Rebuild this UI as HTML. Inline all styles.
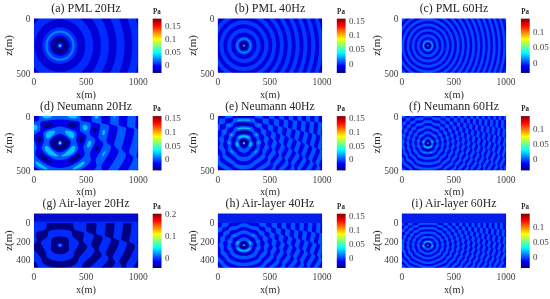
<!DOCTYPE html>
<html lang="en"><head><meta charset="utf-8"><title>Wavefields: PML, Neumann, Air-layer</title>
<style>html,body{margin:0;padding:0;background:#fff}svg{display:block}text{font-family:"Liberation Serif","DejaVu Serif",serif;fill:#262626}.t{fill:#424242}</style></head><body>
<svg width="550" height="299" viewBox="0 0 550 299">
<defs>
<linearGradient id="jet" x1="0" y1="1" x2="0" y2="0"><stop offset="0" stop-color="#000080"/><stop offset="0.125" stop-color="#0000ff"/><stop offset="0.375" stop-color="#00ffff"/><stop offset="0.625" stop-color="#ffff00"/><stop offset="0.875" stop-color="#ff0000"/><stop offset="1" stop-color="#800000"/></linearGradient>
<clipPath id="c00"><rect x="29.95" y="14.55" width="112.20" height="62.20"/></clipPath>
<clipPath id="c01"><rect x="213.85" y="14.55" width="112.20" height="62.20"/></clipPath>
<clipPath id="c02"><rect x="397.85" y="14.55" width="112.20" height="62.20"/></clipPath>
<clipPath id="c10"><rect x="29.95" y="112.00" width="112.20" height="62.20"/></clipPath>
<clipPath id="c11"><rect x="213.85" y="112.00" width="112.20" height="62.20"/></clipPath>
<clipPath id="c12"><rect x="397.85" y="112.00" width="112.20" height="62.20"/></clipPath>
<clipPath id="c20"><rect x="29.95" y="209.60" width="112.20" height="62.20"/></clipPath>
<clipPath id="c21"><rect x="213.85" y="209.60" width="112.20" height="62.20"/></clipPath>
<clipPath id="c22"><rect x="397.85" y="209.60" width="112.20" height="62.20"/></clipPath>
</defs>
<rect width="550" height="299" fill="#fff"/>
<g clip-path="url(#c00)">
<rect x="29.95" y="14.55" width="112.20" height="62.20" fill="#0000d4"/>
<ellipse cx="60.00" cy="45.65" rx="80.11" ry="83.34" fill="#002aff"/>
<ellipse cx="60.00" cy="45.65" rx="72.30" ry="75.21" fill="#0000d4"/>
<ellipse cx="60.00" cy="45.65" rx="64.49" ry="67.08" fill="#002aff"/>
<ellipse cx="60.00" cy="45.65" rx="56.67" ry="58.96" fill="#0000d4"/>
<ellipse cx="60.00" cy="45.65" rx="48.86" ry="50.83" fill="#002aff"/>
<ellipse cx="60.00" cy="45.65" rx="41.05" ry="42.70" fill="#0000d4"/>
<ellipse cx="60.00" cy="45.65" rx="33.24" ry="34.58" fill="#002aff"/>
<ellipse cx="60.00" cy="45.65" rx="25.43" ry="26.45" fill="#0000d4"/>
<ellipse cx="60.00" cy="45.65" rx="17.63" ry="18.34" fill="#002aff"/>
<ellipse cx="60.00" cy="45.65" rx="14.62" ry="15.21" fill="#0080ff"/>
<ellipse cx="60.00" cy="45.65" rx="12.42" ry="12.92" fill="#002aff"/>
<ellipse cx="60.00" cy="45.65" rx="9.84" ry="10.24" fill="#0000d4"/>
<ellipse cx="60.00" cy="45.65" rx="7.96" ry="8.28" fill="#000080"/>
<ellipse cx="60.00" cy="45.65" rx="3.33" ry="3.47" fill="#0000d4"/>
<ellipse cx="60.00" cy="45.65" rx="2.22" ry="2.31" fill="#002aff"/>
<ellipse cx="60.00" cy="45.65" rx="1.49" ry="1.55" fill="#0080ff"/>
<ellipse cx="60.00" cy="45.65" rx="0.98" ry="1.02" fill="#00d4ff"/>
<ellipse cx="60.00" cy="45.65" rx="0.63" ry="0.65" fill="#2affd5"/>
<ellipse cx="60.00" cy="45.65" rx="0.40" ry="0.41" fill="#7fff80"/>
<ellipse cx="60.00" cy="45.65" rx="0.25" ry="0.26" fill="#d5ff2a"/>
<ellipse cx="60.00" cy="45.65" rx="0.15" ry="0.16" fill="#ffd500"/>
<ellipse cx="60.00" cy="45.65" rx="0.09" ry="0.10" fill="#ff8000"/>
<ellipse cx="60.00" cy="45.65" rx="0.06" ry="0.06" fill="#ff2b00"/>
<ellipse cx="60.00" cy="45.65" rx="0.04" ry="0.04" fill="#d50000"/>
<ellipse cx="60.00" cy="45.65" rx="0.02" ry="0.02" fill="#800000"/>
<ellipse cx="60.00" cy="45.65" rx="0.01" ry="0.01" fill="#800000"/>
<ellipse cx="60.00" cy="45.65" rx="0.01" ry="0.01" fill="#800000"/>
<ellipse cx="60.00" cy="45.65" rx="0.01" ry="0.01" fill="#800000"/>
</g>
<g clip-path="url(#c01)">
<rect x="213.85" y="14.55" width="112.20" height="62.20" fill="#003aff"/>
<ellipse cx="243.90" cy="45.65" rx="83.04" ry="86.38" fill="#0000dc"/>
<ellipse cx="243.90" cy="45.65" rx="79.13" ry="82.32" fill="#003aff"/>
<ellipse cx="243.90" cy="45.65" rx="75.22" ry="78.25" fill="#0000dc"/>
<ellipse cx="243.90" cy="45.65" rx="71.31" ry="74.19" fill="#003aff"/>
<ellipse cx="243.90" cy="45.65" rx="67.41" ry="70.12" fill="#0000dc"/>
<ellipse cx="243.90" cy="45.65" rx="63.50" ry="66.06" fill="#003aff"/>
<ellipse cx="243.90" cy="45.65" rx="59.59" ry="61.99" fill="#0000dc"/>
<ellipse cx="243.90" cy="45.65" rx="55.69" ry="57.93" fill="#003aff"/>
<ellipse cx="243.90" cy="45.65" rx="51.78" ry="53.86" fill="#0000dc"/>
<ellipse cx="243.90" cy="45.65" rx="47.87" ry="49.80" fill="#003aff"/>
<ellipse cx="243.90" cy="45.65" rx="43.96" ry="45.74" fill="#0000dc"/>
<ellipse cx="243.90" cy="45.65" rx="40.06" ry="41.67" fill="#003aff"/>
<ellipse cx="243.90" cy="45.65" rx="36.15" ry="37.61" fill="#0000dc"/>
<ellipse cx="243.90" cy="45.65" rx="32.24" ry="33.54" fill="#003aff"/>
<ellipse cx="243.90" cy="45.65" rx="28.34" ry="29.48" fill="#0000dc"/>
<ellipse cx="243.90" cy="45.65" rx="24.43" ry="25.41" fill="#003aff"/>
<ellipse cx="243.90" cy="45.65" rx="20.52" ry="21.35" fill="#0000dc"/>
<ellipse cx="243.90" cy="45.65" rx="16.62" ry="17.29" fill="#003aff"/>
<ellipse cx="243.90" cy="45.65" rx="12.71" ry="13.23" fill="#0000dc"/>
<ellipse cx="243.90" cy="45.65" rx="8.81" ry="9.17" fill="#003aff"/>
<ellipse cx="243.90" cy="45.65" rx="7.31" ry="7.60" fill="#0097ff"/>
<ellipse cx="243.90" cy="45.65" rx="6.21" ry="6.46" fill="#003aff"/>
<ellipse cx="243.90" cy="45.65" rx="4.92" ry="5.12" fill="#0000dc"/>
<ellipse cx="243.90" cy="45.65" rx="3.98" ry="4.14" fill="#000080"/>
<ellipse cx="243.90" cy="45.65" rx="1.67" ry="1.73" fill="#0000dc"/>
<ellipse cx="243.90" cy="45.65" rx="1.11" ry="1.16" fill="#003aff"/>
<ellipse cx="243.90" cy="45.65" rx="0.75" ry="0.78" fill="#0097ff"/>
<ellipse cx="243.90" cy="45.65" rx="0.49" ry="0.51" fill="#00f3ff"/>
<ellipse cx="243.90" cy="45.65" rx="0.31" ry="0.33" fill="#51ffae"/>
<ellipse cx="243.90" cy="45.65" rx="0.20" ry="0.21" fill="#aeff51"/>
<ellipse cx="243.90" cy="45.65" rx="0.12" ry="0.13" fill="#fff300"/>
<ellipse cx="243.90" cy="45.65" rx="0.08" ry="0.08" fill="#ff9700"/>
<ellipse cx="243.90" cy="45.65" rx="0.05" ry="0.05" fill="#ff3a00"/>
<ellipse cx="243.90" cy="45.65" rx="0.03" ry="0.03" fill="#dc0000"/>
<ellipse cx="243.90" cy="45.65" rx="0.02" ry="0.02" fill="#800000"/>
<ellipse cx="243.90" cy="45.65" rx="0.01" ry="0.01" fill="#800000"/>
<ellipse cx="243.90" cy="45.65" rx="0.01" ry="0.01" fill="#800000"/>
</g>
<g clip-path="url(#c02)">
<rect x="397.85" y="14.55" width="112.20" height="62.20" fill="#0000e5"/>
<ellipse cx="427.90" cy="45.65" rx="83.14" ry="86.49" fill="#004cff"/>
<ellipse cx="427.90" cy="45.65" rx="80.56" ry="83.81" fill="#0000e5"/>
<ellipse cx="427.90" cy="45.65" rx="77.98" ry="81.13" fill="#004cff"/>
<ellipse cx="427.90" cy="45.65" rx="75.41" ry="78.44" fill="#0000e5"/>
<ellipse cx="427.90" cy="45.65" rx="72.83" ry="75.76" fill="#004cff"/>
<ellipse cx="427.90" cy="45.65" rx="70.25" ry="73.08" fill="#0000e5"/>
<ellipse cx="427.90" cy="45.65" rx="67.67" ry="70.40" fill="#004cff"/>
<ellipse cx="427.90" cy="45.65" rx="65.09" ry="67.72" fill="#0000e5"/>
<ellipse cx="427.90" cy="45.65" rx="62.52" ry="65.04" fill="#004cff"/>
<ellipse cx="427.90" cy="45.65" rx="59.94" ry="62.35" fill="#0000e5"/>
<ellipse cx="427.90" cy="45.65" rx="57.36" ry="59.67" fill="#004cff"/>
<ellipse cx="427.90" cy="45.65" rx="54.78" ry="56.99" fill="#0000e5"/>
<ellipse cx="427.90" cy="45.65" rx="52.20" ry="54.31" fill="#004cff"/>
<ellipse cx="427.90" cy="45.65" rx="49.63" ry="51.63" fill="#0000e5"/>
<ellipse cx="427.90" cy="45.65" rx="47.05" ry="48.95" fill="#004cff"/>
<ellipse cx="427.90" cy="45.65" rx="44.47" ry="46.26" fill="#0000e5"/>
<ellipse cx="427.90" cy="45.65" rx="41.89" ry="43.58" fill="#004cff"/>
<ellipse cx="427.90" cy="45.65" rx="39.32" ry="40.90" fill="#0000e5"/>
<ellipse cx="427.90" cy="45.65" rx="36.74" ry="38.22" fill="#004cff"/>
<ellipse cx="427.90" cy="45.65" rx="34.16" ry="35.54" fill="#0000e5"/>
<ellipse cx="427.90" cy="45.65" rx="31.58" ry="32.86" fill="#004cff"/>
<ellipse cx="427.90" cy="45.65" rx="29.00" ry="30.17" fill="#0000e5"/>
<ellipse cx="427.90" cy="45.65" rx="26.43" ry="27.49" fill="#004cff"/>
<ellipse cx="427.90" cy="45.65" rx="23.85" ry="24.81" fill="#0000e5"/>
<ellipse cx="427.90" cy="45.65" rx="21.27" ry="22.13" fill="#004cff"/>
<ellipse cx="427.90" cy="45.65" rx="18.69" ry="19.45" fill="#0000e5"/>
<ellipse cx="427.90" cy="45.65" rx="16.12" ry="16.77" fill="#004cff"/>
<ellipse cx="427.90" cy="45.65" rx="13.54" ry="14.09" fill="#0000e5"/>
<ellipse cx="427.90" cy="45.65" rx="10.96" ry="11.41" fill="#004cff"/>
<ellipse cx="427.90" cy="45.65" rx="8.39" ry="8.73" fill="#0000e5"/>
<ellipse cx="427.90" cy="45.65" rx="5.81" ry="6.05" fill="#004cff"/>
<ellipse cx="427.90" cy="45.65" rx="4.82" ry="5.02" fill="#00b2ff"/>
<ellipse cx="427.90" cy="45.65" rx="4.10" ry="4.26" fill="#004cff"/>
<ellipse cx="427.90" cy="45.65" rx="3.25" ry="3.38" fill="#0000e5"/>
<ellipse cx="427.90" cy="45.65" rx="2.62" ry="2.73" fill="#000080"/>
<ellipse cx="427.90" cy="45.65" rx="1.10" ry="1.14" fill="#0000e5"/>
<ellipse cx="427.90" cy="45.65" rx="0.73" ry="0.76" fill="#004cff"/>
<ellipse cx="427.90" cy="45.65" rx="0.49" ry="0.51" fill="#00b2ff"/>
<ellipse cx="427.90" cy="45.65" rx="0.32" ry="0.34" fill="#19ffe6"/>
<ellipse cx="427.90" cy="45.65" rx="0.21" ry="0.22" fill="#80ff80"/>
<ellipse cx="427.90" cy="45.65" rx="0.13" ry="0.14" fill="#e5ff1a"/>
<ellipse cx="427.90" cy="45.65" rx="0.08" ry="0.08" fill="#ffb200"/>
<ellipse cx="427.90" cy="45.65" rx="0.05" ry="0.05" fill="#ff4d00"/>
<ellipse cx="427.90" cy="45.65" rx="0.03" ry="0.03" fill="#e50000"/>
<ellipse cx="427.90" cy="45.65" rx="0.02" ry="0.02" fill="#800000"/>
<ellipse cx="427.90" cy="45.65" rx="0.01" ry="0.01" fill="#800000"/>
<ellipse cx="427.90" cy="45.65" rx="0.01" ry="0.01" fill="#800000"/>
</g>
<g clip-path="url(#c10)">
<rect x="29.95" y="112.00" width="112.20" height="62.20" fill="#000080"/>
<path fill="#0000eb" d="M35.38 114l49.24 0 -.43 .5 -.33 .75 -.09 .5 0 .5 .17 .75 .43 .75 .58 .5 .75 .33 .75 .11 .75-.08 .74-.36 .46-.5 .26-.5 .18-.75 0-1 -.18-.75 -.45-.75 16.77 0 -.28 .53 -.19 .72 -.06 .75 .06 .75 .19 .72 .25 .49 .25 .29 .5 .24 .25 0 .25-.08 .25-.17 .36-.49 .27-.75 .1-.75 -.06-1 -.17-.69 -.29-.56 33.54 0 0 56.75 0 1.5 -53.76 0 1.02-1 .38-.5 .28-.5 .08-.25 -.01-.25 -.24-.25 -.25-.03 -.5 .08 -.5 .17 -1 .46 -1.47 .82 -2.03 1.25 -44.4 0 -2.03-1.25 -1.83-1 -1.24-.47 -.5-.05 -.25 .08 0-51.41 .25 .19 .5 .24 .5 .1 .5 .01 .5-.08 .5-.17 .5-.29 .43-.4 .33-.5 .18-.5 .09-.5 0-.5 -.09-.5 -.18-.5 -.26-.41zM38.45 135.72l-.5 .21 -.47 .32 -.28 .26 -.37 .49 -.24 .5 -.14 .5 -.05 1 .12 .75 .23 .75 .34 .75 .36 .59 .75 .8 .5 .28 .5 .09 .5-.11 .5-.32 .5-.56 .25-.43 .25-.6 .17-.74 .07-.75 -.05-.75 -.13-.75 -.24-.75 -.32-.64 -.26-.36 -.49-.41 -.5-.19 -.5-.03zM48.2 122.48l-1 .11 -1 .2 -.75 .23 -.75 .36 -.51 .37 -.45 .5 -.29 .53 -.18 .72 .01 .75 .17 .64 .25 .44 .5 .45 .75 .26 .75 .03 1-.14 1-.25 1.86-.68 1.04-.5 .85-.5 .67-.5 .49-.5 .31-.5 .07-.25 -.06-.5 -.16-.25 -.32-.29 -.75-.36 -.75-.21 -.75-.11 -1-.07zM58.95 136.5l-1.5 .3 -1.75 .65 -1.5 .83 -1.25 .95 -.96 1.02 -.62 1 -.33 1 -.07 .5 .03 .75 .09 .5 .24 .75 .37 .75 .49 .75 1.1 1.25 1.41 1.12 1.5 .84 1.5 .54 1.5 .26 .75 .04 1-.05 1.5-.3 1.5-.56 1.5-.87 1.26-1.02 1.1-1.25 .75-1.25 .4-1.25 .07-.75 -.03-.5 -.17-.75 -.2-.5 -.68-1.07 -.5-.57 -.67-.61 -1.33-.94 -1.5-.77 -1.75-.58 -1.5-.25 -.75-.02zM70.2 122.49l-1.6 .26 -.69 .25 -.42 .25 -.29 .29 -.19 .46 0 .25 .2 .5 .4 .5 .58 .5 .76 .5 .94 .5 1.84 .75 .97 .29 1 .21 .75 .07 .78-.07 .61-.25 .51-.5 .33-.75 .07-.75 -.12-.75 -.37-.75 -.31-.37 -.5-.4 -.75-.4 -.75-.25 -1.75-.32zM80.45 135.67l-.5 .23 -.25 .21 -.33 .39 -.39 .75 -.24 .75 -.13 .75 -.04 .75 .06 .75 .1 .5 .28 .75 .28 .5 .41 .49 .33 .26 .42 .2 .5 .05 .5-.14 .5-.34 .27-.27 .48-.63 .34-.62 .3-.75 .19-.75 .08-.75 -.02-.5 -.14-.64 -.25-.57 -.25-.36 -.43-.43 -.57-.37 -.5-.19 -.5-.08zM94.7 127.2l-.5 .21 -.25 .2 -.5 .67 -.25 .59 -.16 .63 -.08 .75 .01 .5 .23 1 .25 .47 .25 .3 .29 .23 .46 .19 .5 0 .25-.07 .5-.33 .25-.28 .43-.76 .32-1.08 .06-1.17 -.14-.75 -.17-.41 -.25-.37 -.25-.24 -.5-.26 -.25-.05zM97.2 145.97l-.75 .59 -.75 1 -.61 1.19 -.42 1.25 -.12 1 .15 .67 .25 .31 .25 .1 .25 .01 .34-.09 .41-.22 .5-.42 .71-.86 .6-1 .48-1.25 .15-1 -.04-.5 -.15-.43 -.25-.32 -.25-.12 -.25-.04zM110.95 157.73l-.25 .17 -.5 .65 -.29 .7 .04 .37 .25-.04 .25-.2 .5-.72 .22-.66 -.13-.25zM112.2 132.95l-.25 .21 -.25 .33 -.25 .5 -.23 .76 -.1 .75 .05 .75 .21 .5 .32 .19 .25-.05 .44-.39 .31-.51 .26-.74 .13-.75 -.01-.75 -.13-.5 -.25-.3 -.25-.07zM40.2 153.69l-.4 .31 -.22 .5 -.02 .75 .2 .75 .37 .75 .57 .82 .85 .93 .84 .75 .99 .75 1.19 .75 1.38 .72 1.25 .53 1.5 .48 1 .22 1 .11 .75-.02 .25-.04 .41-.25 .05-.25 -.1-.25 -.64-.75 -1.18-1 -5.79-4.49 -1.75-1.27 -.75-.46 -.75-.32 -.5-.1zM78.7 153.74l-1 .49 -1.5 1.04 -6.13 4.73 -1.74 1.5 -.39 .5 -.09 .25 .1 .31 .5 .22 1.25 0 1.25-.22 1.13-.31 1.34-.5 1.03-.47 1-.54 1.17-.74 .99-.75 .85-.75 .74-.8 .67-.95 .46-1 .14-.75 -.04-.5 -.09-.25 -.14-.26 -.25-.23 -.5-.15zM59.18 139.75l.52-.15 .5-.01 .5 .11 .5 .25 .5 .42 .3 .38 .29 .5 .26 .75 .09 .5 .01 .75 -.15 .75 -.19 .5 -.3 .5 -.31 .36 -.5 .39 -.5 .23 -.5 .11 -.5-.01 -.5-.13 -.5-.26 -.5-.43 -.25-.32 -.37-.69 -.15-.5 -.08-.5 .01-.75 .15-.75 .19-.48 .3-.52 .42-.5 .28-.23zM31.95 170.5l0-.11 .39 .61 .43 .5 .79 .75 -1.61 0z"/>
<path fill="#0057ff" d="M39.33 114l41.34 0 -.02 3 .09 2 .21 .98 .34 .52 .66 .4 1 .3 6 1.14 .75 .24 .34 .17 .31 .25 .17 .25 .16 .5 .04 1.25 -.23 2.25 -.74 5 -.04 1 .09 .75 .31 .75 .61 .75 .9 .75 2.39 1.75 .75 .75 .31 .5 .17 .5 .05 .5 -.03 .5 -.35 1.5 -.78 2 -1.06 2.25 -2.48 4.75 -.43 1 -.31 1 -.11 1 .09 1 .79 2.75 .2 1 0 1 -.27 1 -.71 1.25 -1.24 1.5 -1.84 1.75 -2.06 1.66 -2 1.41 -2.25 1.4 -2.25 1.23 -2.18 1.05 -32.04 0 -3.28-1.63 -3.25-1.95 -1.5-1.03 -1.51-1.14 -1.2-1 -1.29-1.19 0-42.18 5.25-.97 1-.33 .5-.33 .34-.5 .22-1 .09-2zM58.2 119.49l-9.25 .85 -4.25 .47 -2.61 .44 -.64 .2 -.5 .26 -.31 .29 -.15 .25 -.2 .75 -.06 1.25 .12 4.5 -.14 1 -.26 .75 -.5 .71 -.58 .54 -1.08 .75 -2.43 1.5 -.71 .5 -.56 .5 -.41 .5 -.24 .5 -.12 .5 0 .75 .16 1 .35 1.25 .64 1.75 1.62 4 .31 1 .18 1 .02 .75 -.15 1 -.95 2.75 -.27 1 -.09 .75 .06 .75 .21 .75 .36 .75 .68 1 .84 1 .98 1 1.4 1.25 1.28 1.01 1.5 1.07 1.5 .95 1.75 1 1.5 .77 1.75 .79 1.5 .59 1.75 .59 1.5 .43 1.75 .38 1.75 .27 1.5 .13 1.5 .04 1.5-.06 2.75-.36 1.5-.32 1.5-.4 3-1.05 3-1.35 3-1.69 2.61-1.79 1.27-1 1.13-1 1.02-1 .88-1 .72-1 .4-.75 .26-.75 .11-.75 -.04-.75 -.16-.75 -.88-2.5 -.27-1 -.11-1 .1-1 .51-1.75 1.53-3.75 .64-1.75 .4-1.5 .12-1.25 -.06-.5 -.17-.5 -.32-.5 -.49-.5 -1.01-.75 -2.43-1.5 -1.01-.7 -.62-.55 -.53-.75 -.26-.75 -.14-1 .12-4.5 -.06-1.25 -.1-.5 -.16-.36 -.25-.31 -.25-.19 -.75-.31 -1.25-.28 -4.5-.57 -10.25-.96 -2-.09zM91.71 114l9.61 0 -.05 7.5 .13 1 .25 .5 .55 .41 .75 .27 4 .9 1.25 .38 .49 .29 .23 .25 .19 .5 .05 .75 -.04 .75 -.35 2.5 -.71 3.5 -1.43 5.75 -.2 1.25 -.01 .75 .17 .75 .46 .75 .75 .75 2.12 1.75 .69 .75 .28 .5 .15 .5 .03 .5 -.09 .75 -.37 1.25 -.5 1.25 -1.62 3.25 -2.04 3.46 -3.76 5.79 -.57 1 -.44 1 -.25 1 -.03 1 .16 1 .59 2.5 .06 .75 -.06 .75 -1.95 0 -8.59 0 1.72-1.5 1.46-1.5 .97-1.25 .54-1 .23-.75 .07-1 -.15-1 -.54-2 -.2-1 -.03-1 .2-1 .38-1 .51-1 3.28-5.5 1.73-3.25 .78-1.75 .46-1.25 .25-1 .06-.75 -.14-.75 -.44-.75 -.75-.75 -1.92-1.5 -.84-.75 -.57-.75 -.27-.75 -.05-.75 .13-1.25 1.15-5.5 .49-3 .13-1.75 -.03-.5 -.12-.5 -.14-.25 -.25-.25 -.76-.36 -1.25-.33 -4.25-.9 -.75-.27 -.54-.39 -.27-.5 -.15-1zM110.31 114l8.66 0 0 4 -.21 5.75 .06 1 .14 .5 .16 .25 .29 .25 .79 .35 3.75 .9 1.25 .4 .5 .32 .21 .28 .18 .75 -.03 1 -.18 1.5 -.8 4.25 -1.13 4.5 -1.91 6.5 -.27 1.25 -.05 .75 .04 .5 .16 .5 .49 .75 .76 .75 1.74 1.5 .48 .5 .36 .5 .22 .5 .09 .5 -.02 .5 -.14 .75 -.61 1.75 -1.32 2.75 -1.66 3 -1.86 3 -2 2.96 -2.19 3.04 -1.06 0 -8.16 0 .3-1 .79-1.5 4.82-7.05 1.55-2.45 1.31-2.25 1.06-2 .94-2 .56-1.5 .25-1.25 -.05-.75 -.32-.75 -.63-.75 -2.06-1.75 -.74-.75 -.47-.75 -.15-.5 -.05-.5 .06-.75 .2-1 1.7-6.25 .93-4 .59-3.5 .1-1.25 -.04-.75 -.17-.5 -.2-.25 -.62-.37 -1-.31 -3.25-.73 -1-.29 -.63-.3 -.28-.25 -.15-.25 -.14-.5 -.07-1 .14-5zM127.42 114l8.32 0 -.03 5.25 -.35 7 .02 .75 .09 .5 .27 .5 .32 .25 .39 .19 1.01 .31 2.74 .65 0 13.72 -1.25 4.26 -2.06 6.37 -.31 1.25 -.08 .75 .02 .5 .13 .5 .44 .75 .71 .75 1.71 1.5 .69 .77 0 3.52 -.61 1.46 -.97 2 -1.22 2.25 -1.46 2.5 -3.74 0 -5.93 0 2.58-4 2.15-3.75 1.58-3.25 .48-1.25 .28-1 .05-1 -.12-.5 -.26-.5 -.64-.75 -1.98-1.75 -.7-.75 -.41-.75 -.11-.5 -.02-.5 .14-1 .26-1 2.15-6.96 1.27-4.79 .98-4.75 .29-2 .08-1.25 -.02-.5 -.14-.5 -.16-.25 -.31-.25 -.54-.25 -.7-.22 -3-.7 -1.12-.33 -.63-.32 -.37-.43 -.15-.5 -.05-1 .28-6.25zM59.03 126.5l1.67-.02 1.75 .26 2.25 .6 4.25 1.31 3 1.03 1.98 .82 1.37 .75 .88 .75 .34 .5 .19 .5 .1 .5 .03 .75 -.14 1.5 -.63 3.75 -.05 1 .05 .75 .15 .75 .35 1 1.54 3.25 .23 .75 .09 .75 -.06 .75 -.31 1 -.54 1 -.72 1 -.88 1 -1.28 1.25 -1.19 1.01 -1.5 1.11 -1.25 .82 -1.5 .86 -1.5 .74 -1.5 .63 -1.5 .5 -1.25 .32 -1.25 .22 -1.5 .14 -1.25 .01 -1.5-.13 -1.5-.26 -1.5-.41 -1.5-.53 -1.5-.65 -1.5-.77 -1.5-.89 -1.5-1.03 -1.5-1.17 -1.13-1.02 -1.2-1.25 -.98-1.25 -.59-1 -.37-1 -.11-.75 .05-.75 .27-1 1.64-3.5 .25-.75 .15-.75 .05-.75 -.05-1 -.63-3.75 -.14-1.5 .03-.75 .1-.5 .19-.5 .34-.5 .63-.57 1.11-.68 1.39-.64 1.59-.61 3.16-1.06 4.25-1.29 1.75-.44zM59.95 133.74l-.75 .06 -.75 .15 -.75 .24 -1 .45 -2 1.22 -2 1.51 -1.8 1.63 -1.05 1.25 -.44 .75 -.22 .5 -.14 .5 -.06 .75 .08 .75 .21 .75 .32 .75 .56 1 .7 1 .61 .75 .73 .78 1 .93 1.75 1.3 1 .57 .75 .34 .75 .27 1 .26 1 .13 .75 .01 .75-.05 1-.18 1.5-.5 1-.5 .75-.45 1.75-1.33 1.58-1.58 .8-1 .51-.75 .56-1 .32-.75 .21-.75 .08-.75 -.02-.5 -.18-.75 -.21-.5 -.46-.75 -.58-.75 -.71-.75 -1.65-1.46 -2.25-1.66 -1.75-1.04 -1-.43 -.75-.24 -.75-.14zM59.18 141.25l.52-.2 .75 .04 .37 .16 .34 .25 .38 .5 .24 .75 -.04 .75 -.33 .75 -.54 .5 -.67 .24 -.75-.08 -.5-.28 -.25-.24 -.26-.39 -.22-.75 .05-.75 .35-.75z"/>
<path fill="#00c3ff" d="M43.34 114.25l.37-.25 5.87 0 1.12 .39 .71 .36 .63 .5 .18 .25 .14 .5 -.14 .5 -.18 .25 -.59 .48 -.5 .27 -.75 .3 -1 .3 -2 .33 -1.75 .02 -.75-.11 -.75-.23 -.5-.27 -.37-.34 -.33-.5 -.16-.5 -.04-.75 .1-.5 .24-.5zM69.64 114.25l.78-.25 5.87 0 .16 .1 .47 .4 .33 .5 .2 .75 -.04 .75 -.16 .5 -.33 .5 -.47 .4 -.75 .34 -.75 .17 -.75 .06 -1-.01 -1-.1 -1-.17 -1-.26 -1-.36 -.61-.32 -.39-.28 -.42-.47 -.11-.25 0-.5 .28-.48 .28-.27 .72-.45zM95.1 114.25l.16-.25 2.61 0 .08 .12 .35 .88 .08 .5 .02 .75 -.2 1.09 -.25 .54 -.25 .34 -.5 .37 -.25 .09 -.5 .04 -.5-.15 -.25-.14 -.5-.52 -.23-.41 -.16-.5 -.13-1 .13-1zM114.33 114.25l.12-.09 .25-.03 .25 .12 .25 .33 .25 .81 .04 .61 -.07 .75 -.22 .67 -.25 .33 -.25 .12 -.25-.03 -.25-.21 -.25-.47 -.1-.41 -.07-.75 .07-.75 .14-.5 .21-.38zM34.69 124.75l.51-.03 .5 .07 .5 .18 .4 .28 .35 .4 .2 .35 .17 .5 .08 .5 -.01 .75 -.1 .5 -.18 .5 -.29 .5 -.37 .44 -.36 .31 -.39 .25 -.63 .25 -.62 .08 -.5-.07 -.5-.26 -.25-.22 -.37-.53 -.23-.5 -.15-.54 -.09-.71 .09-1 .17-.5 .3-.5 .28-.31 .5-.36 .5-.21zM84.52 124.75l.93 .02 .5 .15 .5 .25 .41 .33 .34 .42 .34 .83 .08 .5 0 .75 -.14 .75 -.28 .71 -.25 .39 -.41 .4 -.34 .2 -.5 .12 -.5-.01 -.5-.13 -.5-.24 -.5-.36 -.33-.33 -.35-.5 -.23-.5 -.14-.5 -.07-.75 .05-.5 .12-.5 .2-.44 .25-.36 .5-.42zM103.52 130l.43-.17 .25 .01 .25 .09 .25 .2 .34 .62 .13 .75 -.05 1 -.17 .74 -.19 .51 -.43 .75 -.54 .5 -.34 .13 -.25-.01 -.25-.08 -.25-.21 -.32-.58 -.14-.75 .05-1 .23-1 .43-.92 .25-.32zM51.16 130.75l1.04-.13 .75-.02 .75 .06 .5 .12 .48 .22 .27 .25 .12 .25 0 .5 -.2 .5 -.49 .75 -1.36 1.5 -2.07 1.86 -1 .78 -.92 .61 -.83 .4 -.75 .1 -.5-.17 -.5-.46 -.46-.87 -.26-1 -.03-1 .14-.75 .32-.75 .36-.5 .5-.5 .68-.5 .75-.4 .84-.35 .91-.29zM65.89 130.75l.81-.13 1-.01 1 .12 1.23 .27 1.02 .34 .9 .41 .81 .5 .59 .5 .45 .54 .38 .71 .19 .75 .04 .75 -.11 .86 -.25 .79 -.32 .6 -.46 .5 -.47 .22 -.5 .02 -.5-.13 -.75-.37 -1-.68 -1-.78 -2.22-2.03 -1.29-1.5 -.31-.5 -.2-.5 0-.5 .12-.25 .27-.25zM89.41 140.75l.29-.08 .5 .01 .5 .23 .25 .23 .25 .36 .19 .5 .07 .5 0 .5 -.25 1.25 -.56 1.25 -.7 1.03 -.5 .52 -.5 .35 -.5 .19 -.25 .02 -.42-.11 -.33-.25 -.25-.37 -.14-.38 -.1-.5 0-.75 .12-.75 .2-.75 .66-1.5 .76-1.01 .27-.24zM59.35 142l.35-.18 .5-.02 .5 .23 .37 .47 .12 .5 -.07 .5 -.31 .5 -.36 .25 -.25 .08 -.5-.03 -.5-.29 -.21-.26 -.17-.5 .02-.5 .24-.5zM31.95 142.25l0-.18 .5 .96 .27 .72 .25 1 .08 .75 -.02 .5 -.09 .5 -.24 .56 -.25 .29 -.5 .24zM45.95 145.75l.25-.08 .5 .02 .5 .2 .5 .36 1 .95 3.25 3.47 2 1.86 1.25 1.01 1.25 .87 2.36 1.34 .09 .25 -.73 .25 -.72 .09 -1.25 .05 -1.5-.11 -1.43-.28 -1.32-.4 -1.44-.6 -1.31-.71 -1.18-.79 -1.07-.9 -.82-.85 -.74-1 -.5-1 -.26-1 .01-1 .21-.75 .46-.75 .39-.36zM73.12 145.75l.58-.09 .34 .09 .41 .25 .43 .5 .27 .5 .24 1 -.06 1 -.32 1 -.56 1 -.8 1 -.95 .92 -1.07 .83 -1.18 .75 -1.5 .75 -1.35 .5 -1.4 .37 -1.25 .2 -1.5 .07 -1.63-.14 -.72-.25 .09-.25 2.51-1.44 1-.7 1.25-.99 2.25-2.1 3.75-3.97 .75-.6zM104.31 151.5l.39-.16 .25 .03 .25 .25 .09 .63 -.13 .75 -.41 1 -.55 .92 -.75 .87 -.5 .37 -.5 .15 -.25-.1 -.13-.21 -.06-.5 .15-.75 .52-1.25 .52-.85 .5-.64zM35.73 161.5l.47-.03 .5 .11 .5 .18 1 .51 1.98 1.23 4.03 2.75 1.69 1.25 1.1 1 .29 .5 -.05 .25 -.29 .16 -.5 .07 -1-.1 -1-.23 -1.25-.4 -2.26-1 -2.08-1.25 -1-.75 -.84-.75 -.7-.75 -.55-.75 -.37-.75 -.11-.5 .11-.5zM83.6 161.5l.6-.02 .25 .12 .15 .15 .1 .25 .01 .25 -.11 .5 -.22 .5 -.49 .75 -.66 .75 -.79 .75 -1.67 1.25 -2.2 1.25 -1.12 .5 -1.25 .46 -1.02 .29 -.98 .18 -1 .02 -.44-.2 -.05-.25 .11-.25 .41-.5 .56-.5 2.36-1.75 4.05-2.75 2-1.2 .75-.35z"/>
<path fill="#2fffd0" d="M59.46 142.5l.24-.17 .25-.06 .25 .02 .34 .21 .16 .25 .08 .25 -.02 .25 -.09 .25 -.22 .25 -.25 .13 -.25 .03 -.25-.07 -.25-.19 -.21-.4 -.01-.25 .06-.25z"/>
<path fill="#9aff65" d="M59.63 142.75l.32-.18 .25 .05 .16 .13 .13 .25 -.04 .29 -.25 .28 -.25 .05 -.25-.12 -.18-.25 -.01-.25z"/>
<path fill="#fff800" d="M59.71 143l.24-.23 .25 .08 .11 .15 -.03 .25 -.08 .09 -.25 .09 -.22-.18z"/>
<path fill="#ff8d00" d="M59.82 143l.13-.12 .2 .12 -.09 .25 -.11 .06 -.07-.06z"/>
<path fill="#ff2200" d="M59.93 143l.02-.02 .03 .02 -.03 .06z"/>
</g>
<g clip-path="url(#c11)">
<rect x="213.85" y="112.00" width="112.20" height="62.20" fill="#000080"/>
<path fill="#0000eb" d="M215.85 114l108.25 0 0 58.25 -108.25 0zM222.85 126.45l-.15 .05 -.1 .13 0 .17 .25 .07 .14-.12 -.03-.25zM225.35 144.96l-.25 .15 -.07 .39 .15 .5 .17 .26 .25 .2 .25 .04 .19-.25 .03-.25 -.22-.66 -.25-.28zM225.85 136.74l-.24 .51 .05 .5 .19 .3 .25 .11 .25-.04 .25-.2 .1-.17 .14-.5 -.04-.25 -.2-.35 -.25-.12 -.25 .05zM228.6 120.23l-.5 .21 -.21 .31 .07 .25 .14 .11 .25 .1 .5-.02 .5-.28 .11-.16 -.02-.25 -.34-.23zM230.1 129.45l-.5 .25 -.25 .25 -.15 .3 -.03 .25 .08 .25 .35 .24 .5-.04 .45-.2 .32-.25 .23-.33 .07-.42 -.17-.25 -.15-.08 -.25-.04zM233.85 138.15l-.5 .3 -.47 .55 -.2 .5 -.05 .5 .19 .75 .28 .36 .25 .13 .25 0 .25-.11 .4-.38 .35-.54 .24-.71 .05-.5 -.1-.5 -.19-.3 -.25-.12zM238.1 115.47l-.93 .28 -.17 .25 .17 .25 .18 .08 .54 .17 .46 .06 1.5 .05 4.25-.08 4 .08 1.5-.07 .5-.09 .5-.18 .21-.27 -.18-.25 -.28-.12 -.45-.13 -.55-.07 -1.5-.04 -4.25 .08 -4-.08zM253.35 138.11l-.25 .2 -.16 .44 -.01 .5 .17 .75 .26 .5 .49 .56 .25 .15 .25 .05 .25-.08 .25-.23 .25-.52 .06-.68 -.12-.5 -.3-.5 -.39-.38 -.5-.26 -.25-.04zM256.85 129.46l-.22 .29 0 .25 .31 .5 .32 .25 .34 .16 .5 .09 .25-.07 .2-.18 .08-.25 -.03-.27 -.34-.48 -.4-.25 -.26-.08 -.5-.03zM258.85 120.23l-.25 .08 -.25 .19 -.02 .25 .27 .29 .5 .18 .25 .01 .25-.07 .25-.16 .06-.25 -.06-.13 -.07-.12 -.43-.24zM261.1 136.75l-.13 .5 .13 .53 .25 .28 .25 .1 .25-.05 .13-.11 .16-.25 .05-.25 -.09-.54 -.25-.3 -.25-.12 -.25 .02zM262.35 144.97l-.33 .28 -.24 .5 -.01 .5 .08 .18 .25 .07 .25-.15 .25-.3 .17-.55 -.02-.25 -.14-.25zM264.85 126.47l-.05 .28 .3 .12 .11-.12 -.08-.25zM228.85 154.74l.04 .26 .41 .5 .32 .25 .48 .22 .25-.22 -.4-.5 -.6-.45 -.25-.1zM233.6 146.24l-.25 .04 -.24 .22 -.1 .25 -.03 .5 .23 .75 .39 .59 .5 .52 .5 .39 .75 .33 .25 .01 .2-.09 .11-.25 -.05-.5 -.2-.5 -.44-.75 -.62-.8 -.5-.47zM240.6 123.5l-2 .21 -1.02 .29 -.4 .25 -.16 .25 .09 .25 .49 .2 .5 .06 1 0 4.5-.3 3.25 .15 2.5 .16 .75-.05 .5-.17 .09-.05 .09-.25 -.16-.25 -.4-.25 -.78-.25 -1.34-.19 -1.25-.08zM254.35 146.24l-.25 .02 -.25 .12 -.5 .41 -.5 .58 -.58 .88 -.32 .75 -.06 .5 .12 .25 .34 .09 .5-.15 .75-.49 .5-.49 .49-.71 .19-.5 .05-.5 -.15-.5zM258.6 154.72l-.46 .28 -.53 .5 -.14 .25 .13 .25 .57-.25 .57-.5 .16-.25 .03-.25 -.08-.06zM240.85 131.49l-1 .2 -.75 .22 -.75 .33 -.38 .26 -.37 .41 -.15 .34 0 .25 .15 .22 .25 .11 .5 .03 .5-.05 2.5-.51 2-.24 1.75 .05 1.75 .26 2.25 .46 .75 .02 .31-.1 .19-.25 .01-.25 -.27-.5 -.63-.5 -1.11-.45 -1.5-.32 -2-.17 -2 0zM242.85 139l-.75 .21 -.75 .36 -.59 .43 -.41 .45 -.31 .55 -.13 .5 -.03 .5 .1 .75 .37 1.08 .75 1.62 .49 .8 .47 .5 .54 .35 .75 .26 .75 .04 .77-.15 .52-.25 .61-.5 .39-.5 .46-.85 .73-1.65 .24-.75 .1-.75 -.08-.75 -.2-.5 -.35-.5 -.56-.5 -.63-.37 -.75-.28 -.75-.16 -1-.03zM243.2 141.75l.65-.17 .5 .07 .25 .1 .5 .36 .44 .64 .18 .75 -.07 .5 -.09 .25 -.4 .5 -.56 .32 -.5 .11 -.75-.06 -.71-.37 -.4-.5 -.09-.25 -.06-.5 .17-.75 .34-.54 .25-.24z"/>
<path fill="#0057ff" d="M215.85 114l2.95 0 0 4 -.13 .5 -.48 .25 -2.34 .25zM224.79 114l7.41 0 .32 .25 .11 .25 .08 .5 .02 1.75 -.13 .84 -.25 .33 -.5 .18 -5.5 .42 -.75 .13 -.25 .14 -.14 .21 -.06 .25 -.06 3 -.09 .5 -.11 .25 -.23 .25 -.47 .25 -3.09 .82 -.52 .18 -.4 .25 -.18 .25 -.11 .5 .01 .75 .19 2.25 0 .5 -.1 .5 -.35 .5 -.34 .25 -1.94 1 -.7 .5 -.27 .5 -.04 .5 .14 1 .58 2.5 .07 1 -.16 .5 -.17 .25 -.96 .94 0-13.75 2.38-.69 .51-.25 .23-.25 .16-.5 .03-.5 -.09-3.25 .08-.5 .2-.24 .25-.1 .75-.12 3.5-.3 .5-.1 .28-.14 .16-.25 .09-.75 .01-2.25zM255.28 114.25l.32-.25 7.41 0 -.1 1 .01 2.25 .09 .75 .16 .25 .43 .18 .45 .07 3.8 .34 .5 .12 .25 .2 .11 .34 .02 .5 -.09 3.25 .08 .5 .11 .25 .24 .25 .5 .25 2.57 .75 .56 .25 .27 .25 .16 .5 .01 .5 -.42 3.25 -.02 .5 .06 .5 .28 .5 .3 .25 2.17 1.25 .45 .5 .11 .5 -.07 .75 -1.01 3.75 -.08 .5 .01 .5 .06 .25 .28 .5 1.27 1.25 .42 .5 .12 .25 .1 .5 -.12 .75 -.27 .75 -1.78 3.75 -.33 1 -.02 .5 .1 .5 .96 2 .07 .5 -.08 .5 -.32 .75 -.62 1 -1.14 1.5 -2.06 2.5 -.83 1.25 -.2 .5 -.09 .5 .05 1.75 -.04 .5 -.25 .75 -.33 .5 -.68 .75 -.85 .75 -2.49 1.81 -2.5 1.55 -5.2 2.89 -2.3 0 -4.35 0 1.1-.49 .83-.51 .67-.53 1.65-1.47 1.38-1 4.72-2.78 2.5-1.64 1.41-1.08 .84-.75 .69-.75 .34-.5 .21-.5 .1-.5 -.09-2 .06-.5 .16-.5 .25-.5 .49-.75 2.63-3.5 .6-1 .29-.75 .06-.5 -.09-.5 -1.02-2 -.13-.5 .01-.5 .28-1 1.39-3.25 .23-.75 .07-.5 -.07-.5 -.28-.5 -1.8-1.75 -.26-.5 -.06-.25 .06-1 .71-3.25 .02-.5 -.13-.5 -.18-.25 -.54-.41 -2.25-1.2 -.41-.39 -.13-.25 -.1-.5 -.01-.5 .22-2.75 -.12-.75 -.18-.25 -.4-.25 -.74-.25 -2.87-.75 -.47-.25 -.23-.25 -.11-.25 -.09-.5 -.06-3 -.07-.25 -.23-.28 -.5-.15 -.58-.07 -4.92-.35 -.75-.15 -.25-.16 -.18-.34 -.05-.25 -.07-1 .05-1.38zM269 114l5.33 0 0 4 .11 .75 .16 .18 .25 .11 3.5 .42 .5 .17 .11 .12 .07 .25 .03 .75 -.3 4 -.01 .5 .09 .5 .15 .25 .34 .25 2.52 .87 .28 .13 .31 .25 .18 .5 -.03 .75 -.78 4.25 -.05 1 .2 .5 .24 .25 1.61 1 .64 .5 .16 .25 .11 .5 -.04 .5 -.25 1 -1.43 4.25 -.11 .5 -.03 .5 .13 .5 .15 .25 1.16 1.25 .38 .5 .18 .5 -.01 .5 -.21 .75 -.44 1 -2.32 4.25 -.35 .75 -.16 .5 -.05 .5 .09 .5 .86 2 .04 .5 -.09 .5 -.51 1 -.9 1.25 -1.46 1.75 -2.71 3 -.75 1 -.36 .75 -.11 .5 .01 1.75 -.06 .5 -.17 .5 -.48 .75 -1 1 -2.37 0 -4.83 0 1.98-1.25 1.76-1.25 1.22-1 .93-1 .31-.5 .18-.5 .08-.5 -.01-2 .13-.5 .23-.5 .91-1.25 3.2-3.75 .74-1 .61-1 .26-.75 .02-.5 -.12-.5 -.83-1.75 -.09-.5 .04-.5 .14-.5 .33-.75 1.46-2.75 .71-1.5 .26-.75 .1-.75 -.13-.5 -.16-.25 -1.42-1.5 -.18-.25 -.2-.5 -.02-.5 .08-.5 1.16-3.75 .23-1 .04-.5 -.11-.5 -.16-.25 -.65-.5 -1.68-1 -.27-.26 -.23-.49 .01-1 .6-3.75 .02-.5 -.1-.5 -.18-.25 -.43-.25 -2.44-.78 -.48-.22 -.29-.25 -.17-.5 -.03-.5 .2-4 -.08-.5 -.15-.18 -.25-.11 -.5-.09 -3.25-.33 -.5-.12 -.22-.17 -.1-.25 -.06-.75zM279.31 114l4.74 0 0 4.75 .05 .5 .12 .25 .63 .23 2.75 .31 .6 .21 .15 .39 .01 .86 -.47 5 .01 1 .1 .25 .35 .31 .38 .19 1.87 .64 .5 .26 .25 .3 .09 .3 -.03 .75 -.16 1 -1.05 4.75 -.05 .5 .04 .5 .31 .5 .3 .25 1.2 .75 .64 .5 .17 .25 .12 .5 -.11 .75 -.28 1 -1.79 4.75 -.35 1.25 .02 .5 .21 .5 1.3 1.5 .28 .5 .07 .5 -.09 .5 -.38 1 -.64 1.25 -2.96 5 -.34 .75 -.12 .5 .05 .75 .66 1.5 .15 .5 .03 .5 -.11 .5 -.23 .5 -.48 .75 -1.38 1.75 -1.84 2.05 -2.85 2.95 -.22 .25 -3.69 0 .03-1.25 .25-.75 .47-.75 .62-.75 2.89-3.09 1.45-1.66 1.15-1.5 .47-.75 .22-.5 .11-.5 -.04-.5 -.83-2 -.07-.75 .12-.5 .33-.75 2.71-4.75 .59-1.25 .25-.75 .05-.5 -.12-.5 -.34-.5 -1.15-1.25 -.27-.5 -.07-.5 .07-.5 .22-.75 1.61-4.5 .21-.75 .09-.75 -.1-.5 -.18-.25 -.48-.4 -1.7-1.1 -.22-.25 -.17-.5 .07-1 .96-4.75 .05-.75 -.11-.5 -.22-.25 -.48-.25 -1.93-.65 -.5-.23 -.25-.21 -.18-.41 -.01-1 .36-4 -.01-1.25 -.09-.25 -.32-.18 -3.5-.46 -.28-.11 -.19-.25 -.07-.75zM288.63 114l4.47 0 -.02 5.25 .09 .75 .18 .19 .5 .15 2.75 .34 .25 .07 .28 .25 .07 .5 -.06 1.25 -.61 5.5 -.02 1 .06 .25 .17 .25 .36 .23 2.09 .77 .43 .25 .21 .25 .09 .5 -.11 1 -.24 1.25 -1.28 5.25 -.07 .5 .02 .5 .25 .5 .27 .25 1.51 1 .29 .25 .19 .25 .12 .5 -.1 .75 -.46 1.5 -2.32 5.75 -.28 1 0 .5 .18 .5 1.26 1.5 .28 .5 .07 .5 -.1 .5 -.39 1 -.8 1.5 -1.19 2 -2.23 3.5 -.65 1.25 -.16 .75 .07 .5 .62 1.5 .15 .5 .02 .5 -.24 .75 -.62 1 -1.19 1.5 -.94 0 -4.62 0 1.63-1.75 1.29-1.5 .77-1 .61-1 .18-.5 .05-.5 -.18-.75 -.64-1.5 -.07-.5 .15-.75 .64-1.25 3.05-5 .77-1.5 .3-.75 .13-.75 -.12-.5 -.33-.5 -1.1-1.25 -.24-.5 -.05-.5 .09-.5 .24-.75 2.05-5.25 .37-1.25 .11-.75 -.12-.5 -.19-.25 -.52-.42 -1.29-.83 -.28-.25 -.29-.5 -.03-.5 .07-.5 1.17-5 .22-1.25 .05-.75 -.15-.5 -.28-.25 -2.58-1 -.3-.25 -.14-.25 -.05-.5 .02-.5 .55-5.25 .04-1 -.05-.5 -.18-.24 -.25-.1 -3-.39 -.25-.05 -.35-.22 -.09-.25 -.03-.5zM297.48 114l4.31 0 -.03 6 .09 .63 .09 .12 .41 .17 3 .42 .27 .16 .1 .25 .02 .75 -.1 1.5 -.76 6.25 .01 1 .13 .25 .3 .25 2.47 1 .26 .25 .13 .5 -.1 1 -.3 1.5 -1.55 6 -.16 1 .08 .5 .2 .3 .53 .45 1.13 .75 .5 .5 .11 .25 .03 .5 -.15 .75 -.5 1.5 -.99 2.5 -1.84 4.25 -.25 .75 -.08 .5 .07 .5 .1 .25 1.4 1.75 .17 .5 -.02 .5 -.35 1 -1.07 2 -1.53 2.5 -2.65 4 -.43 .75 -.32 .75 -.08 .5 .13 .75 -2.49 0 .13-.5 -.01-.5 -.14-.5 -.62-1.5 -.04-.75 .14-.5 .51-1 3.66-5.75 .97-1.75 .55-1.25 .14-.75 -.12-.5 -.33-.5 -1.07-1.25 -.22-.5 -.03-.5 .1-.5 .26-.75 1.69-4 .88-2.25 .47-1.5 .09-.75 -.13-.5 -.2-.25 -1.78-1.25 -.25-.25 -.24-.5 -.01-.5 .14-.75 1.49-6 .23-1.25 .03-.75 -.04-.25 -.15-.25 -.27-.21 -2.25-.87 -.31-.17 -.19-.2 -.13-.3 .01-1 .68-5.75 .07-2 -.13-.32 -.25-.14 -3-.42 -.39-.12 -.19-.25 -.07-.75zM306.05 114l4.22 0 .01 2.75 -.07 3.75 .09 .75 .3 .23 .25 .06 2.75 .37 .26 .09 .21 .25 .03 .15 .01 .85 -.16 2 -.87 6.75 -.02 1 .08 .25 .23 .25 .23 .14 2.25 .9 .26 .21 .14 .25 .04 .25 -.08 1 -.42 2 -1.81 6.75 -.18 1 .06 .5 .12 .25 .22 .25 1.43 1 .53 .5 .17 .5 -.03 .5 -.27 1 -.63 1.75 -1.04 2.5 -2.12 4.75 -.26 .75 -.09 .5 .05 .5 .26 .5 1.21 1.5 .17 .5 -.02 .5 -.24 .75 -.61 1.25 -1.01 1.75 -1.26 2 -1.51 2.25 -.58 0 -4.33 0 2.68-4 1.58-2.5 1.26-2.25 .5-1.25 .06-.5 -.12-.5 -.32-.5 -1.05-1.25 -.21-.5 -.01-.5 .11-.5 .27-.75 1.87-4.25 1.03-2.5 .53-1.5 .27-1 .04-.5 -.17-.5 -.51-.5 -1.48-1.04 -.34-.46 -.06-.5 .23-1.25 1.59-6 .37-1.75 .12-1 -.09-.5 -.19-.25 -.42-.25 -1.98-.75 -.38-.25 -.17-.25 -.08-.5 .03-.5 .77-6 .19-2.25 -.02-1 -.15-.25 -.17-.09 -.75-.15 -2.14-.26 -.36-.1 -.25-.21 -.09-.69zM314.45 114l4.15 0 .01 3.25 -.09 3.75 .08 .83 .12 .17 .38 .14 2.75 .38 .25 .08 .18 .15 .08 .25 -.02 1.25 -.25 2.75 -.96 7 -.03 .5 .07 .5 .17 .25 .37 .25 1.95 .75 .44 .29 0 2.22 -.05 .24 -.85 3.5 -1.57 5.5 -.16 .75 -.04 .5 .15 .5 .19 .25 1.4 1 .56 .5 .19 .5 -.02 .5 -.43 1.5 -.97 2.5 -1.15 2.65 -1.9 4.1 -.49 1.25 -.1 .75 .14 .5 1.35 1.75 .12 .25 .07 .5 -.09 .5 -.18 .5 -.62 1.25 -1.01 1.75 -.29 0 -4.52 0 2.15-3.5 .53-1 .44-1 .12-.75 -.12-.5 -.32-.5 -.86-1 -.3-.5 -.09-.5 .07-.5 .46-1.25 1.94-4.26 1.06-2.49 .85-2.25 .34-1.25 .03-.5 -.17-.5 -.55-.5 -1.42-1 -.32-.5 -.04-.5 .25-1.25 1.14-4 .71-2.75 .49-2.25 .1-1 -.12-.5 -.25-.25 -.49-.25 -1.92-.75 -.3-.25 -.12-.25 -.04-.5 .04-.5 .63-4.5 .32-2.75 .17-2 .01-1 -.15-.37 -.23-.13 -2.77-.39 -.42-.11 -.23-.25 -.07-.75 .08-3.75zM322.73 114l1.37 0 0 8.58 -1-.16 -.32-.17 -.11-.25zM234.52 118.25l5.08-.19 6.5-.03 6.25 .16 1.25 .09 .75 .17 .25 .19 .16 .36 .28 2.25 .16 .5 .16 .25 .28 .25 .71 .3 4 .82 .75 .21 .5 .26 .25 .29 .13 .37 .06 .75 0 2 .1 .5 .21 .4 .36 .35 .42 .25 2.66 1.25 .32 .25 .31 .5 .07 .5 -.03 .5 -.4 2.75 .08 .75 .1 .25 .38 .5 1.48 1.25 .48 .5 .16 .25 .14 .5 -.02 .5 -.1 .5 -1.07 3 -.2 .75 -.03 .5 .18 .75 1.13 2 .1 .75 -.18 .75 -.51 1 -2.22 3.25 -.54 1 -.16 .5 -.07 .5 .15 2 -.05 .5 -.17 .5 -.28 .5 -.62 .75 -1.7 1.5 -2.17 1.54 -4.66 2.96 -.95 .75 -1.89 1.72 -1 .7 -1.5 .68 -2 .53 -2.25 .32 -2.25 .1 -2.25-.11 -2.25-.33 -2-.55 -1.5-.7 -1-.72 -1.79-1.64 -.96-.75 -4.5-2.86 -1.99-1.39 -1.24-1 -1.02-1 -.55-.75 -.29-.75 -.04-.75 .14-1.75 -.07-.5 -.16-.5 -.55-1 -2.06-3 -.55-1 -.2-.5 -.1-.75 .11-.5 1.13-2 .15-.5 .02-.5 -.22-1 -1.07-3 -.1-.5 -.02-.5 .14-.5 .15-.25 .48-.5 1.49-1.25 .22-.25 .26-.5 .08-.5 -.02-.5 -.4-2.75 .01-.5 .16-.5 .36-.38 .5-.32 2.5-1.15 .5-.38 .2-.27 .21-.75 .03-2.5 .1-.5 .21-.33 .25-.18 .6-.24 4.15-.86 .52-.14 .55-.25 .28-.25 .25-.5 .14-.75 .15-1.5 .14-.5 .22-.25 .25-.11zM238.85 122.24l-3.25 .34 -.85 .17 -.66 .25 -.31 .25 -.18 .26 -.18 .49 -.37 1.75 -.2 .44 -.25 .31 -.3 .25 -.7 .36 -3.5 1.25 -.67 .39 -.24 .25 -.15 .25 -.12 .5 .04 2.5 -.07 .5 -.19 .5 -.18 .25 -.53 .5 -1.41 1 -.6 .5 -.21 .25 -.25 .5 -.05 .5 .05 .5 .71 2.75 .07 .5 -.01 .5 -.25 .75 -1 1.5 -.28 .5 -.14 .5 .05 .75 .52 1.25 1.64 2.75 .44 1 .11 .5 .02 .5 -.2 1.5 -.02 .75 .21 .75 .46 .75 .93 1 1.07 .93 1.5 1.14 3.87 2.68 .9 .75 1.48 1.44 .67 .56 1.08 .67 1.25 .51 1.5 .39 1.75 .26 1.75 .1 2-.06 1.75-.23 1.5-.35 1.5-.57 1.25-.77 2.08-1.95 .9-.75 3.77-2.61 1.82-1.39 1.35-1.25 .76-1 .23-.5 .12-.75 -.23-2 .02-.5 .11-.5 .44-1 1.77-3 .32-.75 .12-.5 0-.5 -.14-.5 -.28-.5 -1-1.5 -.25-.75 -.01-.5 .07-.5 .71-2.75 .05-.5 -.05-.5 -.25-.5 -.21-.25 -.6-.5 -1.41-1 -.53-.5 -.18-.26 -.19-.49 -.07-.5 .04-2.5 -.12-.5 -.15-.25 -.51-.43 -.5-.25 -3.25-1.15 -.75-.36 -.41-.31 -.2-.25 -.24-.5 -.45-2 -.28-.5 -.31-.25 -.66-.25 -1.2-.23 -2-.21 -2.25-.16 -4.25-.09zM240.43 126.25l1.92-.13 1.75-.03 1.75 .05 1.75 .13 1.87 .23 1.63 .3 1.25 .36 .65 .34 .35 .35 .23 .4 .56 2 .46 .75 .5 .44 .48 .31 2.69 1.5 .33 .27 .4 .48 .17 .5 .04 .5 -.23 2.25 0 .5 .09 .5 .37 .75 1.39 1.75 .35 .75 .03 .75 -.2 .75 -1.26 2.75 -.31 1 -.03 .75 .32 1.75 .04 .75 -.2 .75 -.43 .75 -.63 .75 -1.05 1 -4.09 3.25 -.82 .75 -1.45 1.5 -.75 .64 -.75 .47 -.75 .36 -1 .34 -1 .23 -1 .16 -1.25 .1 -1.25 .01 -1.25-.09 -1.25-.2 -1-.24 -1-.36 -.75-.36 -.75-.5 -.5-.42 -1.6-1.64 -.82-.75 -3.08-2.4 -1.56-1.35 -1.13-1.25 -.44-.75 -.15-.5 -.03-.75 .35-2 -.03-.75 -.31-1 -1.26-2.75 -.2-.75 -.01-.5 .12-.5 .27-.5 1.39-1.75 .37-.75 .09-.5 0-.5 -.23-2.25 .04-.5 .17-.5 .3-.38 .43-.37 2.69-1.5 .63-.43 .35-.32 .46-.75 .56-2 .31-.5 .32-.28 .75-.37 1.25-.34 1.75-.3zM241.6 130.24l-1.75 .25 -1.75 .39 -1.25 .42 -.5 .24 -.5 .34 -.35 .37 -.27 .5 -.53 2 -.38 .75 -.65 .75 -1.72 1.5 -.63 .75 -.22 .5 -.07 .75 .12 .75 .55 2 .1 1 -.1 .75 -.52 1.75 -.07 .5 .01 .5 .13 .5 .23 .5 .93 1.25 .94 .98 2.68 2.52 1.82 2.06 1 .84 .75 .42 .75 .31 .75 .22 1 .2 1 .11 1 .02 1-.06 1-.14 1-.24 1-.37 .75-.41 .63-.46 .62-.6 1.91-2.15 2.92-2.75 .68-.75 .56-.75 .28-.5 .18-.5 .07-.75 -.15-.75 -.45-1.5 -.1-1 .16-1 .54-2 .07-.5 -.01-.5 -.28-.75 -.39-.5 -1.96-1.75 -.65-.75 -.37-.75 -.45-1.75 -.21-.5 -.37-.5 -.48-.37 -.77-.38 -.98-.33 -1.25-.31 -1.5-.26 -1.5-.16 -1.25-.06 -1.25 .01zM242.26 134.25l1.09-.09 1-.01 1 .08 1.25 .2 1.24 .32 1.01 .37 .78 .38 .72 .5 .44 .5 .26 .5 .19 .75 .21 1.5 .19 .75 .32 .75 .95 1.75 .26 .75 .06 .5 -.06 .5 -.15 .5 -.38 .75 -.67 1 -1.56 2 -1.61 2.25 -.7 .71 -.75 .52 -1 .43 -1 .25 -1.5 .12 -1.5-.14 -1.33-.39 -.67-.33 -.5-.34 -.5-.44 -.5-.57 -1.46-2.07 -1.74-2.25 -.63-1 -.39-1 -.05-.5 .11-.75 .32-.75 .83-1.5 .32-.75 .19-.75 .32-2 .19-.5 .24-.38 .35-.37 .4-.31 1.25-.63 1.5-.49zM242.85 138.24l-1 .26 -1 .44 -.83 .56 -.51 .5 -.33 .5 -.23 .75 -.01 .75 .11 .75 .42 1.5 .6 1.75 .36 .75 .57 .75 .35 .31 .5 .32 1 .36 1 .12 1.07-.11 .93-.32 .67-.43 .58-.6 .4-.65 .51-1.25 .68-2.25 .17-1 .01-.5 -.07-.5 -.33-.75 -.41-.5 -.61-.5 -.85-.49 -.75-.3 -1-.24 -1-.07zM243.25 142.25l.35-.18 .5-.02 .45 .2 .26 .25 .24 .5 0 .5 -.2 .46 -.31 .29 -.44 .18 -.5-.02 -.34-.16 -.28-.25 -.23-.5 0-.5 .24-.5zM215.85 144.25l0-.18 .41 .93 .27 .75 .11 .5 -.04 .75 -.32 .75 -.43 .74zM215.85 151.25l0-.09 1.22 1.84 1.92 2.5 .63 1 .2 .5 .11 .5 .02 .5 -.1 1.5 .11 .75 .37 .75 .61 .75 1.1 1 1.81 1.36 2.25 1.46 4.95 2.93 1 .75 2.05 1.8 1 .65 1.2 .55 -.2 0 -6.45 0 -4.8-2.67 -2.5-1.5 -2.26-1.58 -.93-.75 -.8-.75 -.61-.75 -.35-.75 -.09-.75 .05-1.75 -.18-.75 -.39-.75 -.94-1.23zM324.04 163l.06-.11 0 9.36 -.8 0 .47-1 .22-.75 -.03-.5 -.23-.5 -1.21-1.5 -.11-.25 -.08-.5 .07-.5 .26-.75zM215.85 168.5l0-.21 1.05 .96 1.31 1 3.07 2 -5.43 0z"/>
<path fill="#00c3ff" d="M227.85 115.75l.5-.2 .5 .05 .3 .15 .11 .25 -.11 .25 -.55 .21 -.5-.07 -.25-.14 -.1-.25zM258.66 115.75l.44-.19 .25-.02 .5 .15 .09 .06 .11 .25 -.11 .25 -.09 .06 -.5 .15 -.5-.1 -.19-.11 -.13-.25zM239.29 119.5l7.81-.04 2 .1 1.02 .19 .53 .25 .16 .25 -.17 .25 -.54 .18 -.5 .08 -1.25 .02 -4.25-.19 -4.5 .18 -1.5-.02 -.94-.25 -.16-.25 .15-.25 .7-.29zM228.79 125l.56-.15 .25 .01 .39 .14 .13 .25 -.06 .25 -.21 .25 -.25 .15 -.25 .11 -.5 .05 -.27-.06 -.23-.25 -.01-.25 .14-.25zM257.81 125l.29-.13 .25-.02 .66 .15 .32 .25 .12 .25 -.01 .25 -.09 .13 -.25 .16 -.25 .03 -.43-.07 -.32-.16 -.35-.34 -.07-.25zM240.72 127.5l2.13-.09 2.75 .01 1.5 .08 1.68 .25 .85 .25 .52 .25 .32 .25 .17 .25 .02 .25 -.26 .25 -.55 .1 -.5 0 -2.25-.25 -2-.2 -1.5-.04 -1.5 .09 -3.25 .38 -.75 .03 -.5-.05 -.25-.09 -.21-.22 .02-.25 .17-.25 .32-.25 .52-.25 .85-.25zM263.58 131.5l.27 .11 .25 .39 -.02 .25 -.22 .25 -.26 0 -.25-.18 -.15-.32 .03-.25 .12-.18zM223.81 131.75l.29-.23 .25-.01 .24 .24 .02 .25 -.11 .25 -.15 .16 -.25 .11 -.25-.09 -.11-.18 -.03-.25zM231.39 134l.46-.17 .5 .01 .25 .16 .1 .25 -.03 .5 -.26 .5 -.31 .34 -.5 .33 -.5 .12 -.25-.08 -.21-.21 -.09-.25 .01-.5 .08-.25 .39-.5zM255.22 134l.38-.19 .5 .06 .5 .25 .4 .38 .15 .25 .13 .5 -.13 .5 -.28 .25 -.27 .04 -.5-.17 -.5-.37 -.21-.25 -.26-.5 -.05-.25 .01-.25zM242.2 135.25l1.65-.11 1.76 .11 .99 .19 .75 .22 .75 .32 .46 .27 .57 .5 .22 .29 .21 .46 .09 .5 -.02 .25 -.1 .25 -.18 .18 -.25 .05 -.5-.11 -1.75-.72 -1.25-.4 -1.25-.2 -.75-.01 -.75 .08 -1.25 .3 -2.5 .98 -.5 .08 -.25-.12 -.17-.36 -.03-.25 .09-.5 .24-.5 .44-.5 .68-.47 .61-.28 .89-.28zM221.57 139.75l.03-.11 .17 .11 -.17 .14zM266.03 139.75l.07-.14 .1 .14 -.1 .24zM229.07 141.5l.28-.01 .25 .14 .25 .32 .18 .55 0 .75 -.18 .43 -.25 .2 -.25 .02 -.25-.11 -.28-.29 -.24-.5 -.08-.5 .09-.5 .26-.37zM258.45 141.5l.15-.03 .25 .08 .22 .2 .13 .25 .1 .5 -.08 .5 -.12 .3 -.25 .36 -.25 .19 -.25 .06 -.25-.08 -.25-.32 -.11-.51 .03-.5 .16-.5 .17-.27zM237.03 142l.32 0 .25 .2 .25 .4 .5 1.33 .26 1.07 .11 1 -.12 .71 -.25 .17 -.5-.11 -.75-.55 -.5-.56 -.4-.66 -.24-.75 -.03-.5 .18-.75 .24-.43 .25-.3zM250.5 142l.35 .02 .25 .16 .3 .32 .38 .75 .09 .75 -.08 .5 -.32 .75 -.55 .75 -.57 .52 -.5 .29 -.25 .07 -.25-.03 -.23-.35 -.04-.5 .17-1.25 .35-1.29 .5-1.12 .25-.28zM243.47 142.5l.38-.15 .25 .03 .25 .13 .22 .24 .1 .25 .02 .25 -.07 .25 -.17 .25 -.35 .21 -.25 .03 -.25-.06 -.25-.18 -.17-.25 -.05-.5 .1-.25zM230.7 150.5l.15-.1 .25 .01 .25 .09 .75 .55 .84 .95 .26 .5 .03 .25 -.13 .2 -.25 .03 -.25-.06 -.5-.24 -.59-.43 -.47-.5 -.31-.5 -.13-.5zM256.47 150.5l.38-.11 .25 .09 .09 .27 -.11 .5 -.32 .5 -.41 .44 -.5 .39 -.5 .28 -.5 .13 -.25-.14 0-.35 .11-.25 .33-.5 .45-.5 .61-.53z"/>
<path fill="#2fffd0" d="M243.54 142.75l.31-.16 .25 .04 .15 .12 .15 .25 .01 .25 -.06 .13 -.25 .26 -.25 .04 -.25-.11 -.21-.32 0-.25z"/>
<path fill="#9aff65" d="M243.59 143l.26-.23 .25 .07 .13 .16 -.01 .25 -.12 .14 -.25 .08 -.25-.22z"/>
<path fill="#fff800" d="M243.7 143l.15-.13 .22 .13 -.05 .25 -.17 .09 -.1-.09z"/>
<path fill="#ff8d00" d="M243.81 143l.04-.03 .06 .03 -.06 .13z"/>
</g>
<g clip-path="url(#c12)">
<rect x="397.85" y="112.00" width="112.20" height="62.20" fill="#000080"/>
<path fill="#0000eb" d="M399.85 114l108.25 0 0 58.25 -108.25 0zM416.85 137.69l-.1 .06 .1 .14 .04-.14zM420.1 133l-.22 .25 .22 .12 .42-.12 .26-.25 -.18-.13zM422.6 137.93l-.25 .09 -.5 .33 -.25 .26 -.23 .39 -.05 .25 .03 .31 .25 .24 .25-.04 .68-.51 .56-.75 .08-.25 -.02-.25 -.3-.11zM423.35 148.73l-.14 .02 -.11 .21 .14 .29 .54 .5 .43 .25 .58 .25 .84 .25 1.47 .2 1.5 .01 1.56-.21 .85-.25 .59-.25 .75-.51 .22-.24 .12-.25 -.07-.25 -.27-.01 -2.75 .93 -1.25 .21 -1-.01 -1.5-.29zM427.1 140.49l-.4 .26 -.35 .36 -.75 1.2 -.34 .94 -.05 .5 .09 .5 .27 .5 .21 .25 .32 .27 .5 .29 .5 .18 .5 .09 1-.07 .5-.16 .5-.26 .63-.59 .16-.25 .17-.5 .02-.5 -.1-.5 -.13-.37 -.5-.95 -.49-.68 -.26-.25 -.5-.3 -.5-.12 -.5 .01zM432.85 137.89l-.2 .11 -.03 .25 .23 .5 .19 .25 .31 .33 .5 .38 .25 .08 .2-.04 .16-.25 .02-.25 -.13-.42 -.23-.33 -.28-.25 -.44-.25zM434.85 143.07l-.25 .26 -.18 .42 -.12 .75 .05 .34 .1 .16 .15 .12 .25-.06 .25-.22 .25-.4 .13-.69 -.17-.5 -.21-.2zM435.1 132.9l-.08 .1 .26 .25 .32 .11 .25-.03 .06-.08 -.22-.25 -.34-.12zM439.1 137.73l-.15 .02 .13 .25 .02 .01 .01-.01 .01-.25zM420.6 143.12l-.25 .43 0 .59 .25 .57 .25 .28 .25 .13 .25-.08 .11-.29 .03-.5 -.1-.5 -.29-.56 -.25-.16zM427.17 142l.43-.21 .5-.02 .5 .21 .27 .27 .17 .5 -.05 .5 -.29 .5 -.33 .25 -.27 .11 -.5-.03 -.5-.33 -.18-.25 -.16-.5 -.01-.25 .18-.5z"/>
<path fill="#0057ff" d="M399.85 114l2.4 0 .6 .11 2.5 .17 .25 .07 .14 .15 .06 1.5 -.06 1.5 -.14 .15 -.25 .07 -2.5 .17 -.6 .11 -.13 .25 -.02 .25 .04 2 -.04 .72 -.16 .28 -.59 .22 -1.5 .27 0-4.01 1.5-.1 .52-.13 .12-.5 .01-1.25 -.01-1.25 -.12-.5 -.52-.13zM405.96 114l4.21 0 .15 .25 .28 .08 3.5 .18 .75 .11 .18 .13 .07 .25 .05 1 -.05 1.03 -.07 .22 -.18 .13 -.25 .06 -3.5 .18 -.78 .13 -.15 .25 -.06 2 -.1 .5 -.16 .18 -.25 .12 -2.61 .45 -.39 .12 -.22 .13 -.12 .25 -.04 .25 .03 2 -.15 .5 -.5 .32 -2 .62 -.41 .31 -.09 .25 -.01 .5 .15 2 -.14 .49 -.5 .39 -1.5 .73 -.2 .14 -.17 .25 -.06 .25 .06 .75 .32 1.75 -.01 .5 -.07 .25 -.19 .25 -.93 .67 0-5.12 .06-.3 -.06-.85 0-2.37 .53-.28 1.57-.5 .41-.25 .15-.25 .04-.25 -.09-2.25 .07-.5 .32-.26 2.48-.49 .45-.25 .13-.5 0-2.25 .05-.25 .14-.14 .68-.11 2.82-.17 .25-.08 .15-.25 .03-2.25 -.03-.25 -.15-.25 -.5-.11 -3-.18 -.25-.07zM415.27 114l8.39 0 .19 .32 .5 .19 1.25 .08 2.25 .03 3.5-.1 .5-.13 .16-.14 .13-.25 8.39 0 -.07 .25 -.11 .11 -.5 .11 -5.75 .2 -1.25 .13 -.31 .2 -.17 .5 0 1 .17 .5 .31 .2 .75 .11 5.75 .18 .75 .07 .25 .08 .11 .11 .07 .25 .13 1.75 .19 .42 .25 .16 .5 .13 2.75 .37 .75 .22 .19 .2 .07 .25 .07 1.75 .17 .54 .24 .21 .26 .12 2.27 .63 .45 .25 .16 .25 .05 .25 -.06 2 .14 .5 .25 .25 .24 .15 1.5 .65 .35 .2 .25 .25 .09 .25 .02 .5 -.24 1.75 .01 .5 .07 .25 .18 .25 1.46 1 .27 .25 .15 .25 .05 .25 -.03 .5 -.5 2 -.01 .75 .3 .5 1.03 1 .24 .5 -.07 .75 -.86 2.25 -.14 .75 .13 .5 .81 1.25 .09 .25 0 .5 -.27 .75 -1.28 2.25 -.31 .75 -.03 .25 .05 .5 .42 1.25 -.01 .5 -.06 .25 -.61 1 -1.9 2.25 -.54 .75 -.28 .75 0 1.25 -.08 .5 -.24 .5 -.41 .5 -1.45 1.25 -3.79 2.75 -.69 .75 -.71 1.25 -.66 .75 -1.19 .75 -1.77 .75 -2.59 .8 -3 .64 -3 .36 -3 .08 -3-.18 -3-.46 -2.97-.74 -2.53-.9 -1.22-.6 -.73-.5 -.66-.75 -.71-1.25 -.69-.75 -3.79-2.75 -.92-.75 -.75-.75 -.43-.75 -.08-.5 -.01-1.25 -.14-.5 -.47-.75 -2.1-2.5 -.6-1 -.08-.25 0-.5 .42-1.25 .06-.5 -.04-.25 -.31-.75 -1.27-2.25 -.28-.75 0-.5 .09-.25 .81-1.25 .13-.5 -.14-.75 -.85-2.25 -.1-.5 .01-.25 .25-.5 1.03-1 .29-.5 -.01-.75 -.49-2 -.03-.5 .05-.25 .14-.25 .28-.25 1.46-1 .18-.25 .08-.25 0-.5 -.24-1.75 .02-.5 .1-.25 .24-.25 .25-.15 1.75-.79 .34-.31 .14-.5 -.06-2 .05-.25 .15-.25 .63-.3 2-.55 .37-.15 .27-.25 .13-.5 .07-1.75 .16-.37 .18-.13 .32-.1 3-.42 .76-.23 .21-.25 .07-.25 .13-1.75 .08-.27 .25-.15 .7-.08 6.3-.23 .5-.13 .16-.14 .12-.25 .07-.75 -.07-.75 -.12-.25 -.16-.14 -.25-.08 -1.25-.12 -5.75-.2 -.25-.04 -.25-.15zM424.35 117.49l-.25 .06 -.31 .2 -.13 .25 -.37 1.25 -.19 .28 -.5 .3 -1.25 .22 -4.75 .42 -.5 .1 -.39 .18 -.17 .25 -.06 .25 -.14 1.25 -.06 .25 -.18 .34 -.25 .2 -.5 .19 -2.36 .52 -.71 .25 -.28 .25 -.1 .25 -.08 1.75 -.04 .25 -.18 .35 -.15 .15 -.46 .25 -1.64 .63 -.59 .37 -.15 .25 -.05 .25 .11 2 -.11 .5 -.18 .25 -.3 .25 -1.26 .75 -.33 .25 -.19 .25 -.08 .25 0 .5 .34 1.75 -.01 .75 -.3 .5 -1.11 1 -.19 .25 -.1 .25 -.04 .25 .06 .5 .67 2 .11 .75 -.14 .5 -.86 1.25 -.1 .25 -.04 .5 .25 .75 1.04 2 .28 .75 .03 .25 -.07 .5 -.45 1.25 -.03 .25 .08 .5 .56 1 1.79 2.25 .44 .75 .14 .75 -.02 1.25 .15 .5 .14 .25 .39 .5 .8 .75 3.91 3 .65 .75 .86 1.5 .49 .5 1.19 .75 1.77 .75 1.95 .62 2.25 .53 2.25 .35 2 .17 2 .04 2.25-.12 2.5-.33 2.75-.61 2.5-.82 1.79-.83 .72-.5 .48-.5 .87-1.5 .65-.75 3.61-2.75 .85-.75 .46-.5 .42-.75 .06-.5 -.02-1.25 .25-.75 .51-.75 1.77-2.25 .29-.5 .17-.5 -.01-.5 -.46-1.25 -.07-.5 .19-.75 1.05-2 .36-1 -.03-.5 -.11-.25 -.86-1.25 -.14-.5 .11-.75 .6-1.75 .13-.75 -.03-.25 -.3-.5 -1.11-1 -.3-.5 -.01-.75 .34-1.75 0-.5 -.08-.25 -.2-.25 -.32-.25 -1.26-.75 -.3-.25 -.18-.25 -.11-.5 .11-2 -.14-.41 -.4-.34 -2.1-.85 -.24-.15 -.23-.25 -.16-.5 -.07-1.75 -.1-.25 -.2-.2 -.8-.3 -2.27-.5 -.68-.27 -.22-.23 -.11-.25 -.2-1.5 -.06-.25 -.17-.25 -.24-.13 -.75-.16 -4.75-.42 -1.25-.25 -.43-.29 -.16-.25 -.37-1.25 -.13-.25 -.16-.14 -.25-.09 -1-.1 -2.25-.03 -2.75 .02zM445.48 114.25l.15-.25 4.21 0 -.24 .18 -.25 .04 -2.75 .16 -.65 .12 -.15 .25 -.04 .5 0 1.5 .09 .64 .1 .11 .4 .1 3 .18 .25 .04 .24 .18 .06 .5 -.01 2 .13 .5 .44 .25 2.39 .45 .25 .11 .17 .19 .07 .5 -.1 2 .11 .62 .08 .13 .43 .25 1.56 .5 .5 .25 .17 .25 .06 .5 -.24 2 .02 .75 .13 .25 .3 .25 1.48 .75 .3 .25 .12 .25 -.02 .75 -.43 2 -.04 .75 .1 .25 .19 .25 1.33 1 .19 .25 .08 .25 -.09 .75 -.71 2.25 -.13 .75 .15 .5 1.11 1.25 .16 .5 -.07 .5 -.18 .5 -1.03 2.25 -.25 .75 .01 .5 .09 .25 .73 1.25 .07 .5 -.13 .5 -.24 .5 -1.75 2.75 -.35 .75 -.05 .25 .04 .5 .37 1.25 .01 .25 -.13 .5 -.28 .5 -.58 .75 -2.31 2.5 -.59 .75 -.32 .75 -.04 1.25 -.1 .5 -.25 .5 -.43 .5 -.85 .75 -1 .75 -3.77 2.5 -.97 .75 -.63 .75 -.76 1.25 -.48 .5 -.33 .25 -5.75 0 -2.29 0 2.29-.57 2-.64 1.5-.61 1.24-.68 .33-.25 .48-.5 .92-1.5 .72-.75 4.29-3 .94-.75 .76-.75 .45-.75 .08-.5 .03-1.25 .3-.75 .57-.75 2-2.25 .56-.75 .27-.5 .12-.5 -.02-.25 -.39-1.25 -.05-.5 .05-.25 .33-.75 1.51-2.5 .22-.5 .12-.5 -.1-.5 -.76-1.25 -.12-.5 .16-.75 .85-2 .31-1 -.06-.5 -.15-.25 -1.15-1.25 -.15-.5 .12-.75 .58-2 .04-.75 -.11-.25 -.23-.25 -1.39-1 -.18-.25 -.09-.25 .04-.75 .32-1.75 .02-.5 -.06-.25 -.17-.25 -.37-.25 -1.56-.75 -.27-.25 -.1-.23 -.04-.52 .16-2 -.11-.5 -.26-.23 -.25-.12 -1.75-.53 -.32-.12 -.33-.25 -.15-.5 .03-2 -.04-.25 -.19-.3 -.55-.2 -2.45-.4 -.29-.1 -.21-.16 -.14-.34 -.02-.25 -.06-2 -.15-.25 -.63-.12 -3.5-.17 -.25-.04 -.33-.17 -.1-.5 -.01-1.25 .03-.5 .16-.33 .5-.13 3.5-.17zM450.68 114.25l2.42-.15 .45-.1 2.74 0 -1.94 .13 -.42 .12 -.1 .25 -.02 .5 .04 2.59 .08 .16 .42 .12 2.25 .16 .5 .11 .09 .11 .05 .25 -.08 2.75 .08 .5 .27 .25 2.25 .5 .33 .25 .07 .25 0 .5 -.21 2.25 .01 .5 .08 .25 .27 .25 1.79 .67 .15 .08 .23 .25 .05 .25 -.02 .5 -.37 2.25 -.04 .78 .06 .22 .2 .25 1.34 .75 .34 .25 .17 .25 .05 .25 -.05 .5 -.69 2.75 -.06 .5 .03 .25 .13 .25 .23 .25 .97 .75 .24 .25 .13 .25 .03 .25 -.23 1 -.92 2.5 -.14 .75 .18 .5 1.03 1.25 .09 .25 -.03 .5 -.39 1 -1.39 2.75 -.18 .75 .12 .5 .68 1.25 .03 .5 -.16 .5 -.42 .75 -2.07 3 -.37 .75 -.06 .25 .03 .5 .33 1.25 -.05 .5 -.09 .25 -.31 .5 -.61 .75 -2.92 3 -.64 .75 -.35 .75 -.07 1.25 -.1 .5 -.47 .75 -.8 .75 -.98 .75 -2.61 1.73 -4.78 .02 .9-.75 4.61-3 1.01-.75 .86-.75 .44-.5 .26-.5 .1-.5 .05-1.25 .34-.75 .62-.75 2.39-2.5 .98-1.25 .22-.5 .05-.5 -.35-1.25 -.04-.5 .06-.25 .35-.75 1.84-2.75 .5-1 .06-.5 -.05-.25 -.71-1.25 -.09-.25 -.01-.5 .26-.75 1.22-2.5 .18-.5 .1-.5 -.13-.5 -1.07-1.25 -.15-.5 .12-.75 .86-2.5 .13-.75 -.06-.25 -.15-.25 -1.28-1 -.21-.25 -.1-.25 .03-.75 .58-2.5 .02-.5 -.08-.25 -.38-.35 -1.5-.83 -.25-.32 -.05-.5 .34-2.5 -.04-.6 -.07-.15 -.34-.25 -1.84-.66 -.16-.09 -.19-.25 -.07-.5 .16-2.5 -.03-.25 -.12-.25 -.34-.16 -2-.4 -.5-.2 -.15-.24 -.03-.25 .03-2.5 -.1-.46 -.5-.14 -2.5-.16 -.25-.04 -.25-.13 -.09-.57 .01-2.25 .08-.32 .25-.13zM457.39 114.25l.21-.21 .2-.04 3 0 -.08 .25 -.01 .75 0 2.5 .09 .5 .55 .16 2 .14 .25 .05 .18 .15 .05 .5 -.14 3 .04 .5 .19 .25 .18 .08 1.85 .42 .43 .25 .08 .25 0 .5 -.31 2.75 .02 .75 .18 .25 .25 .15 1.55 .6 .3 .25 .08 .25 -.01 .5 -.57 3 -.03 .75 .12 .25 .28 .25 1.31 .75 .22 .25 .09 .25 -.14 1 -.86 3 -.04 .5 .05 .25 .42 .5 .93 .75 .17 .25 .07 .25 -.05 .5 -.15 .5 -1.2 3 -.21 .75 .06 .5 .14 .25 .85 1 .12 .25 .04 .5 -.36 1 -1.76 3.25 -.27 .75 .01 .5 .74 1.5 .02 .25 -.11 .5 -.72 1.25 -2.21 3 -.45 .75 -.1 .25 -.07 .5 .31 1.25 .02 .5 -.32 .75 -.36 .5 -.9 1 -3.09 3 -.66 .75 -.38 .75 -.1 1.25 -.78 0 -2.45 0 .89-.75 .6-.75 .18-.5 .11-1.5 .37-.75 .65-.75 3.02-3 1.01-1.25 .25-.5 .06-.5 -.33-1.25 -.02-.5 .06-.25 .22-.5 .32-.5 2.15-3 .53-1 .09-.5 -.03-.25 -.65-1.25 -.13-.5 .02-.25 .27-.75 1.57-3 .35-1 -.07-.5 -.14-.25 -.86-1 -.19-.5 .13-.75 1.06-2.75 .26-1 -.11-.5 -.2-.25 -1.2-1 -.14-.25 -.04-.25 .11-.75 .74-2.75 .04-.75 -.11-.25 -.28-.25 -1.34-.75 -.24-.25 -.09-.25 .04-.75 .46-2.5 .01-.75 -.14-.25 -.31-.19 -1.5-.56 -.25-.14 -.13-.11 -.11-.25 0-.75 .25-2.5 -.03-.5 -.15-.25 -.58-.2 -1.5-.31 -.25-.08 -.25-.19 -.08-.22 -.03-.5 .11-2.75 -.02-.25 -.13-.25 -.6-.1 -2.05-.15 -.2-.04 -.21-.21 -.04-1zM463.97 114l3.12 0 -.02 3.75 .07 .5 .21 .12 .25 .04 2 .16 .25 .06 .13 .12 .04 .75 -.19 3.25 .02 .5 .12 .25 .38 .18 1.75 .42 .25 .15 .1 .25 -.04 1 -.4 3 .01 .5 .11 .25 .22 .18 1.5 .61 .32 .21 .12 .25 -.07 1 -.65 3 -.08 .75 .06 .25 .19 .25 1.26 .75 .29 .25 .13 .25 0 .5 -.11 .5 -1.07 3.5 -.08 .75 .09 .25 .19 .25 1.14 1 .12 .25 .03 .25 -.26 1 -1.48 3.5 -.2 .75 .01 .25 .23 .5 .81 1 .1 .25 -.01 .5 -.17 .5 -.5 1 -1.86 3.25 -.27 .75 .03 .5 .51 1 .18 .5 .01 .25 -.13 .5 -.76 1.25 -2.49 3.25 -.65 1 -.1 .25 -.07 .5 .32 1.5 -.09 .5 -.27 .5 -1.06 1.25 -2.06 2 -.9 0 -3 0 3.87-3.75 .7-.75 .59-.75 .26-.5 .06-.25 -.02-.5 -.29-1.25 .01-.25 .16-.5 .46-.75 2.44-3.25 .74-1.25 .12-.5 -.01-.25 -.72-1.5 -.02-.5 .27-.75 1.94-3.5 .39-1 -.01-.5 -.12-.25 -.97-1.25 -.07-.5 .3-1 1.24-3 .23-1 -.19-.5 -1.17-1 -.17-.25 -.08-.25 .1-.75 .9-3 .17-1 -.04-.25 -.18-.25 -1.26-.75 -.32-.25 -.15-.25 -.04-.25 .04-.5 .65-3.25 .04-.5 -.05-.25 -.3-.31 -1.5-.6 -.18-.09 -.25-.25 -.07-.25 .01-.5 .38-3.25 -.03-.5 -.11-.17 -.5-.22 -1.62-.36 -.35-.25 -.07-.25 -.01-.5 .16-3.25 -.01-.25 -.1-.21 -.5-.12 -2.09-.17 -.16-.06 -.13-.19zM470.14 114l2.99 0 0 4 .06 .5 .16 .12 .25 .05 2 .17 .32 .16 .03 1 -.22 4 .08 .25 .29 .18 1.75 .44 .26 .13 .14 .25 -.07 1.25 -.47 3.25 -.02 .5 .06 .25 .25 .25 1.6 .68 .28 .32 .04 .25 -.09 .75 -.85 3.75 -.04 .75 .12 .25 .29 .25 1.22 .75 .19 .25 .05 .25 -.17 1 -1.15 3.5 -.22 1 .04 .25 .13 .25 1.12 1 .18 .25 .06 .5 -.4 1.25 -1.67 3.75 -.19 .75 .13 .5 .93 1.25 .08 .25 -.06 .5 -.57 1.25 -2.08 3.5 -.48 1 -.07 .5 .05 .25 .51 1 .16 .5 -.01 .25 -.15 .5 -.97 1.5 -3.3 4.25 -.24 .5 -.07 .5 .28 1.25 0 .5 -.33 0 -2.94 0 .88-1 .46-.75 .07-.25 0-.5 -.29-1.25 .02-.25 .16-.5 .47-.75 2.73-3.5 .52-.75 .42-.75 .16-.5 0-.25 -.18-.5 -.51-1 -.05-.25 .08-.5 .34-.75 2.04-3.5 .55-1.25 .04-.5 -.08-.25 -.96-1.25 -.11-.5 .3-1 1.53-3.5 .28-1 -.01-.25 -.09-.25 -.21-.25 -.9-.75 -.21-.25 -.12-.25 -.02-.25 .23-1 1.04-3.25 .14-1 -.08-.25 -.24-.25 -1.25-.75 -.24-.25 -.09-.25 .06-.75 .73-3.25 .1-1 -.07-.25 -.27-.25 -1.43-.58 -.28-.17 -.17-.25 -.01-.75 .47-3.5 -.03-.75 -.27-.25 -1.96-.5 -.25-.25 -.05-.5 .22-4 -.02-.25 -.15-.24 -2.48-.26 -.21-.25zM476.08 114l2.91 0 0 4.25 .04 .5 .07 .09 .25 .09 2 .17 .34 .15 .06 .25 -.02 1 -.29 4 .07 .5 .35 .25 1.74 .44 .13 .06 .17 .25 -.03 1 -.6 4 0 .75 .16 .25 .17 .11 1.49 .64 .26 .25 .06 .25 -.17 1.25 -.85 3.5 -.15 1 .07 .25 .2 .25 1.22 .75 .26 .25 .09 .25 .01 .25 -.3 1.25 -1.28 3.75 -.18 .75 .06 .5 .17 .25 1.1 1 .12 .25 0 .5 -.54 1.5 -1.74 3.75 -.25 .75 .02 .5 .13 .25 .78 1 .12 .25 .04 .25 -.09 .5 -.74 1.5 -2.3 3.75 -.48 1 -.05 .5 .05 .25 .51 1 .13 .5 -.02 .25 -.18 .5 -.45 .75 -.73 1 -2.63 3.25 -.76 0 -2.34 0 .17-.5 .3-.5 3.18-4 .72-1 .45-.75 .17-.5 .02-.25 -.15-.5 -.51-1 -.05-.25 .06-.5 .34-.75 2.26-3.75 .72-1.5 .08-.5 -.05-.25 -.93-1.25 -.14-.5 .08-.5 .19-.5 1.6-3.5 .53-1.5 -.03-.5 -.15-.25 -1.11-1 -.15-.25 -.05-.25 .12-.75 1.26-3.75 .28-1.25 -.03-.25 -.14-.25 -.31-.25 -.89-.52 -.31-.23 -.15-.25 -.04-.25 .05-.5 .82-3.5 .21-1.25 -.02-.25 -.1-.25 -.36-.25 -1.35-.55 -.25-.2 -.11-.25 .03-.75 .55-3.75 .03-.75 -.06-.25 -.37-.25 -1.82-.47 -.22-.28 -.02-.75 .26-3.75 -.02-.78 -.25-.23 -2.25-.22 -.09-.02 -.16-.25zM481.86 114l2.85 0 .04 5 .1 .13 .25 .07 1.75 .15 .25 .03 .25 .12 .06 .25 -.01 .75 -.33 4.5 .03 .75 .25 .25 1.86 .5 .24 .25 .04 .25 -.18 1.75 -.57 3.5 -.04 .75 .11 .25 .29 .22 1.28 .53 .22 .14 .12 .11 .1 .25 -.02 .5 -.14 .75 -1.11 4.5 -.04 .75 .13 .25 .3 .25 1.16 .75 .17 .25 .03 .25 -.06 .5 -.29 1 -1.42 4 -.24 1 .02 .25 .11 .25 1.08 1 .18 .25 .07 .25 -.05 .5 -.69 1.75 -1.79 3.75 -.34 1 .05 .5 .91 1.25 .1 .25 -.03 .5 -.19 .5 -.52 1 -2.64 4.25 -.55 1 -.13 .5 .01 .25 .06 .25 .59 1.25 .02 .25 -.11 .5 -.42 .75 -.71 1 -.97 0 -2.48 0 1.57-2 .82-1.25 .19-.5 -.01-.5 -.59-1.25 -.06-.25 .05-.5 .48-1 2.61-4.25 .52-1 .17-.5 0-.5 -.1-.25 -.78-1 -.18-.5 .01-.25 .35-1 1.76-3.75 .56-1.5 .04-.5 -.1-.25 -1.27-1.25 -.1-.5 .18-.75 1.47-4.25 .19-.75 .06-.5 -.07-.25 -.2-.25 -1.21-.75 -.25-.25 -.09-.25 .06-.75 .93-3.75 .25-1.5 -.03-.25 -.16-.25 -.45-.25 -1.21-.5 -.24-.25 -.07-.25 .06-.75 .59-3.75 .09-1.25 -.08-.25 -.28-.18 -1.75-.45 -.2-.12 -.12-.25 0-.75 .28-3.75 .02-1.25 -.28-.25 -2.2-.22 -.09-.03 -.13-.25zM487.54 114l2.8 0 .02 5.25 .24 .19 2 .19 .32 .12 .07 .25 -.02 1 -.37 4.75 .01 .75 .24 .28 1.75 .48 .33 .24 .05 .25 -.14 1.5 -.71 4.25 -.06 .75 .07 .25 .25 .25 1.18 .5 .44 .25 .14 .25 .03 .25 -.26 1.5 -1.16 4.5 -.09 .75 .07 .25 .22 .25 1.19 .75 .22 .25 .09 .25 -.05 .5 -.28 1 -1.62 4.5 -.29 1 .04 .5 .16 .25 1.08 1 .12 .25 0 .5 -.14 .5 -.52 1.25 -2.18 4.5 -.33 1 .11 .5 .9 1.25 .06 .25 -.06 .5 -.33 .75 -.7 1.25 -3.01 4.75 -.33 .75 -.02 .5 .19 .5 -1.74 0 .13-.5 -.03-.25 -.57-1.25 -.07-.25 .03-.5 .48-1 2.98-4.75 .52-1 .2-.5 .05-.5 -.08-.25 -.91-1.25 -.08-.5 .33-1 2.16-4.5 .53-1.5 -.03-.5 -.15-.25 -1.09-1 -.13-.25 -.04-.25 .24-1 1.52-4.25 .37-1.5 -.01-.25 -.11-.25 -.28-.25 -1.18-.75 -.17-.25 -.04-.25 .16-1 1.02-4 .24-1.5 -.05-.25 -.24-.25 -1.37-.59 -.26-.16 -.17-.25 0-.75 .69-4.25 .12-1.5 -.12-.25 -.26-.14 -1.75-.48 -.18-.13 -.07-.19 -.01-.56 .35-4.5 .01-1.25 -.1-.16 -.25-.09 -1.75-.15 -.25-.03 -.25-.13 -.07-.44zM493.12 114l2.77 0 .01 5.5 .2 .2 2 .2 .33 .1 .08 .25 -.02 1 -.42 5.25 -.01 .75 .12 .25 .17 .1 1.75 .48 .23 .17 .08 .25 -.21 2 -.77 4.5 -.01 .75 .18 .25 .25 .15 1.36 .6 .22 .25 .05 .25 -.25 1.5 -1.25 4.75 -.18 1 .03 .25 .14 .25 1.45 1 .13 .25 -.01 .5 -.51 1.75 -1.76 4.75 -.18 .75 .1 .5 .2 .25 .85 .75 .19 .25 .08 .25 -.05 .5 -.7 1.75 -2.34 4.75 -.39 1 .01 .5 .11 .25 .76 1 .12 .25 .03 .25 -.09 .5 -.48 1 -.73 1.25 -1.66 2.58 -.44 .67 -.06 0 -3.12 0 3.19-5 .71-1.25 .34-.75 .08-.5 -.05-.25 -.89-1.25 -.1-.25 .01-.5 .39-1 2.32-4.75 .56-1.5 .03-.5 -.1-.25 -1.06-1 -.18-.25 -.07-.5 .28-1 1.56-4.25 .5-1.75 -.03-.5 -.18-.25 -1.16-.75 -.27-.25 -.11-.25 -.01-.25 .2-1 1.17-4.5 .19-1 .02-.5 -.08-.25 -.14-.13 -1.5-.68 -.24-.19 -.11-.25 .04-.75 .82-5 .08-1.25 -.16-.25 -.18-.08 -1.62-.42 -.35-.25 -.06-.25 .01-.5 .36-4.25 .05-2 -.14-.18 -.25-.06 -1.75-.15 -.39-.11 -.1-.5zM498.64 114l2.75 0 0 5.75 .21 .22 .16 .03 1.59 .13 .5 .11 .12 .26 -.09 2.25 -.42 5.25 .08 .25 .31 .18 1.5 .39 .34 .18 .1 .25 -.12 1.5 -.94 5.5 -.05 .75 .11 .25 .31 .22 1.25 .54 .3 .24 .09 .25 -.03 .5 -.26 1.25 -1.41 5.25 -.14 .75 0 .25 .08 .25 .12 .13 1.29 .87 .19 .25 .05 .5 -.17 .75 -.5 1.5 -1.79 4.75 -.24 1 .04 .25 .15 .25 1.05 1 .14 .25 .01 .5 -.34 1 -.56 1.25 -2.38 4.75 -.43 1 -.07 .5 .06 .25 .12 .25 .76 1 .08 .25 .01 .25 -.12 .5 -.5 1 -.89 1.5 -.96 0 -2.23 0 1.57-2.5 .77-1.5 .11-.5 -.02-.25 -.27-.5 -.59-.75 -.17-.5 .02-.25 .38-1 2.6-5.25 .42-1 .23-.75 -.05-.5 -.15-.25 -1.07-1 -.11-.25 -.03-.25 .26-1 1.69-4.5 .61-2 .03-.5 -.09-.25 -.25-.25 -1.16-.75 -.19-.25 -.05-.25 .16-1 1.27-4.75 .32-1.75 -.02-.25 -.13-.25 -.42-.25 -1.17-.5 -.26-.25 -.07-.25 .07-.75 .89-5.25 .11-1 -.03-.5 -.22-.25 -1.81-.5 -.26-.25 -.02-.75 .44-5.25 .02-1.5 -.13-.16 -.25-.06 -1.75-.16 -.39-.12 -.08-.5zM504.12 114l2.71 0 0 6 .27 .25 1 .1 0 8.89 -.25-.07 -1.25-.32 -.25-.1 -.18-.25 -.01-.75 .48-5.5 .02-1.75 -.06-.1 -.25-.1 -1.75-.15 -.44-.15 -.07-.5zM425.36 120.25l1.74-.09 2 .01 1.5 .1 .75 .16 .5 .32 .75 1.25 .26 .25 .47 .25 1.27 .29 4 .59 .53 .12 .47 .2 .25 .25 .12 .3 .26 1.5 .13 .25 .24 .23 .52 .27 1.98 .64 .8 .36 .24 .25 .1 .25 .07 1.75 .14 .5 .19 .25 .32 .25 1.8 1 .26 .25 .13 .25 .05 .5 -.2 1.75 .06 .5 .33 .5 1.2 1 .37 .5 .06 .25 -.03 .5 -.48 1.75 -.08 .75 .17 .5 .93 1.25 .19 .5 -.04 .5 -.16 .5 -.82 1.75 -.24 .75 -.02 .25 .08 .5 .51 1.25 .03 .5 -.05 .25 -.52 1 -1.3 1.75 -.47 .75 -.22 .75 .05 1.25 -.05 .5 -.22 .5 -.38 .5 -1.06 1 -3.11 2.5 -.6 .75 -.84 1.5 -.48 .5 -.72 .5 -1.74 .82 -2.5 .8 -2.5 .54 -2.5 .3 -2 .07 -1.75-.06 -2-.21 -2-.36 -2-.52 -1.82-.63 -1.57-.75 -.86-.63 -.51-.62 -.66-1.25 -.38-.5 -.8-.75 -2.15-1.67 -.96-.83 -.7-.75 -.3-.5 -.13-.5 .05-1.25 -.12-.75 -.41-.75 -1.63-2.25 -.36-.75 -.06-.25 .04-.5 .5-1.25 .09-.5 -.02-.25 -.24-.75 -.82-1.75 -.2-.75 .07-.5 .12-.25 .93-1.25 .16-.5 -.07-.75 -.48-1.75 -.03-.5 .07-.25 .36-.5 1.2-1 .33-.5 .05-.75 -.19-1.5 .05-.5 .13-.25 .26-.25 .39-.25 1.41-.75 .32-.25 .19-.25 .14-.5 .02-1.5 .15-.5 .24-.25 .49-.25 2.21-.72 .58-.28 .26-.25 .13-.25 .21-1.25 .14-.5 .21-.25 .22-.13 1-.27 4-.58 1.12-.27 .47-.25 .26-.25 .65-1.13 .25-.26 .5-.23zM426.1 122.99l-1 .15 -.75 .28 -.38 .33 -.81 1 -.33 .25 -.51 .25 -.97 .27 -3.52 .73 -.98 .35 -.23 .15 -.2 .25 -.17 .5 -.24 1.25 -.37 .5 -.54 .33 -2.05 .92 -.35 .25 -.19 .25 -.13 .5 .01 1.5 -.11 .5 -.37 .5 -1.37 1 -.45 .5 -.1 .25 -.02 .5 .28 1.5 .03 .75 -.2 .5 -1.03 1.25 -.24 .5 -.02 .25 .07 .5 .67 1.75 .2 .75 -.04 .5 -.64 1.5 -.06 .5 .12 .5 .24 .5 1.31 2 .36 .75 .09 .75 -.09 1.25 .23 .75 .36 .5 .73 .75 2.89 2.5 .56 .75 .63 1.25 .38 .5 .3 .28 1 .65 1.23 .57 1.52 .54 1.75 .47 1.75 .33 1.75 .2 1.5 .07 1.75-.05 2.25-.24 2.5-.53 2.25-.74 1.68-.8 .71-.5 .47-.5 .79-1.5 .57-.75 2.62-2.25 1-1 .35-.5 .21-.5 .04-.5 -.1-1.25 .09-.5 .36-.75 1.31-2 .32-.75 .03-.5 -.05-.25 -.57-1.25 -.11-.5 .01-.25 .19-.75 .59-1.5 .15-.75 -.02-.25 -.23-.5 -1.04-1.25 -.2-.5 -.01-.5 .32-1.75 -.02-.5 -.1-.25 -.45-.5 -1.37-1 -.37-.5 -.11-.5 .01-1.5 -.13-.5 -.2-.25 -.34-.25 -2.21-1 -.44-.31 -.31-.44 -.31-1.5 -.1-.25 -.2-.25 -.42-.25 -.79-.25 -3.62-.75 -1-.3 -.71-.45 -1.04-1.22 -.25-.16 -.5-.2 -.75-.14 -1.25-.09 -1.5-.01zM426.48 125.75l1.12-.06 1.25 .02 1 .1 .86 .19 .64 .3 1.26 1.2 .74 .45 .84 .3 3.16 .88 1 .45 .4 .42 .17 .5 .24 1.25 .32 .5 .68 .5 1.44 .85 .46 .4 .15 .25 .1 .5 -.09 1.5 .06 .5 .26 .5 1.2 1.25 .3 .5 .05 .25 -.07 .75 -.38 1.25 -.13 .75 .17 .75 .65 1.25 .1 .5 -.02 .25 -.26 .75 -1 1.75 -.23 .5 -.13 .75 .16 1.5 -.1 .5 -.25 .5 -.86 1 -2.38 2.25 -.51 .75 -.46 1 -.29 .5 -.46 .5 -.54 .4 -1.5 .77 -1.75 .63 -2 .5 -2 .29 -1.75 .09 -1.5-.04 -1.5-.15 -1.5-.27 -1.5-.37 -1.5-.51 -1.3-.59 -.95-.6 -.65-.65 -.74-1.5 -.52-.75 -2.62-2.5 -.44-.5 -.33-.5 -.11-.25 -.09-.5 .16-1.5 -.06-.5 -.3-.75 -1-1.75 -.26-.75 0-.5 .07-.25 .66-1.25 .1-.25 .07-.5 -.07-.5 -.49-1.75 -.03-.5 .06-.25 .3-.5 1.2-1.25 .26-.5 .06-.5 -.09-1.5 .11-.5 .14-.25 .6-.5 1.3-.75 .67-.5 .33-.5 .24-1.25 .17-.5 .18-.25 .34-.25 1.03-.42 2.75-.75 .98-.33 .87-.5 .9-.92 .5-.37 .75-.29zM426.85 128.5l-1.25 .2 -.75 .28 -.5 .33 -1.03 .94 -.47 .31 -.94 .44 -2.74 1 -.82 .44 -.35 .31 -.25 .5 -.27 1.5 -.26 .5 -.49 .5 -1.26 1 -.23 .25 -.27 .5 -.03 .75 .21 1.5 -.07 .5 -.21 .5 -.79 1.25 -.1 .25 -.06 .5 .2 .75 .68 1.5 .22 .75 .02 .5 -.26 1.5 .16 .75 .29 .5 .4 .5 2.09 2.25 .45 .75 .53 1.25 .6 .75 .66 .5 1.14 .6 1.25 .49 1.25 .37 1.25 .28 1.25 .18 1.5 .09 1.25-.02 1.25-.12 1.25-.21 2.25-.62 1.81-.79 .79-.5 .55-.5 .35-.5 .53-1.25 .45-.75 2.1-2.25 .39-.5 .28-.5 .1-.25 .07-.5 -.26-1.5 .01-.5 .23-.75 .77-1.75 .1-.75 -.15-.5 -.79-1.25 -.22-.5 -.04-.75 .21-1.5 -.06-.5 -.09-.25 -.41-.5 -1.25-1 -.49-.5 -.16-.25 -.17-.5 -.2-1.25 -.2-.42 -.25-.28 -.45-.3 -.52-.25 -2.74-1 -.79-.36 -.62-.39 -1.13-1.01 -.75-.42 -.75-.2 -1-.13zM427.13 131.25l1.72 .02 .75 .11 .75 .22 .75 .41 1.15 .99 .74 .5 2.57 1.25 .8 .5 .28 .25 .31 .5 .12 .5 .13 1.25 .18 .5 .33 .5 1.05 1.25 .23 .5 .05 .25 -.03 .5 -.48 1.75 -.05 .5 .05 .5 .39 1.5 -.09 .75 -.24 .5 -.33 .5 -1.56 2 -.27 .5 -.56 1.5 -.32 .5 -.51 .5 -.44 .31 -.78 .44 -.97 .42 -2 .6 -2 .29 -2-.01 -2-.3 -2-.62 -.87-.38 -.88-.51 -.62-.49 -.41-.5 -.25-.5 -.57-1.5 -.5-.75 -1.02-1.25 -.53-.75 -.23-.5 -.1-.5 .05-.5 .35-1.25 .05-.5 -.11-.75 -.42-1.5 -.03-.5 .05-.25 .23-.5 1.05-1.25 .33-.5 .22-.75 .14-1.25 .19-.5 .38-.42 .45-.33 2.54-1.25 .87-.5 1.39-1.17 .5-.32 1-.36zM427.6 133.99l-1.25 .17 -1 .39 -.5 .35 -1.55 1.35 -1.9 1.25 -.87 .75 -.31 .5 -.07 .25 -.05 .5 .02 1.25 -.07 .5 -.16 .5 -.57 1.25 -.13 .75 .09 .5 .21 .5 .88 1.5 .37 .75 .51 1.75 .27 .5 .47 .5 1.12 .75 .74 .35 1 .36 1.5 .35 1.75 .11 1.5-.14 1.75-.45 1.34-.58 1.12-.75 .46-.5 .28-.5 .51-1.75 .36-.75 .89-1.5 .21-.5 .09-.5 -.13-.75 -.57-1.25 -.16-.5 -.07-.5 .01-1.5 -.12-.5 -.3-.5 -.87-.75 -1.9-1.25 -1.65-1.43 -.5-.32 -.5-.22 -.75-.2zM508.06 133l.04-.24 0 5.54 -.25-.11 -.34-.19 -.17-.25 -.04-.25 .12-1zM427.74 136.75l.61 .02 .75 .12 .75 .29 .5 .33 2.9 2.99 .48 .75 .12 .5 -.05 .75 -.51 2 -.16 1.5 -.14 .5 -.29 .5 -.79 .75 -1.06 .61 -1.25 .44 -1.25 .2 -.75 .01 -.75-.08 -1.25-.31 -1.33-.62 -.96-.75 -.38-.5 -.2-.5 -.26-2 -.41-1.5 -.12-.75 .13-.75 .48-.75 2.8-2.91 .5-.35 .5-.23 .75-.2zM426.85 139.71l-.5 .28 -.3 .26 -.39 .5 -.31 .56 -.67 1.69 -.12 .75 .07 .5 .21 .5 .39 .5 .62 .5 .5 .28 .5 .19 .75 .14 .5 .01 .72-.12 .68-.25 .6-.35 .47-.4 .39-.5 .21-.5 .07-.5 -.19-1 -.45-1.12 -.46-.88 -.39-.5 -.4-.33 -.5-.25 -.75-.15 -.75 .04zM427.83 142.25l.27 .02 .25 .12 .26 .36 .05 .25 -.04 .25 -.13 .25 -.33 .25 -.31 .06 -.25-.07 -.29-.24 -.13-.25 .01-.5 .15-.25 .26-.2zM508.05 144.75l.05-.18 0 3.58 -.24-.15 -.29-.25 -.12-.25 -.02-.25 .13-.75zM399.85 150.25l.75 1.25 .24 .75 -.04 .5 -.39 1.25 .01 .5 .08 .25 .28 .5 .56 .75 2 2.25 .57 .75 .3 .75 .03 1.25 .09 .5 .25 .5 .41 .5 .84 .75 .98 .75 3.95 2.75 .73 .75 .91 1.5 .81 .75 1.14 .63 1.75 .71 2 .63 2 .5 -7.9 .03 -.81-.75 -.93-1.5 -.75-.75 -4.45-3 -1.3-1 -.78-.75 -.46-.75 -.08-.5 -.02-1 -.2-.75 -.74-1 -1.83-1.95zM508.01 153l.09-.25 0 12.92 -1.59 3.08 -.34 .75 -.13 .5 .09 .5 .88 1.25 .05 .5 -2.88 0 .27-.5 .32-.75 .05-.5 -.23-.5 -.72-1 -.07-.5 .14-.5 .34-.75 2.64-5.25 .54-1.25 .25-.75 .02-.5 -.11-.25 -1.05-1 -.16-.25 -.06-.25 .06-.5 .16-.5zM399.85 162.75l0-.2 .63 .7 .33 .5 .19 .5 .05 1.25 .1 .5 .26 .5 .44 .5 .86 .75 1.01 .75 4.24 2.75 .71 .5 .56 .5 -4.75 0 -2.64-1.75 -1.54-1.25 -.45-.52z"/>
<path fill="#00c3ff" d="M421.17 135.5l.43-.1 .32 .1 -.03 .25 -.19 .25 -.6 .43 -.25 .11 -.25 .02 -.13-.06 -.07-.25 .11-.25 .24-.25zM433.88 135.5l.22-.1 .25 .02 .29 .08 .42 .25 .23 .25 .11 .25 -.04 .25 -.26 .06 -.25-.05 -.46-.26 -.3-.25 -.18-.25zM424.06 140.25l.29-.1 .25 .03 .1 .32 -.02 .25 -.19 .75 -.39 1 -.25 .47 -.25 .29 -.25 .01 -.26-.27 -.24-.63 -.01-.62 .18-.5 .33-.46zM431.14 140.25l.21-.11 .5 .17 .5 .38 .43 .56 .18 .5 .01 .5 -.12 .46 -.25 .43 -.25 .16 -.25-.13 -.25-.37 -.61-1.55 -.15-.75zM418.3 140.5l.3-.15 .25 .24 0 .48 -.25 .43 -.25 .05 -.24-.3 -.01-.35zM437.01 140.5l.09-.12 .25 0 .25 .25 .1 .37 -.1 .44 -.25 .12 -.25-.18 -.15-.38 -.02-.25zM427.49 142.75l.11-.12 .25-.1 .25 .04 .21 .18 .1 .25 -.06 .28 -.25 .27 -.25 .04 -.25-.11 -.18-.23 -.03-.25zM423.98 145.5l.12-.03 .25 .1 1.25 .78 .75 .35 .75 .23 .75 .07 1-.11 .75-.25 .5-.24 1.5-.91 .25-.01 .14 .27 .02 .25 -.14 .5 -.15 .25 -.37 .41 -.45 .34 -1.11 .5 -1.44 .26 -.75 .01 -.75-.08 -.84-.19 -.65-.25 -.51-.28 -.5-.4 -.27-.32 -.25-.5 -.03-.5 .05-.16zM418.42 146l.18-.15 .25 .12 .22 .28 .18 .5 -.06 .25 -.09 .07 -.25-.08 -.25-.25 -.21-.49zM436.94 146l.16-.13 .25 .04 .05 .34 -.06 .25 -.17 .25 -.27 .25 -.3 .03 -.05-.28 .05-.26zM423.02 152l.08-.06 .5 .02 2.5 .7 1 .19 .75 .06 .75-.04 1.25-.25 2.25-.64 .5-.06 .18 .08 -.25 .25 -.45 .25 -.68 .25 -1.18 .25 -1.12 .06 -2 .01 -1.53-.07 -1.17-.25 -.67-.25 -.46-.25z"/>
<path fill="#2fffd0" d="M427.83 142.75l.27 .06 .14 .19 -.04 .25 -.1 .11 -.25 .08 -.24-.19 -.04-.25z"/>
<path fill="#9aff65" d="M427.69 143l.16-.15 .24 .15 -.08 .25 -.16 .07 -.09-.07z"/>
<path fill="#fff800" d="M427.8 143l.05-.05 .08 .05 -.08 .15z"/>
</g>
<g clip-path="url(#c20)">
<rect x="29.95" y="209.60" width="112.20" height="62.20" fill="#000080"/>
<path fill="#002bff" d="M35.91 211.6l12.09 0 .24 1.25 .18 .5 .28 .46 .62 .54 .88 .39 1.75 .43 2.25 .31 2.75 .22 3 .08 3-.07 3-.24 2.47-.37 1.53-.41 .5-.21 .5-.32 .49-.56 .32-.75 .24-1.25 12.09 0 -.17 .5 -.22 .31 -.5 .4 -.59 .29 -1.47 .5 -5.19 1.42 -1 .42 -.75 .53 -.3 .38 -.2 .41 -.27 1.09 -.14 1.75 -.04 3 12.95 .03 .16-.03 -.01-1 -.28-6.5 .13-.83 .18-.42 .19-.25 .38-.33 .79-.42 3.6-1.25 4.81 0 -.22 .5 -.09 1 .57 5.75 .14 3.75 9.15 .03 .12 .22 -.13 3.5 -.3 3 -.64 4.5 -.04 1 .08 .5 .26 .5 .65 .53 .98 .47 2.56 1 1 .5 .56 .5 .22 .5 .03 .75 -.14 .75 -.36 1.25 -.45 1.25 -1.3 3 -2.48 5 -.4 1 -.18 .75 .01 .75 .27 .75 .5 .75 1.59 2 .34 .75 .06 .75 -.19 .75 -.53 1 -.89 1.25 -1.27 1.5 -1.42 1.5 -1.83 1.75 -1.93 1.7 -1.89 1.55 -11.33 0 .67-.75 .79-.75 5.76-4.77 1.64-1.48 1.54-1.5 1.62-1.75 1.19-1.5 .8-1.25 .38-1 .04-.75 -.25-.75 -.5-.75 -1.3-1.5 -.54-.75 -.33-.75 -.07-.75 .13-.75 .34-1 2-4.5 .95-2.5 .48-1.75 .09-.75 -.05-.5 -.22-.5 -.57-.5 -1.02-.5 -2.69-1 -1.13-.5 -.68-.5 -.31-.5 -.12-.5 -.03-.75 .61-6.25 .1-3 -.1-.22 -10 0 -.09 .22 -.05 2.25 -.25 4.75 .05 .75 .23 .75 .42 .5 .83 .5 1.11 .43 3.14 1.07 1.08 .5 .6 .5 .15 .25 .14 .5 -.01 .75 -.25 1.25 -.54 1.75 -1.46 4 -.25 1 -.05 .75 .15 .75 .41 .75 2 2.25 .53 .75 .26 .75 -.03 .75 -.15 .5 -.35 .75 -1 1.5 -1.45 1.75 -1.92 2 -4.64 4.25 -1.44 1.5 -.54 .75 -.41 .75 -.31 .75 -.65 2 -.35 .75 -.51 .75 -.73 .75 -40.24 0 -.73-.75 -.51-.75 -.44-1 -.76-2.25 -.37-.75 -.5-.75 -1.36-1.5 -3.26-2.95 0-26.61 .94-.44 .56-.46 .32-.54 .12-.5 .04-1.25 -.27-5.25 -.02-1.25 .06-.22 13 0 .05 .22 -.03 2.25 -.14 2.25 -.14 .75 -.18 .5 -.29 .5 -.22 .25 -.73 .5 -1.07 .43 -4.86 1.32 -1.54 .5 -.96 .5 -.47 .5 -.23 .75 0 .75 .18 1.25 .82 3.75 .06 .75 -.07 .75 -.3 .75 -.55 .75 -2.07 2 -.65 .75 -.4 .75 -.1 .75 .14 .75 .32 .75 .57 1 .7 1 1.66 2.02 3.46 3.73 1.13 1.5 .61 1.25 .91 3 .55 1 .66 .75 .68 .56 1.07 .69 1.18 .59 1.5 .62 1.5 .5 1.75 .47 1.75 .38 1.75 .28 1.75 .2 1.75 .12 2 .05 2-.07 1.75-.14 1.75-.22 1.75-.3 1.75-.4 1.75-.5 1.5-.53 1.3-.55 1.2-.63 .94-.62 .59-.5 .66-.75 .56-1.02 .9-2.98 .61-1.25 1.13-1.5 3.48-3.75 1.82-2.25 .68-1 .53-1 .27-.75 .07-.75 -.1-.5 -.4-.75 -.65-.75 -1.59-1.5 -.69-.75 -.47-.75 -.17-.5 -.07-.75 .06-.75 .77-3.5 .23-1.5 0-.75 -.23-.75 -.47-.5 -.97-.5 -1.53-.5 -4.96-1.35 -.97-.4 -.73-.5 -.3-.36 -.21-.39 -.28-1 -.15-1.5 -.06-3.25 -.05-.22 -26.45-.03 -.04-3 -.14-1.75 -.15-.75 -.19-.5 -.28-.46 -.25-.26 -.75-.5 -1-.39 -5.09-1.39 -1.47-.5 -.69-.36 -.45-.39 -.17-.25zM104.77 211.6l8.79 0 .49 3 .33 2.75 .2 2.75 .06 2.5 -8.82 0 -.06-2.5 -.19-2.5zM122.17 211.6l8.45 0 .42 2.75 .29 2.75 .18 2.75 .06 2.75 8.13 .03 .14-.03 -.15-4.5 -.29-3.25 -.44-3.25 1.24 0 0 11.03 -.25 0 -.11 .22 -.05 2.5 -.15 2.5 -.23 2.5 -.33 2.5 -.63 3.67 -1.13 5.33 -.13 1.25 .07 .5 .09 .25 .43 .5 .83 .5 1.59 .68 0 9.85 -1.37 2.72 -1.38 2.52 -4.34 7.23 -.55 1.25 -.13 .75 -4.24 0 -.44-.75 -1.48-2 -.24-.5 -.15-.75 .11-.75 .27-.75 .79-1.5 3.4-5.8 1.92-3.7 1.04-2.25 .91-2.25 .5-1.5 .27-1.25 -.03-.75 -.25-.5 -.25-.25 -.82-.5 -3.41-1.5 -.66-.5 -.18-.25 -.17-.5 -.01-.75 .1-.75 .96-4.75 .5-3 .32-2.5 .23-2.5 .15-4 0-.25 -.12-.22 -8.25 0 -.11 3.47 -.28 3.25 -.5 3.5 -.92 5 -.09 .75 .03 .75 .19 .5 .2 .25 .48 .37 .73 .38 2.97 1.25 .8 .5 .39 .5 .09 .25 .04 .5 -.16 1 -.37 1.25 -.65 1.75 -.87 2 -1.97 3.95 -3.13 5.55 -.48 1 -.25 .75 -.07 .5 .03 .5 .27 .75 .49 .75 1.17 1.5 .31 .5 .22 .5 .09 .5 -.03 .5 -.38 1 -.44 .75 -.73 1 -10.34 0 1.97-2 1.72-2 1.05-1.5 .46-1 .1-.75 -.17-.75 -.42-.75 -1.38-1.75 -.46-.75 -.23-.75 .04-.75 .22-.75 .44-1 2.68-5 1.56-3.25 1.19-3 .37-1.25 .13-.75 .02-.5 -.12-.5 -.38-.5 -.34-.25 -.68-.36 -2.79-1.14 -.71-.35 -.5-.34 -.25-.25 -.27-.56 -.06-.5 .08-1 .79-4.75 .37-3 .21-2.75 .07-2.5 .06-.22 8.49-.03 -.07-2.75 -.19-2.75 -.32-2.75zM31.95 212.85l0-.13 .31 .13 .94 .54 .42 .46 .26 .75 .05 1.25 -.22 4 -.07 2.5 0 .25 -.19 .03 -1.5 0zM56.35 229.6l2.1-.09 2.25-.02 2.25 .07 2 .14 2 .22 1.5 .25 1.25 .32 .86 .36 .65 .5 .44 .75 .21 .75 .47 2.75 .26 .75 .44 .75 .42 .5 .86 .75 2.83 2 .91 .75 .64 .75 .31 .75 .05 .5 -.11 .75 -.25 .75 -.34 .75 -.86 1.5 -2.15 3.25 -.77 1.5 -.38 1.25 -.54 2.75 -.3 .75 -.48 .75 -.67 .69 -.72 .56 -.83 .5 -1.2 .58 -1.25 .48 -1.5 .46 -1.5 .35 -1.5 .25 -2 .2 -2.25 .05 -2.25-.14 -2-.29 -2-.45 -2-.64 -1.75-.79 -1.27-.81 -.83-.75 -.4-.5 -.3-.5 -.37-1 -.53-2.75 -.43-1.25 -.82-1.5 -2.44-3.75 -.64-1.25 -.36-1 -.11-.75 .05-.5 .31-.75 .4-.5 1.15-1 3.15-2.25 .69-.67 .44-.58 .27-.5 .26-.75 .59-3.25 .34-.75 .35-.41 .49-.34 .51-.24 1.5-.42 2.25-.35zM59.45 236.35l-1.5 .1 -1.25 .17 -1.25 .26 -1.25 .38 -1 .43 -.7 .41 -.59 .5 -.39 .5 -.32 .75 -.16 1 .16 4.25 -.24 3 -.02 1 .16 1 .18 .5 .28 .5 .39 .5 .5 .47 1.15 .78 1.35 .62 1.75 .52 1.75 .29 1.92 .07 1.33-.09 1.25-.19 1.25-.31 1-.35 1-.45 .99-.61 .61-.5 .64-.75 .28-.5 .18-.5 .16-1 -.02-1 -.24-3 .16-4.25 -.16-1 -.19-.5 -.3-.5 -.36-.39 -.45-.36 -.88-.5 -1.42-.53 -1.75-.42 -2-.26zM58.84 243.35l.61-.17 .5-.04 1 .13 .5 .2 .5 .32 .52 .56 .14 .25 .14 .5 -.01 .5 -.17 .5 -.36 .5 -.26 .23 -.75 .42 -1 .21 -.75-.03 -.5-.13 -.5-.21 -.38-.24 -.28-.25 -.34-.46 -.13-.29 -.09-.5 .07-.5 .09-.25 .31-.47 .28-.28 .47-.33zM31.95 269.1l0-.15 .82 .9 -.82 0z"/>
<path fill="#00d5ff" d="M59.33 244.6l.37-.18 .25-.04 .5 .09 .25 .16 .2 .22 .09 .25 .01 .25 -.09 .25 -.21 .25 -.25 .15 -.5 .09 -.25-.04 -.39-.2 -.22-.25 -.09-.25 .01-.25 .09-.25z"/>
<path fill="#80ff7f" d="M59.71 245.1l.24-.18 .25 .08 .1 .1 -.01 .25 -.09 .09 -.25 .08 -.23-.17z"/>
<rect x="29.95" y="209.60" width="112.20" height="13.03" fill="#0010d2"/>
<rect x="29.95" y="214.50" width="112.20" height="0.7" fill="#0000b4" fill-opacity="0.55"/>
<rect x="29.95" y="216.05" width="112.20" height="0.7" fill="#0000b4" fill-opacity="0.55"/>
<rect x="29.95" y="217.60" width="112.20" height="0.7" fill="#0000b4" fill-opacity="0.55"/>
<rect x="29.95" y="219.15" width="112.20" height="0.7" fill="#0000b4" fill-opacity="0.55"/>
<rect x="29.95" y="220.70" width="112.20" height="0.7" fill="#0000b4" fill-opacity="0.55"/>
<rect x="29.95" y="221.78" width="112.20" height="1.35" fill="#002bff"/>
</g>
<g clip-path="url(#c21)">
<rect x="213.85" y="209.60" width="112.20" height="62.20" fill="#000080"/>
<path fill="#0000eb" d="M215.85 211.6l108.25 0 0 58.25 -108.25 0zM226.1 211.81l-.1 .04 -.15 .25 .18 .25 .32 .11 .25-.03 .12-.08 .02-.25 -.3-.25zM232.85 244.55l-.25 .28 -.11 .27 -.05 .25 .03 .5 .13 .36 .25 .39 .25 .24 .25 .13 .25 0 .25-.24 .12-.38 .02-.5 -.14-.71 -.25-.46 -.25-.21 -.25-.03zM233.85 231.58l-.25 .05 -.49 .22 .05 .25 .35 0 .6-.25 0-.25zM236.1 238.27l-.72 .33 -.35 .25 -.43 .5 -.1 .25 -.05 .25 .05 .25 .1 .15 .25 .11 .5-.11 1.06-.65 .54-.5 .34-.5 .04-.25 -.23-.2 -.5-.01zM243.85 241.84l-.5 .05 -.75 .21 -.5 .26 -.75 .58 -.75 .81 -.41 .6 -.34 .74 -.09 .51 .03 .5 .17 .5 .33 .5 .56 .53 .75 .45 .67 .27 .83 .19 .75 .06 .75-.04 .93-.21 .63-.25 .69-.4 .66-.6 .33-.5 .17-.5 .03-.5 -.17-.75 -.27-.53 -.5-.69 -.75-.78 -.67-.5 -.49-.25 -.59-.18zM250.6 238.2l-.13 .15 .04 .25 .14 .25 .45 .5 .63 .5 .62 .36 .5 .15 .25-.04 .21-.22 .04-.25 -.04-.25 -.21-.39 -.33-.36 -.42-.29 -.75-.32 -.5-.11 -.25-.01zM253.85 231.58l-.12 .02 -.03 .25 .59 .25 .31 .01 .05-.01 .03-.25 -.55-.25zM261.35 211.84l-.29 .26 .01 .25 .28 .11 .25-.03 .17-.08 .16-.25 -.08-.22 -.25-.08zM236.1 251.84l-.06 .26 .12 .25 .49 .5 .78 .5 1.17 .5 .83 .25 1.2 .25 2.47 .19 1.5 .01 1.5-.09 1.07-.11 1.2-.25 .83-.25 1.17-.5 .78-.5 .49-.5 .12-.25 -.07-.25 -.34-.03 -.86 .28 -2.14 .9 -1.5 .51 -1 .25 -1 .16 -1.25 .06 -1.5-.19 -1.25-.31 -1.5-.52 -2.73-1.11zM254.35 244.53l-.25 .29 -.21 .53 -.09 .5 .02 .5 .07 .25 .21 .31 .25 .08 .32-.14 .43-.46 .14-.29 .11-.35 .02-.4 -.17-.5 -.2-.25 -.15-.11 -.25-.05zM243.59 243.6l.76 .02 .5 .2 .34 .28 .29 .5 .05 .25 -.04 .5 -.25 .5 -.39 .37 -.5 .23 -.75 .04 -.5-.18 -.54-.46 -.25-.5 -.04-.5 .05-.25 .28-.49 .5-.37z"/>
<path fill="#0057ff" d="M217.89 211.6l5.46 0 -.1 1 .04 .5 .11 .25 .26 .25 .94 .36 3.25 .78 .5 .2 .25 .17 .16 .24 .07 .25 .04 .5 -.21 2.25 -.06 .17 -.11 .08 -.64 .04 -3.75-.29 -1.63-.25 -.23-.25 -.04-.25 .18-2.75 -.07-.5 -.14-.25 -.31-.25 -.51-.21 -2.25-.67 -.85-.37 -.24-.25 -.1-.25zM229.45 211.6l4.57 0 3.61 .75 1.22 .33 .39 .17 .33 .25 .33 .5 .13 .5 .04 .75 -.07 .5 -.15 .24 -.25 .11 -.75 .03 -3-.18 -3.5-.41 -1.25-.21 -.75-.2 -.5-.27 -.21-.36 -.07-.5 -.02-1.5zM241.09 211.6l5.61 0 -.35 .23 -.5 .18 -.75 .13 -1.75 .05 -.75-.06 -.75-.15 -.5-.2zM252.66 211.85l1.12-.25 4.57 0 -.1 .5 -.04 1.75 -.11 .4 -.25 .29 -.5 .22 -.75 .19 -3.25 .46 -2.75 .24 -2 .08 -.63-.13 -.12-.13 -.1-.37 -.01-.75 .16-.75 .32-.5 .34-.25 1.04-.37zM264.45 211.6l5.46 0 0 .25 -.12 .5 -.44 .36 -.75 .29 -2.25 .67 -.41 .18 -.31 .25 -.14 .25 -.07 .5 .18 2.5 -.04 .5 -.24 .25 -1.22 .21 -3.75 .31 -.75 .03 -.3-.05 -.16-.25 -.04-.19 -.13-1.31 -.03-1 .16-.61 .11-.14 .42-.25 .84-.25 2.63-.61 1.04-.39 .26-.25 .11-.25 .04-.5zM274 211.85l.47-.25 2.11 0 -.44 .25 -.23 .25 -.11 .5 .4 3.25 .02 .75 -.12 .3 -.25 .18 -.25 .08 -3 .46 -.81 .23 -.18 .25 -.06 .5 .14 2.5 .14 1 .15 .25 .37 .16 3.5 .18 .5 .07 .19 .09 .15 .25 .07 .5 0 3.25 .07 .5 .1 .25 .24 .25 .43 .19 2.75 .67 .25 .14 .22 .25 .1 .5 -.01 .5 -.35 3 .03 .75 .09 .25 .17 .23 .25 .21 2.17 1.06 .28 .25 .15 .25 .07 .5 -.06 .5 -.87 3.25 -.12 1 .13 .47 .18 .28 1.45 1.25 .22 .25 .13 .25 .09 .5 -.09 .5 -.25 .75 -1.54 3.25 -.33 1 -.01 .5 .14 .5 .74 1.25 .18 .5 .03 .25 -.06 .5 -.32 .75 -.46 .75 -2.67 3.5 -.64 1 -.21 .5 -.1 .5 .05 1.5 -.03 .5 -.14 .5 -.27 .5 -.84 1 -1.37 1.25 -5.56 4.25 -2.32 0 -2.1 0 1.22-1.75 .9-1 .87-.75 4.14-3.25 1.11-1 .9-1 .32-.5 .26-.75 .03-.5 -.1-1.5 .08-.5 .18-.5 .6-1 2.33-3.25 .42-.75 .23-.75 -.02-.5 -.07-.25 -.99-1.75 -.08-.75 .29-1 1.28-3 .22-1 -.08-.5 -.14-.25 -.5-.5 -1.23-1 -.18-.25 -.18-.5 .08-1 .63-2.75 .04-.5 -.08-.5 -.15-.25 -.29-.25 -2.13-1 -.36-.25 -.21-.25 -.17-.5 -.01-.5 .19-2.25 .01-.75 -.13-.5 -.13-.16 -.25-.17 -.45-.17 -2.55-.58 -.41-.17 -.29-.25 -.13-.25 -.1-.5 -.09-2.75 -.1-.5 -.13-.18 -.25-.13 -.5-.08 -2.75-.12 -1-.11 -.25-.07 -.25-.18 -.18-.38 -.07-.35 -.19-2.4 .03-.5 .16-.25 .5-.16 3.25-.4 1-.23 .23-.21 .07-.5 -.29-3 .04-.5 .11-.25 .26-.25 .51-.25zM280.44 211.6l4.59 0 .5 2.75 .08 .75 -.01 .53 -.08 .22 -.37 .25 -2.8 .53 -.5 .15 -.25 .21 -.1 .36 -.01 .5 .28 4.25 .08 .26 .25 .17 .25 .04 3.25 .11 .5 .09 .09 .08 .09 .25 .03 .5 -.14 4.25 .1 .75 .19 .25 .39 .2 2.5 .61 .4 .19 .19 .25 .08 .5 -.03 .5 -.64 4 -.04 .5 .08 .5 .14 .25 .29 .25 2 1 .28 .25 .15 .25 .05 .25 -.02 .5 -.23 1 -1.22 3.75 -.11 .5 0 .5 .22 .5 .21 .25 1.38 1.25 .14 .25 .08 .5 -.09 .5 -.38 1 -2.12 4 -.39 1 -.06 .5 .1 .5 .67 1.25 .19 .5 .02 .5 -.25 .75 -.44 .75 -.72 1 -3.12 3.75 -.71 1 -.25 .5 -.15 .5 -.04 .5 .02 1.25 -.09 .5 -.2 .5 -.32 .5 -1.19 1.25 -1.88 0 -4.06 0 1.65-1.25 1.2-1 1.04-1 .6-.75 .27-.5 .14-.5 .02-2 .13-.5 .23-.5 .67-1 2.81-3.5 .96-1.5 .25-.75 -.02-.5 -.19-.5 -.7-1.25 -.12-.5 .04-.5 .37-1 1.77-3.5 .3-.75 .16-.75 -.08-.5 -.14-.25 -1.63-1.5 -.15-.25 -.11-.5 .16-1 1.05-3.5 .11-.75 -.06-.5 -.14-.25 -.29-.25 -2.02-1 -.31-.25 -.24-.5 .03-1 .47-3.25 .02-.5 -.09-.5 -.2-.25 -.4-.19 -2.5-.6 -.45-.21 -.21-.25 -.13-.75 .08-3.75 -.05-.5 -.11-.25 -.13-.08 -.5-.09 -2.75-.08 -.75-.08 -.25-.11 -.16-.31 -.27-3.75 .01-.5 .05-.25 .12-.19 .25-.15 .5-.13 2.75-.47 .25-.07 .33-.24 .08-.25 -.02-.75zM289.58 211.6l4.46 0 .41 2.5 0 .5 -.1 .25 -.25 .19 -.25 .09 -2.75 .57 -.31 .15 -.16 .25 -.04 .75 .38 5.5 .13 .17 .25 .06 3.25 .08 .5 .08 .1 .11 .07 1.25 -.26 4.75 .07 .75 .15 .25 .37 .21 2.5 .62 .35 .17 .18 .25 .07 .5 -.06 .75 -.91 4.75 -.06 .5 .05 .5 .12 .25 .25 .25 2.01 1.04 .25 .22 .15 .24 .05 .25 -.03 .5 -.25 1 -1.61 4.5 -.24 1 .05 .5 .12 .25 .44 .5 .87 .75 .38 .5 .07 .25 -.01 .5 -.24 .75 -.46 1 -2.44 4.25 -.58 1.25 -.09 .5 .06 .5 .82 1.75 .03 .25 -.05 .5 -.19 .5 -.28 .5 -.89 1.25 -1.25 1.5 -3.3 3.75 -.64 1 -3.06 0 .05-1.75 .2-.75 .43-.75 .79-1 3.42-4 .88-1.25 .48-1 .05-.5 -.1-.5 -.67-1.25 -.15-.5 .05-.75 .56-1.25 2.21-4 .43-1 .14-.5 .02-.5 -.22-.5 -1.36-1.25 -.2-.25 -.13-.25 -.07-.5 .21-1 1.39-4 .24-1 .03-.5 -.06-.25 -.14-.25 -.3-.25 -1.97-1 -.27-.25 -.13-.25 -.06-.5 .04-.5 .62-3.25 .18-1.25 .03-.5 -.07-.5 -.19-.25 -.29-.15 -2.25-.54 -.5-.18 -.21-.13 -.17-.25 -.08-.75 .2-4.5 -.02-.75 -.07-.25 -.15-.12 -.25-.05 -3.5-.11 -.25-.07 -.13-.15 -.08-.5 -.26-4.25 .03-1 .17-.25 .27-.13 2.75-.55 .5-.19 .14-.13 .09-.25 -.02-.75zM298.43 211.6l4.33 0 .22 1.5 0 .5 -.1 .25 -.28 .19 -.25 .09 -2.5 .52 -.41 .2 -.14 .25 -.02 .75 .26 3.25 .16 3.25 .15 .2 .25 .05 3.25 .06 .25 .01 .25 .13 .06 .55 -.03 1.5 -.33 5 .04 .75 .13 .25 .42 .25 2.13 .5 .58 .23 .22 .27 .06 .25 -.03 .75 -.2 1.25 -1.02 4.75 -.07 .5 .02 .5 .1 .25 .42 .39 1.5 .74 .5 .34 .19 .28 .06 .25 -.08 .75 -.36 1.25 -1.93 5 -.27 1 .02 .5 .27 .5 1.09 1 .4 .5 .1 .5 -.08 .5 -.29 .75 -.77 1.5 -2.72 4.5 -.63 1.25 -.12 .5 .03 .5 .18 .5 .52 1 .12 .5 -.04 .5 -.18 .5 -.44 .75 -.73 1 -1.93 2.25 -.91 0 -4.24 0 2.29-2.5 1.46-1.75 .9-1.25 .28-.5 .19-.5 .04-.5 -.04-.25 -.79-1.75 -.04-.5 .1-.5 .46-1 2.79-4.75 .6-1.25 .24-.75 .01-.5 -.08-.25 -.38-.5 -1.11-1 -.29-.5 -.03-.5 .25-1 1.78-4.75 .28-1 .07-.75 -.05-.25 -.16-.25 -.28-.23 -1.75-.88 -.45-.39 -.11-.25 -.03-.5 .07-.5 .89-4.25 .19-1.25 .02-.75 -.08-.3 -.25-.26 -.51-.19 -2.15-.5 -.44-.25 -.14-.25 -.05-.75 .29-4.75 .02-1.25 -.05-.5 -.22-.16 -.25-.03 -3.25-.06 -.25-.03 -.23-.22 -.4-6 .03-.75 .16-.25 .44-.2 2.5-.51 .25-.09 .3-.2 .09-.25 .01-.5zM307.04 211.6l4.23 0 .04 1 -.1 .25 -.11 .09 -.5 .2 -2.25 .47 -.49 .24 -.14 .25 -.01 .75 .33 3.75 .17 3.75 .14 .22 .15 .03 3.35 .05 .25 .02 .22 .18 -.02 2.75 -.41 5.25 .02 .75 .11 .25 .38 .25 2.11 .5 .59 .22 .25 .28 .06 .25 -.04 .75 -.2 1.25 -1.3 5.75 -.08 .5 0 .5 .08 .25 .2 .25 .28 .2 1.61 .8 .33 .25 .18 .25 .06 .25 -.08 .75 -.45 1.5 -.76 2 -1.55 3.75 -.3 1 -.01 .5 .23 .5 1.07 1 .41 .5 .13 .5 -.08 .5 -.4 1 -.8 1.5 -3.28 5.25 -.67 1.25 -.13 .5 -.01 .5 .16 .5 .49 1 .15 .75 -.2 .75 -.6 0 -4.06 0 .76-1 .48-.75 .23-.5 .11-.5 0-.25 -.13-.5 -.51-1 -.16-.5 -.02-.5 .13-.5 .65-1.25 3.07-5 .66-1.25 .4-1 .08-.5 -.12-.5 -.4-.5 -1.08-1 -.25-.5 0-.5 .28-1 1.99-5 .48-1.5 .14-.75 -.06-.5 -.17-.25 -.32-.25 -1.68-.84 -.44-.41 -.08-.25 -.02-.5 .08-.5 1.21-5.5 .15-1 .03-.75 -.05-.25 -.13-.19 -.25-.16 -2.57-.65 -.39-.25 -.12-.25 -.03-.75 .38-5.25 .03-1.75 -.05-.55 -.25-.13 -.25-.02 -3.27-.05 -.23-.05 -.12-.2 -.17-3.5 -.29-3.5 .02-.75 .13-.25 .43-.21 2.5-.53 .46-.26 .1-.25 .02-.25zM315.44 211.6l4.08 0 -.11 .25 -.49 .25 -2.07 .43 -.5 .16 -.24 .16 -.12 .25 0 .75 .42 4.75 .15 3.75 .04 .16 .18 .09 3.57 .06 .25 .07 .04 .12 -.07 3.5 -.47 5.5 .01 .75 .1 .25 .33 .25 2.09 .5 .68 .25 .21 .25 .05 .25 -.07 1 -.26 1.5 -.55 2.5 -.93 3.75 -.1 1 .06 .25 .18 .25 .2 .16 1.66 .84 .34 .25 0 1.94 -.09 .31 -1.03 2.75 -1.93 4.5 -.26 .75 -.09 .5 .07 .5 .13 .25 1.29 1.25 .18 .25 .15 .5 -.07 .5 -.52 1.25 -.97 1.75 -1.36 2.2 -2.33 3.55 -.67 1.2 -.02 .05 -3.07 0 -.33-.75 -.04-.75 .15-.5 .38-.75 3.49-5.5 .99-1.75 .57-1.25 .15-.75 -.13-.5 -.42-.5 -1.06-1 -.21-.5 .02-.5 .41-1.25 1.48-3.5 .97-2.5 .45-1.5 .08-.75 -.07-.25 -.18-.25 -.34-.25 -1.77-.92 -.29-.33 -.08-.25 .1-1 .91-3.75 .48-2.25 .24-1.5 .04-.75 -.15-.4 -.25-.18 -2.62-.67 -.35-.25 -.1-.25 -.02-.75 .43-5.25 .06-3.25 -.15-.17 -.25-.03 -3.45-.05 -.25-.25 -.14-3.5 -.39-4.5 .01-.75 .11-.25 .5-.25 2.11-.44 .5-.16 .22-.15 .11-.25zM321.78 211.85l1.18-.25 1.14 0 0 11.04 -1.5-.01 -1.72-.03 -.18-.25 -.16-4 -.46-5 0-.75 .11-.25 .41-.24zM215.85 212.6l0-.06 .17 .06 .51 .25 .26 .25 .11 .25 .03 .75 -.28 2.75 .07 .5 .13 .15 .18 .1 .57 .13 3.75 .5 .35 .12 .16 .25 .02 .75 -.16 2 -.12 .61 -.25 .37 -.25 .11 -.75 .12 -3 .14 -.75 .13 -.28 .27 -.12 .75 -.07 2.5 -.1 .5 -.18 .31 0-4.84 .12-.22 .09-.5 .19-3 -.05-.5 -.19-.25 -.16-.07zM240.4 216.1l.45-.12 .75-.02 5 0 .75 .11 .25 .28 .42 1.25 .33 .58 .5 .42 .5 .19 .5 .11 1 .09 1.75 .02 6.25-.2 .1 .04 .15 .25 .39 2.5 .11 .27 .25 .32 .3 .16 .7 .15 3.75 .23 .74 .12 .26 .14 .1 .11 .15 .37 .24 2.38 .26 .67 .25 .23 .5 .23 2.83 .62 .67 .28 .25 .27 .14 .45 -.01 2.75 .12 .5 .13 .25 .25 .25 .4 .25 2.23 1 .3 .25 .17 .25 .07 .25 .03 .5 -.46 2.75 .01 .75 .22 .5 .21 .25 1.59 1.25 .22 .25 .22 .5 .01 .5 -.11 .5 -1.02 2.75 -.23 1 .12 .75 1.06 1.75 .11 .5 -.01 .25 -.22 .75 -.39 .75 -1.84 2.75 -.55 1 -.16 .5 -.05 .5 .15 1.5 -.02 .5 -.25 .75 -.51 .75 -1.49 1.5 -3.34 2.75 -1.12 1 -.85 1 -1.15 1.75 -.73 .75 -.66 .5 -1.09 .65 -2.39 1.1 -32.12 0 -1.49-.65 -1.6-.85 -1.05-.75 -.73-.75 -1.15-1.75 -.85-1 -1.12-1 -2.76-2.25 -1.24-1.12 0-10.47 1.12 1.84 .42 1 .08 .75 -.24 1.75 .07 .5 .34 .75 .56 .75 .71 .75 3.39 3 .76 .75 .61 .75 1.07 1.75 .63 .75 .73 .61 1.01 .64 2.24 1.07 3 1.06 3.25 .84 3.25 .57 3.25 .29 3 .02 3.25-.24 3.5-.56 3.21-.8 3.04-1.04 1.5-.65 1.09-.56 .91-.57 .83-.68 .63-.75 .9-1.5 .78-1 .76-.75 3.39-3 .71-.75 .57-.75 .25-.5 .13-.5 .01-.5 -.22-1.5 .02-.5 .12-.5 .49-1 1.5-2.5 .32-.75 .11-.5 0-.25 -.12-.5 -1.16-1.75 -.18-.75 .09-.75 .81-2.75 .04-.5 -.12-.5 -.39-.5 -1.7-1.25 -.41-.5 -.16-.5 -.03-.5 .18-1.75 .01-.75 -.14-.5 -.18-.25 -.32-.25 -.5-.25 -2.27-.94 -.41-.31 -.18-.25 -.22-.75 -.17-2 -.27-.53 -.29-.22 -.46-.18 -3.25-.65 -.59-.17 -.49-.25 -.26-.25 -.26-.5 -.43-1.75 -.22-.38 -.25-.19 -.5-.17 -.5-.07 -5.5-.32 -2-.3 -.75-.25 -.54-.32 -1.21-1.15 -.5-.35 -.5-.19 -.75-.15 -1.25-.09 -1.5 .01 -1.25 .09 -.75 .17 -.75 .39 -1.05 1.02 -.45 .35 -.75 .35 -.75 .2 -2 .24 -5 .28 -.75 .11 -.5 .21 -.25 .26 -.12 .25 -.36 1.5 -.18 .5 -.15 .25 -.26 .25 -.43 .23 -.5 .15 -3.25 .65 -.61 .22 -.32 .25 -.24 .5 -.17 2 -.22 .75 -.19 .25 -.5 .37 -2.17 .88 -.5 .25 -.33 .27 -.17 .23 -.14 .5 .01 .75 .18 1.75 -.03 .5 -.1 .36 -.23 .39 -.24 .25 -1.78 1.33 0-6.3 .47-.28 .25-.25 .21-.5 .05-.75 -.05-1.75 .08-.75 .24-.39 .5-.27 3-.68 .43-.16 .36-.25 .17-.25 .15-.5 .18-2 .09-.5 .12-.26 .25-.2 .5-.13 4-.25 .5-.08 .5-.17 .25-.23 .21-.43 .39-2.5 .15-.26 .5-.05 4.25 .18 2.5 .04 1.5-.07 1-.19 .5-.24 .41-.41 .27-.5 .42-1.25zM242.54 223.35l2.06-.05 1 .09 .75 .14 1 .37 1.86 1.2 1.14 .46 1.75 .38 4.73 .66 .96 .25 .47 .25 .4 .5 .55 1.75 .31 .5 .27 .25 .98 .5 2.58 .9 .5 .29 .31 .31 .13 .25 .11 .5 .1 2 .15 .5 .15 .25 .51 .5 1.88 1.25 .26 .25 .28 .5 .05 .75 -.45 2.25 -.02 .75 .27 .75 1.16 1.5 .23 .5 .05 .25 -.02 .5 -.23 .75 -1.27 2.5 -.28 .75 -.09 .5 .02 .5 .32 1.75 -.05 .5 -.18 .5 -.47 .75 -.63 .75 -2.86 2.75 -.69 .75 -.56 .75 -.97 1.75 -.38 .5 -.5 .5 -1.03 .75 -1.55 .83 -1.75 .74 -2.25 .75 -2 .53 -2.25 .45 -2.25 .29 -2 .13 -2.25 .01 -2.25-.15 -2.25-.3 -2.5-.51 -2.5-.71 -2.21-.81 -1.79-.84 -1.43-.91 -.57-.5 -.43-.5 -1.15-2 -.55-.75 -.7-.75 -2.62-2.5 -.67-.75 -.54-.75 -.24-.5 -.12-.75 .32-1.75 .02-.5 -.09-.5 -.28-.75 -1.27-2.5 -.17-.5 -.09-.5 .01-.25 .15-.5 .31-.5 .98-1.25 .27-.75 -.02-.75 -.45-2.25 .05-.75 .28-.5 .26-.25 1.88-1.25 .51-.5 .15-.25 .15-.5 .14-2.25 .2-.5 .23-.25 .73-.42 2.43-.83 .98-.5 .34-.33 .24-.42 .55-1.75 .21-.32 .5-.36 1.25-.34 4.5-.63 1.72-.35 1.27-.5 1.51-1 .75-.38 .75-.23zM243.85 226.85l-1.5 .1 -1.25 .26 -1 .42 -1.74 .97 -1.01 .41 -1.5 .43 -4.03 .91 -.76 .25 -.71 .39 -.25 .24 -.24 .37 -.56 1.75 -.45 .67 -.77 .58 -2.23 1.23 -.55 .52 -.14 .25 -.14 .5 .07 2 -.09 .75 -.39 .75 -1.36 1.5 -.27 .5 -.09 .5 .04 .5 .13 .5 .79 2 .2 .75 .02 .5 -.06 .5 -.37 1.25 -.08 .5 .03 .5 .15 .5 .26 .5 .55 .75 2.29 2.5 .62 .75 .48 .75 .86 1.75 .36 .5 .48 .5 1 .75 1.46 .8 2 .83 2 .65 2 .48 2 .35 2 .2 2 .06 2-.08 2-.24 2-.37 2-.52 1.95-.66 1.75-.75 1.36-.75 1-.75 .48-.5 .36-.5 .86-1.75 .48-.75 .61-.75 2.31-2.5 .54-.75 .26-.5 .15-.5 .03-.5 -.49-2 0-.75 .2-.75 .79-2 .13-.5 .05-.5 -.1-.5 -.28-.5 -1.35-1.5 -.39-.75 -.1-.75 .08-2 -.14-.5 -.14-.25 -.21-.25 -.44-.34 -2.14-1.16 -.69-.5 -.22-.25 -.3-.5 -.56-1.75 -.34-.48 -.25-.21 -.61-.31 -.76-.25 -4.13-.94 -1.5-.43 -.91-.38 -1.84-1.02 -1-.4 -1.25-.25zM241.7 230.6l1.15-.18 1.25-.05 1.25 .09 1 .2 1.25 .46 1.85 .98 .9 .4 4.25 1.44 1.25 .57 .47 .34 .4 .5 .2 .5 .37 1.5 .4 .75 .45 .5 1.74 1.5 .36 .5 .16 .5 .01 .75 -.38 1.75 -.07 .75 .12 .75 .67 1.75 .07 .5 -.05 .5 -.17 .5 -.41 .75 -2.23 3 -.39 .75 -.59 1.5 -.45 .75 -.73 .75 -.95 .67 -1.05 .58 -1.45 .64 -1.5 .53 -1.5 .42 -1.5 .31 -1.75 .25 -1.75 .1 -1.5-.02 -1.75-.15 -1.75-.29 -1.75-.43 -1.75-.57 -1.5-.62 -1.27-.67 -1.08-.75 -.52-.5 -.38-.5 -.28-.5 -.83-2 -.47-.75 -1.91-2.5 -.41-.75 -.21-.75 .06-.75 .59-1.5 .18-.75 -.02-.75 -.4-2 -.03-.5 .09-.5 .26-.5 .2-.25 1.74-1.5 .62-.75 .31-.75 .38-1.5 .28-.5 .55-.5 .8-.42 4.61-1.58 1.14-.5 2-1.05zM241.85 234.09l-.75 .22 -.75 .32 -2.68 1.47 -3.07 1.46 -.91 .54 -.58 .5 -.34 .5 -.17 .5 -.21 1.75 -.2 .75 -.24 .5 -.93 1.5 -.21 .5 -.09 .5 .04 .5 .36 1 1.33 2.5 .59 2 .31 .75 .55 .75 .95 .79 1.18 .71 1.32 .6 1.25 .45 1.5 .41 1.25 .24 1.5 .16 1.5 .03 1.5-.11 1.25-.19 1.25-.29 2.25-.76 1.17-.54 .87-.5 .71-.5 .55-.5 .4-.5 .28-.5 .77-2.5 1.45-2.75 .24-.75 .01-.75 -.27-.75 -.78-1.25 -.39-.75 -.2-.75 -.16-1.5 -.22-.75 -.34-.5 -.58-.5 -1.26-.72 -3.2-1.53 -2.05-1.15 -1-.42 -1-.27 -1.25-.14 -1.25 .02zM243.39 237.35l1.21 .01 1 .17 1 .34 1 .54 3.25 2.3 1.05 .89 .58 .75 .2 .5 .06 .5 -.06 .75 -.39 2 -.16 2.25 -.26 .75 -.53 .75 -.54 .5 -.69 .5 -.87 .5 -.89 .4 -1 .36 -1 .27 -1 .17 -1 .08 -1 0 -1.25-.13 -1-.21 -1-.29 -1-.39 -1-.51 -.78-.5 -.61-.5 -.64-.75 -.34-.75 -.13-.75 -.09-1.75 -.45-2.5 .07-.75 .34-.75 .43-.5 .95-.81 3-2.15 1-.6 1.25-.48zM243.35 240.82l-.75 .15 -.88 .38 -.62 .44 -.75 .77 -.75 1.04 -.54 1 -.23 .75 -.02 .75 .15 .5 .46 .75 .68 .65 .75 .5 .75 .36 1 .31 .75 .12 1 .01 .75-.11 1-.29 .75-.34 .75-.48 .55-.48 .57-.75 .21-.5 .07-.75 -.09-.5 -.17-.5 -.54-1 -.85-1.16 -.75-.73 -.75-.48 -.75-.29 -.75-.13zM215.85 241.85l.35 1 .15 .75 -.01 .5 -.24 .64 -.25 .38zM243.28 244.35l.32-.14 .5-.02 .42 .16 .28 .25 .14 .25 .02 .5 -.12 .25 -.24 .26 -.25 .15 -.5 .08 -.5-.13 -.25-.19 -.15-.17 -.14-.5 .19-.5zM215.85 264.85l0-.2 1.9 1.45 1.18 1 .9 1 1.22 1.75 -4.42 0 -.78-.62zM323.99 265.35l.11-.17 0 4.67 -3 0 -.06 0z"/>
<path fill="#00c3ff" d="M232.83 213.1l.52-.06 .42 .06 .53 .25 .08 .25 -.53 .14 -.75-.11 -.36-.28zM254.03 213.1l.57-.06 .36 .06 .1 .25 -.29 .25 -.17 .06 -.75 .08 -.42-.14 .07-.25zM234.29 235.1l.81-.18 .25 .01 .29 .17 -.1 .25 -.26 .25 -.43 .27 -.75 .27 -.25 .03 -.32-.07 -.09-.25 .12-.25 .26-.25zM252.17 235.1l.18-.14 .25-.05 .91 .19 .46 .25 .27 .25 .13 .25 -.02 .09 -.08 .16 -.17 .06 -.5-.04 -.25-.09 -.83-.43 -.26-.25zM230.03 240.85l.12 0 .2 .12 .1 .38 -.1 .38 -.35 .37 -.15 .06 -.25-.05 -.16-.26 -.04-.25 .2-.5 .25-.2zM257.6 240.85l.25 0 .25 .16 .25 .34 .02 .5 -.18 .25 -.09 .05 -.25-.01 -.25-.19 -.2-.35 -.06-.25 .03-.25zM238.57 241.1l.53-.13 .25 .02 .16 .11 .03 .25 -.06 .25 -.32 .75 -.56 1 -.75 1.12 -.39 .38 -.11 .09 -.25 .02 -.25-.16 -.25-.38 -.17-.57 .02-.75 .19-.5 .46-.59 .5-.41zM248.29 241.1l.31-.13 .25 .02 .75 .27 .75 .45 .65 .64 .28 .5 .12 .5 -.05 .63 -.25 .62 -.25 .29 -.25 .09 -.25-.1 -.25-.23 -.75-1.06 -.71-1.24 -.32-.75 -.06-.25zM243.6 244.6l.25-.06 .25 .02 .25 .12 .18 .17 .09 .25 -.02 .25 -.16 .25 -.34 .2 -.25 .02 -.25-.06 -.25-.17 -.16-.24 -.02-.25 .1-.25zM250.09 247.6l.26 .12 .07 .13 .06 .25 -.03 .5 -.35 .73 -.47 .52 -.68 .5 -.98 .5 -1.12 .37 -1.25 .26 -1.23 .12 -1.02 0 -1.25-.13 -1.25-.27 -1.02-.35 -.98-.5 -.68-.5 -.45-.5 -.37-.74 -.04-.51 .06-.25 .23-.24 .25 .02 2.5 1.58 1.25 .57 .75 .23 .75 .14 .75 .05 .75-.04 1-.19 1.25-.46 1-.53 1.75-1.18zM229.33 248.1l.27-.22 .25 .15 .25 .32 .12 .5 -.12 .23 -.25-.06 -.22-.17 -.28-.48zM257.88 248.1l.22-.18 .25-.01 .1 .19 -.09 .5 -.26 .32 -.25 .16 -.25-.1 -.01-.38zM236.57 256.35l.03-.06 .5 .03 .78 .28 -.28 .08 -.47-.08 -.28-.17zM250.56 256.35l.54-.09 .12 .09 -.37 .11 -.19 .14 -.56 .08 -.17-.08 .42-.11z"/>
<path fill="#2fffd0" d="M243.66 244.85l.19-.08 .25 .05 .25 .25 -.01 .28 -.24 .23 -.29 .02 -.21-.08 -.15-.17 -.02-.25z"/>
<path fill="#9aff65" d="M243.62 245.1l.23-.18 .25 .08 .09 .1 -.02 .25 -.32 .15 -.21-.15z"/>
<path fill="#fff800" d="M243.76 245.1l.09-.07 .15 .07 -.06 .25 -.09 .04 -.05-.04z"/>
<rect x="213.85" y="209.60" width="112.20" height="13.03" fill="#031eea"/>
</g>
<g clip-path="url(#c22)">
<rect x="397.85" y="209.60" width="112.20" height="62.20" fill="#000080"/>
<path fill="#0000eb" d="M399.85 211.6l108.25 0 0 58.25 -108.25 0zM421.1 243.07l-.34 .28 -.16 .25 -.06 .25 .06 .45 .25 .25 .25-.05 .25-.29 .21-.61 0-.25 -.12-.25 -.09-.07zM425.85 239.08l-1.25 .27 -.59 .25 -.37 .25 -.19 .25 .15 .25 .5-.07 2-.55 1.25-.21 1-.01 1.5 .26 2.21 .58 .08 0 .21-.19 .01-.06 -.2-.25 -.36-.25 -.6-.25 -1.07-.25 -2.03-.11zM434.35 243.08l-.1 .27 0 .25 .14 .5 .21 .31 .25 .15 .25-.11 .15-.35 0-.25 -.15-.42 -.25-.27 -.25-.13zM421.35 247.55l-.09 .05 -.13 .25 .22 .55 .5 .49 .5 .26 .25 .04 .14-.09 -.05-.25 -.32-.5 -.52-.53 -.25-.18zM427.1 243.06l-.82 .29 -.68 .51 -.25 .38 -.11 .36 .07 .75 .22 .5 .32 .51 .45 .49 .32 .25 .48 .24 .5 .11 .5 .01 .5-.09 .75-.4 .39-.37 .36-.46 .3-.54 .15-.5 .02-.5 -.07-.25 -.31-.5 -.27-.25 -.82-.43 -1-.19zM434.35 247.57l-.25 .13 -.44 .4 -.57 .75 -.04 .25 .05 .06 .25 .01 .25-.07 .39-.25 .49-.5 .14-.25 .04-.25 -.06-.24zM427.19 244.6l.41-.21 .5-.02 .5 .23 .24 .25 .13 .25 .01 .5 -.14 .25 -.26 .25 -.23 .13 -.5 .07 -.5-.12 -.25-.16 -.25-.38 -.06-.29 .16-.5z"/>
<path fill="#0057ff" d="M401.84 211.6l3.56 0 -.14 1.25 .03 .25 .15 .25 .5 .25 1.81 .5 .35 .14 .25 .19 .14 .42 -.02 1.75 .16 .25 .47 .17 2.75 .4 .6 .18 .15 .25 .02 .25 -.08 1.5 -.05 .25 -.14 .13 -.25 .02 -3.35-.15 -.65-.09 -.08-.16 .08-1.75 -.04-.5 -.21-.24 -.25-.09 -2.36-.42 -.39-.12 -.2-.13 -.1-.25 -.01-.25 .12-1.5 -.07-.5 -.23-.25 -.26-.12 -2-.68 -.23-.2 -.09-.25zM408.97 211.6l1.94 0 1.52 .5 .55 .25 .26 .25 .1 .25 .07 1.25 .04 .25 .15 .25 .25 .16 .5 .16 3.25 .55 .75 .23 .19 .15 .12 .25 .14 1.5 .05 .09 .25 .14 1 .12 2.5 .12 5.25 .09 6-.12 2.25-.13 .75-.13 .15-.18 .14-1.5 .21-.33 .32-.17 .43-.11 3.5-.61 .61-.28 .13-.25 .05-.25 .07-1.25 .11-.25 .26-.25 .54-.25 1.52-.5 1.95 0 -.13 .25 -.03 .25 .06 1.25 -.01 .25 -.13 .32 -.21 .18 -.29 .11 -2.59 .64 -.44 .25 -.14 .25 -.04 .25 -.04 1.46 -.26 .29 -.99 .18 -3.75 .36 -.5 .16 -.11 .3 -.01 .25 .06 .75 .11 .5 .2 .23 .5 .09 5-.06 .15 .24 .16 1.5 .19 .51 .25 .13 .5 .08 2.5 .1 .75 .11 .1 .07 .13 .25 .14 1.5 .15 .5 .23 .18 .25 .09 2.25 .32 .53 .16 .21 .25 .06 .25 .04 1.5 .13 .5 .28 .24 .25 .1 1.62 .41 .58 .25 .18 .25 .04 .25 -.07 1.75 .12 .5 .28 .26 1.5 .62 .25 .12 .28 .25 .12 .5 -.26 1.75 .01 .5 .11 .25 .24 .25 1.26 .75 .26 .25 .12 .25 -.06 .75 -.47 1.75 0 .5 .12 .25 .21 .25 .89 .75 .18 .25 .09 .25 0 .25 -.22 .75 -.74 1.75 -.08 .5 .14 .5 .74 1 .09 .25 -.03 .5 -.33 .75 -1.07 1.75 -.31 .75 .01 .5 .43 1.25 -.06 .5 -.26 .5 -.37 .5 -1.73 2 -.36 .5 -.13 .25 -.14 .5 .02 1 -.09 .5 -.5 .75 -1.1 1 -2.3 1.75 -.88 .75 -.58 .75 -.65 1.25 -.45 .5 -1.08 .75 -1.44 .75 -2.63 1.12 -3.1 1.13 -6.58 0 8.68-3.22 2.25-.97 1.54-.81 .75-.5 .55-.5 .34-.5 .46-1 .57-.75 3.05-2.5 .99-1 .17-.25 .19-.5 -.03-1.25 .12-.5 .46-.75 1.63-2 .32-.5 .18-.5 -.04-.5 -.42-1 -.04-.5 .27-.75 .99-1.75 .26-.75 -.09-.5 -.76-1 -.2-.5 .04-.5 .64-1.75 .15-.75 -.06-.25 -.14-.25 -1.17-1 -.17-.25 -.07-.25 .03-.5 .37-1.75 -.06-.5 -.32-.34 -1.5-.9 -.2-.26 -.09-.5 .15-1.75 -.05-.25 -.16-.25 -.41-.25 -1.49-.56 -.34-.19 -.16-.18 -.13-.32 -.03-.25 -.02-1.5 -.08-.25 -.24-.23 -.5-.19 -2-.5 -.25-.13 -.19-.2 -.15-.5 -.11-1.25 -.09-.25 -.21-.2 -.5-.16 -2.25-.27 -.75-.19 -.24-.18 -.14-.25 -.28-1.5 -.09-.15 -.25-.16 -.75-.1 -3.25-.13 -.5-.06 -.5-.13 -.25-.22 -.15-.3 -.33-1.25 -.27-.18 -1.25-.08 -16.25 .02 -.5 .09 -.17 .15 -.33 1.25 -.11 .25 -.26 .25 -.38 .13 -.5 .07 -3.5 .14 -.75 .14 -.25 .3 -.25 1.39 -.25 .42 -.5 .2 -2.5 .33 -.5 .11 -.25 .14 -.2 .38 -.11 1.25 -.19 .56 -.22 .19 -.28 .12 -2.25 .57 -.39 .31 -.11 .5 .01 1.25 -.11 .5 -.21 .25 -.19 .12 -1.64 .63 -.41 .25 -.16 .25 -.05 .25 .15 1.75 -.09 .5 -.18 .25 -.35 .25 -1.29 .75 -.23 .38 0-4.25 .87-.38 .26-.25 .12-.5 -.08-1.5 .06-.5 .17-.25 .35-.18 1.75-.44 .34-.13 .29-.25 .13-.5 .04-1.5 .06-.25 .14-.2 .5-.19 2.25-.31 .5-.21 .18-.34 .05-.25 .14-1.5 .13-.25 .25-.11 3-.16 .75-.15 .11-.08 .14-.29 .2-1.71 .05-.17 .15-.08 4.85 .08 .54-.08 .26-.25 .11-.5 .05-1 -.06-.25 -.15-.11 -.77-.14 -3.48-.33 -.9-.17 -.24-.25 -.05-1.5 -.04-.25 -.13-.25 -.45-.25 -2.12-.5 -.82-.29 -.21-.21 -.07-.25 .05-1.5zM414.1 211.6l5.23 0 .32 1 .23 .25 .57 .25 .9 .18 1.5 .2 3.5 .23 2.25 .01 2.25-.08 2.25-.18 1.75-.25 .75-.2 .32-.16 .23-.25 .11-.25 .21-.75 5.23 0 -.09 .25 -.23 .25 -.78 .32 -2.72 .68 -.61 .25 -.27 .25 -.12 .25 -.2 1 -.1 .25 -.29 .25 -.44 .13 -1.75 .22 -3 .18 -2.75 .06 -3-.04 -3.75-.21 -1.25-.14 -.75-.17 -.38-.28 -.3-1.25 -.12-.25 -.27-.25 -.61-.25 -3.07-.79 -.5-.27 -.16-.19zM450.4 211.6l3.56 0 .06 .75 -.08 .25 -.32 .25 -1.77 .57 -.5 .25 -.15 .18 -.06 .25 .12 1.75 -.01 .25 -.1 .25 -.6 .25 -1.95 .33 -.64 .17 -.22 .25 -.04 .25 .08 2 -.18 .19 -1 .09 -2.75 .12 -.5-.06 -.14-.84 -.01-1.25 .15-.25 .25-.11 2.75-.41 .83-.23 .15-.25 .03-.25 -.06-1.25 .05-.5 .17-.25 .33-.17 2.01-.58 .49-.25 .16-.25 .03-.25zM457.31 211.6l2.64 0 -1.6 .58 -.25 .17 -.14 .25 0 .5 .24 1.75 -.02 .5 -.33 .28 -2.09 .47 -.44 .25 -.09 .5 .13 2.25 -.26 .24 -2.83 .26 -.17 .04 -.21 .21 .09 2.25 .12 .34 .25 .12 2.75 .13 .25 .05 .12 .11 .08 .5 .04 1.75 .11 .5 .15 .13 .31 .12 1.94 .29 .5 .21 .11 .25 .03 .25 -.07 2 .03 .25 .12 .25 .42 .25 1.77 .5 .29 .25 .08 .5 -.23 2 .04 .5 .17 .25 .24 .17 1.36 .58 .39 .35 .06 .15 0 .5 -.44 2 -.03 .5 .07 .25 .34 .35 1.05 .65 .26 .25 .1 .25 -.09 .75 -.74 2.25 -.01 .5 .11 .25 .21 .25 .83 .75 .16 .25 .05 .25 -.18 .75 -1.08 2.25 -.16 .5 .03 .5 .79 1.25 .04 .5 -.32 .75 -1.5 2.25 -.39 .75 -.06 .5 .39 1.25 0 .25 -.15 .5 -.72 1 -1.88 2 -.62 .75 -.26 .5 -.06 .25 -.06 1.25 -.07 .25 -.29 .5 -.46 .5 -.88 .75 -3.11 2.25 -.92 .75 -.45 .5 -.7 1.25 -.38 .5 -2.73 0 -1.92 0 2.01-1 1.1-.75 .47-.5 .67-1.25 .6-.75 .9-.75 3.01-2.25 .81-.75 .38-.5 .19-.5 .03-1.25 .16-.5 .52-.75 2.02-2.25 .37-.5 .25-.5 .06-.5 -.42-1.25 .04-.5 .34-.75 1.29-2 .33-.75 -.01-.5 -.1-.25 -.71-1 -.08-.5 .22-.75 .9-2 .11-.5 -.02-.25 -.12-.25 -.22-.25 -.85-.75 -.16-.25 -.06-.25 .05-.5 .61-2 .06-.5 -.06-.25 -.27-.33 -1.25-.79 -.3-.38 -.03-.5 .36-2 -.04-.5 -.24-.28 -1.63-.72 -.37-.34 -.07-.16 -.03-.5 .16-1.75 -.03-.25 -.11-.25 -.43-.25 -1.83-.5 -.34-.25 -.13-.5 .01-1.75 -.04-.25 -.14-.25 -.52-.19 -2.12-.31 -.38-.22 -.16-.53 -.09-1.77 -.09-.23 -.16-.11 -3.25-.22 -.26-.17 -.12-.5 -.1-1.75 .12-.25 3.11-.23 .5-.1 .13-.17 .01-.25 -.11-1.75 .06-.5 .32-.25 2.39-.5 .38-.25 .06-.5 -.19-1.75 .09-.5 .32-.25 1.48-.5 .54-.25 .19-.25zM461.33 211.6l2.82 0 .34 2 .06 .75 -.1 .25 -.1 .07 -.44 .18 -1.56 .36 -.32 .14 -.15 .25 -.02 .5 .2 2.25 -.01 .25 -.15 .25 -2.55 .32 -.25 .09 -.09 .09 -.04 .5 .13 2.49 .25 .23 2.5 .1 .25 .03 .15 .15 .05 .5 -.01 2.25 .12 .5 .44 .21 1.89 .29 .36 .22 .09 .53 -.17 2.25 .08 .57 .15 .18 .35 .16 1.5 .43 .28 .16 .14 .25 .01 .5 -.36 2.25 -.01 .5 .09 .25 .3 .25 1.3 .58 .25 .17 .16 .25 -.04 .75 -.54 2 -.11 .75 .05 .25 .17 .25 1.13 .75 .26 .25 .1 .25 .01 .25 -.29 1 -.78 2 -.1 .5 .02 .25 .11 .25 .22 .25 .78 .75 .13 .25 .03 .25 -.22 .75 -1.32 2.5 -.26 .75 .06 .5 .64 1 .09 .25 -.03 .5 -.54 1 -1.79 2.5 -.36 .75 -.01 .5 .31 1 .02 .25 -.03 .25 -.23 .5 -.81 1 -2.23 2.25 -.66 .75 -.29 .5 -.08 .25 -.06 1 -.1 .5 -.29 .5 -.47 .5 -1.22 1 -2.14 1.5 -1.79 0 -2.18 0 .85-.75 3.86-2.75 1.14-1 .5-.75 .11-.5 .04-1 .07-.25 .28-.5 .64-.75 2.16-2.25 .73-1 .14-.5 -.02-.25 -.32-1 -.02-.5 .32-.75 1.58-2.25 .54-1 .06-.5 -.07-.25 -.66-1 -.12-.5 .23-.75 1.03-2 .22-.5 .14-.5 -.08-.5 -1.01-1 -.16-.25 -.06-.25 .13-.75 .81-2.25 .08-.5 -.05-.25 -.18-.25 -.23-.18 -1-.65 -.18-.17 -.12-.25 .06-.75 .48-2 .05-.5 -.07-.25 -.24-.25 -.23-.13 -1.38-.62 -.21-.25 -.07-.5 .29-2 -.02-.75 -.2-.25 -.16-.08 -1.49-.42 -.53-.25 -.15-.25 -.03-.25 .12-2.25 -.02-.25 -.15-.33 -.45-.17 -1.8-.26 -.25-.08 -.22-.16 -.12-.5 -.02-2.25 -.05-.25 -.09-.11 -.5-.08 -2.25-.07 -.25-.05 -.17-.19 -.15-2.25 .07-.57 .25-.13 .25-.04 2.5-.28 .18-.23 .01-.25 -.17-2.25 .01-.25 .11-.25 .6-.25 1.51-.33 .42-.17 .08-.11 .07-.14 0-.5 -.32-2.25 .04-.25zM467.22 211.6l3.04 0 .28 1.5 -.02 .5 -.24 .25 -1.87 .5 -.34 .25 -.05 .5 .28 2.75 0 .25 -.08 .25 -.37 .13 -2 .24 -.34 .13 -.09 .5 .14 3 .04 .14 .25 .11 2.5 .08 .21 .17 -.02 3.25 .06 .37 .08 .13 .42 .17 1.95 .33 .21 .25 .01 .75 -.24 2.75 .08 .25 .24 .21 1.74 .54 .28 .25 .06 .25 -.03 .5 -.48 2.5 -.04 .5 .05 .25 .21 .25 .21 .13 1.33 .62 .2 .25 .05 .25 -.19 1 -.68 2.25 -.07 .5 .03 .25 .16 .25 .17 .15 .92 .6 .26 .25 .1 .25 0 .25 -.2 .75 -1.14 2.75 -.11 .5 .03 .25 .12 .25 .96 1 .11 .25 -.05 .5 -.44 1 -1.43 2.5 -.25 .75 .1 .5 .62 1 .06 .25 -.1 .5 -.59 1 -1.9 2.5 -.49 .75 -.17 .5 0 .25 .31 1.25 -.09 .5 -.13 .25 -.35 .5 -.68 .75 -2.58 2.5 -.69 .75 -.32 .5 -.09 .25 -.2 1.5 -.84 0 -2.52 0 .9-.75 .63-.75 .19-.5 .11-1.25 .09-.25 .3-.5 .68-.75 2.52-2.5 .64-.75 .3-.5 .11-.5 -.33-1.25 .04-.5 .39-.75 1.86-2.5 .59-1 .13-.5 -.04-.25 -.73-1.25 -.01-.5 .3-.75 1.38-2.5 .21-.5 .08-.5 -.07-.25 -.16-.25 -.79-.75 -.17-.25 -.06-.25 .15-.75 .91-2.25 .25-1 -.04-.25 -.18-.25 -1.11-.75 -.25-.25 -.09-.25 .08-.75 .64-2.25 .09-.75 -.09-.25 -.18-.16 -1.5-.73 -.14-.11 -.14-.25 -.02-.5 .44-2.5 .02-.5 -.09-.25 -.4-.25 -1.66-.5 -.24-.25 -.07-.5 .22-2.5 -.04-.5 -.13-.17 -.5-.16 -1.5-.21 -.52-.21 -.1-.25 -.02-.25 .02-2.75 -.03-.25 -.1-.13 -.5-.07 -2.07-.05 -.18-.02 -.22-.23 -.13-2.75 .07-.5 .28-.14 2-.23 .5-.13 .12-.25 .01-.25 -.25-2.5 .03-.5 .23-.25 1.91-.5 .38-.25 .05-.25 -.03-.5zM473.26 211.6l2.96 0 .11 1 -.09 .25 -.14 .09 -1.75 .5 -.31 .16 -.12 .25 .01 .5 .33 2.75 -.03 .75 -.38 .18 -1.75 .22 -.4 .1 -.1 .09 -.08 .41 .15 3.5 .18 .24 2.5 .07 .23 .19 -.07 3.75 .09 .39 .1 .11 .4 .12 1.75 .29 .25 .18 .06 .16 0 .5 -.34 3 .01 .5 .14 .25 .13 .08 1.75 .58 .15 .09 .13 .25 -.04 .75 -.58 2.75 -.05 .75 .14 .25 .25 .18 1.25 .59 .24 .23 .08 .25 -.17 1 -.88 2.75 -.1 .5 .03 .25 .13 .25 .17 .15 .89 .6 .27 .25 .1 .25 .01 .25 -.31 1 -1.22 2.75 -.2 .75 .03 .25 .13 .25 .93 1 .08 .25 -.06 .5 -.48 1 -1.64 2.75 -.33 .75 .01 .5 .69 1.25 -.03 .5 -.23 .5 -.49 .75 -2.37 3 -.46 .75 -.12 .5 .24 1 .04 .5 -.05 .25 -.27 .5 -1.1 1.25 -2.31 2.17 -.09 .08 -.41 0 -2.9 0 .33-.5 .46-.5 2.88-2.75 1.11-1.25 .28-.5 .07-.25 -.03-.5 -.27-1 .02-.25 .19-.5 .51-.75 1.95-2.5 .51-.75 .24-.5 .06-.5 -.07-.25 -.61-1 -.06-.5 .29-.75 1.61-2.75 .42-1 -.01-.5 -.14-.25 -.77-.75 -.17-.25 -.07-.5 .24-.75 1.09-2.5 .17-.5 .09-.5 -.04-.25 -.19-.25 -1.09-.75 -.22-.25 -.08-.25 .11-.75 .71-2.25 .22-1 -.01-.25 -.14-.25 -.37-.25 -1.11-.5 -.29-.25 -.09-.25 .08-.75 .5-2.5 .02-.75 -.2-.25 -.23-.11 -1.5-.45 -.3-.19 -.1-.25 0-.5 .28-2.5 0-.75 -.13-.23 -.25-.11 -1.75-.27 -.39-.14 -.11-.17 -.05-.58 .05-3.25 -.25-.19 -2.5-.07 -.2-.24 -.14-3.25 .01-.25 .08-.21 .5-.17 1.75-.21 .4-.16 .07-.25 -.02-.5 -.31-3 .09-.25 .27-.18 1.5-.39 .5-.24 .11-.19 .01-.25zM479.13 211.6l2.85 0 -.03 .25 -.26 .25 -1.76 .5 -.27 .25 -.03 .5 .39 3 .03 1 -.2 .19 -.23 .06 -1.87 .25 -.15 .05 -.17 .2 .14 4.25 .03 .16 .14 .09 2.61 .1 .06 .15 .02 .5 -.12 3.5 .04 .52 .25 .23 1.75 .28 .25 .07 .25 .2 .03 .7 -.4 3.25 -.03 .5 .05 .25 .28 .25 1.61 .5 .29 .25 .06 .25 -.19 1.25 -.63 2.75 -.03 .5 .07 .25 .29 .25 1.1 .51 .35 .24 .11 .25 -.09 .75 -1.15 3.5 -.11 .5 .02 .25 .12 .25 .25 .23 .78 .52 .27 .25 .11 .25 .01 .25 -.31 1 -1.4 3 -.27 .75 .01 .5 .14 .25 .74 .75 .16 .25 .07 .25 -.09 .5 -.64 1.25 -1.85 3 -.31 .75 .05 .5 .58 1 .07 .25 -.08 .5 -.26 .5 -.52 .75 -2.64 3.25 -.51 .75 -.16 .5 0 .25 .26 1.25 -.03 .25 -.24 .5 -.39 .5 -.8 0 -2.69 0 1.25-1.25 .77-1 .1-.25 .04-.5 -.26-1 -.01-.25 .15-.5 .14-.25 2.75-3.5 .8-1.25 .11-.5 -.04-.25 -.58-1 -.11-.5 .27-.75 1.82-3 .6-1.25 .01-.5 -.13-.25 -.92-1 -.08-.25 0-.25 .24-.75 1.36-3 .27-1 -.05-.25 -.19-.25 -1.07-.75 -.21-.25 -.06-.25 .13-.75 .92-2.75 .2-1 -.03-.25 -.18-.25 -1.32-.64 -.18-.11 -.2-.25 -.05-.25 .06-.5 .61-2.75 .11-1 -.09-.25 -.26-.18 -1.5-.47 -.22-.1 -.2-.25 0-.75 .36-3 0-.5 -.08-.25 -.36-.16 -1.75-.28 -.25-.1 -.14-.21 .07-4 -.02-.25 -.16-.18 -2.5-.07 -.21-.25 -.14-4 .1-.17 .13-.08 2.12-.31 .31-.19 .01-.75 -.37-3 0-.5 .18-.25 .12-.05 1.63-.45 .37-.23 .08-.27zM483.84 211.85l.73-.25 1.28 0 -.54 .25 -.1 .25 .53 4.5 -.01 .25 -.21 .25 -1.92 .28 -.25 .07 -.17 .15 -.04 .5 .21 4.43 .25 .09 2.25 .03 .25 .1 .01 1.6 -.13 3 .04 .5 .08 .1 .36 .15 1.65 .25 .24 .09 .14 .16 -.01 1 -.44 3.25 -.04 .75 .11 .25 .24 .15 1.5 .47 .23 .13 .14 .25 -.01 .5 -.14 .75 -.77 3.25 -.07 .5 .04 .25 .2 .25 1.48 .75 .16 .25 .03 .25 -.3 1.25 -1.14 3.25 -.11 .75 .1 .25 .25 .25 1.04 .75 .11 .25 .01 .25 -.12 .5 -.3 .75 -1.44 3 -.39 1 -.03 .25 .05 .25 .15 .25 .74 .75 .14 .25 .05 .25 -.03 .25 -.19 .5 -.4 .75 -2.07 3.25 -.52 1 -.04 .5 .09 .25 .56 1 .03 .25 -.13 .5 -.28 .5 -.73 1 -2.51 3 -.63 .83 -.24 .42 -1.85 0 -.2-.75 -.02-.5 .19-.5 .33-.5 2.87-3.5 .54-.75 .4-.75 .05-.5 -.66-1.25 0-.5 .48-1 2.04-3.25 .47-1 .05-.5 -.11-.25 -.91-1 -.1-.25 0-.25 .24-.75 1.53-3.25 .29-.75 .08-.5 -.05-.25 -.2-.25 -1.06-.75 -.18-.25 -.05-.25 .15-.75 1.11-3.25 .2-1 -.06-.25 -.26-.25 -1.32-.65 -.14-.1 -.12-.25 .06-.75 .64-2.75 .2-1.25 -.02-.25 -.21-.25 -1.66-.54 -.29-.21 -.08-.25 .45-3.75 .04-.75 -.05-.25 -.07-.09 -.43-.16 -1.64-.25 -.18-.07 -.16-.18 -.04-.5 .13-4.25 -.18-.19 -2.49-.06 -.15-.25 -.17-4 .03-.5 .28-.21 2-.29 .25-.15 .07-.35 -.03-.5 -.46-3.75 .06-.25 .11-.11 .28-.14zM487.98 211.6l2.74 0 .47 3.25 .12 1.5 -.1 .25 -.11 .05 -1.75 .27 -.51 .18 -.08 .5 .21 4.75 .13 .26 2.5 .05 .13 .19 .01 .5 -.19 4.5 .05 .43 .25 .21 2 .36 .2 .25 -.09 1.5 -.5 3.5 .02 .5 .12 .16 .25 .15 1.5 .47 .25 .22 .06 .25 -.24 1.5 -.81 3.25 -.07 .75 .13 .25 .18 .13 1.26 .62 .24 .25 .05 .25 -.07 .5 -.21 .75 -1.27 3.5 -.2 .75 -.01 .25 .09 .25 .24 .25 1.03 .75 .13 .25 -.04 .5 -.37 1 -1.73 3.5 -.38 1 .04 .5 .16 .25 .72 .75 .13 .25 -.01 .5 -.2 .5 -.56 1 -2.12 3.25 -.57 1 -.11 .5 .03 .25 .55 1 .08 .25 0 .25 -.17 .5 -.67 1 -1.56 1.91 -.08 .09 -3.32 0 2.53-3 .73-1 .27-.5 .09-.5 -.17-.5 -.44-.75 -.06-.25 .07-.5 .55-1 1.94-3 .79-1.5 .07-.5 -.09-.25 -.9-1 -.11-.25 -.01-.25 .24-.75 1.7-3.5 .46-1.25 .02-.25 -.06-.25 -.2-.25 -1.05-.75 -.17-.25 -.04-.25 .17-.75 1.24-3.5 .21-.75 .04-.5 -.1-.25 -.32-.24 -1.25-.63 -.14-.13 -.07-.25 .09-.75 .85-3.5 .12-1 -.09-.25 -.26-.18 -1.5-.47 -.19-.1 -.17-.25 .03-.75 .49-3.5 .02-1 -.27-.25 -1.66-.26 -.25-.06 -.26-.18 -.07-.5 .17-4.25 -.01-.5 -.08-.18 -2.5-.06 -.08-.01 -.12-.25 -.19-4.5 .06-.5 .33-.17 2-.32 .18-.26 -.05-1 -.49-3.5zM493.5 211.6l2.78 0 .42 2.75 .13 1.5 -.06 .25 -.17 .11 -2 .33 -.16 .06 -.09 .13 -.05 .37 .23 5.25 .08 .25 2.49 .05 .17 .2 -.04 2.25 -.17 3.25 .04 .35 .08 .15 .17 .08 2 .37 .09 .05 .1 .25 -.08 1.25 -.55 3.75 -.06 .75 .09 .25 .16 .12 1.77 .63 .15 .25 .02 .25 -.34 1.75 -.89 3.5 -.05 .5 .08 .25 .26 .23 1.1 .52 .32 .25 .09 .25 -.05 .5 -.29 1 -1.39 3.75 -.22 .75 -.01 .25 .07 .25 .23 .25 1.03 .75 .14 .25 -.03 .5 -.6 1.5 -1.78 3.5 -.38 1 -.01 .25 .07 .25 .88 1 .12 .25 -.05 .5 -.21 .5 -.56 1 -2.65 4 -.39 .75 -.08 .5 .06 .25 .44 .75 .15 .5 -.1 .5 -.28 .5 -.12 0 -3.04 0 1.1-1.5 .23-.5 .05-.25 -.13-.5 -.53-1 -.01-.25 .15-.5 .59-1 2.3-3.5 .42-.75 .3-.75 .02-.25 -.07-.25 -.88-1 -.13-.25 -.02-.25 .23-.75 1.87-3.75 .43-1 .15-.5 .02-.25 -.07-.25 -.22-.25 -1.03-.75 -.16-.25 -.02-.25 .18-.75 1.37-3.75 .32-1.25 -.02-.25 -.17-.25 -1.44-.75 -.21-.25 -.03-.25 .06-.5 .94-3.75 .2-1.25 -.03-.25 -.22-.25 -1.57-.5 -.32-.25 -.06-.25 .04-.5 .51-3.5 .1-1.5 -.2-.28 -2-.36 -.19-.11 -.06-.13 -.03-.37 .16-3.25 .03-2 -.16-.2 -2.5-.05 -.09-.25 -.22-5 .06-.43 .25-.16 2-.33 .15-.08 .08-.25 -.13-1.5zM499.05 211.6l2.76 0 .39 2.75 .08 .75 -.03 .5 -.15 .15 -.25 .08 -1.8 .27 -.25 .25 .24 6 .06 .25 2.5 .05 .23-.05 -.06-.25 -.24-6.25 .07-.11 .25-.13 1.75-.26 .25-.09 .12-.16 -.03-1 -.38-2.75 2.73 0 .35 2.5 .04 1 -.08 .15 -.17 .1 -1.7 .25 -.38 .13 -.1 .12 -.03 .5 .33 6.25 2.55 .05 0 3.81 -.17 2.89 .03 .25 .14 .17 0 7.61 -1-.33 -.2-.2 -.04-.25 .72-5 .1-1 -.04-.5 -.29-.19 -1.86-.31 -.14-.09 -.1-.16 .23-5.5 0-1 -.13-.2 -2.5-.04 -.1 .24 -.04 2.5 -.19 3.5 .01 .25 .19 .25 1.88 .33 .32 .17 .06 .25 -.06 1 -.68 4.5 -.02 .75 .19 .25 .19 .08 1.5 .49 .21 .18 .06 .25 -.19 1.25 -1.1 4.25 -.13 .75 .04 .25 .2 .25 1.44 .75 .15 .25 -.08 .75 -.58 1.75 -1.34 3.5 -.15 .75 .06 .25 .21 .25 1.03 .75 .15 .25 -.02 .5 -.61 1.5 -2.05 4 -.38 1 -.01 .25 .1 .25 .88 1 .09 .25 -.06 .5 -.36 .75 -.76 1.25 -2.69 4 -.28 .5 -.14 .5 -1.59 0 -.54-1 -.01-.5 .34-.75 2.83-4.25 .58-1 .32-.75 .03-.25 -.05-.25 -.16-.25 -.71-.75 -.13-.25 0-.5 .3-.75 1.91-3.75 .64-1.5 .08-.5 -.08-.25 -.23-.25 -1.02-.75 -.14-.25 -.02-.25 .28-1 1.49-4 .3-1.25 -.04-.25 -.23-.25 -1.34-.68 -.23-.32 .07-.75 1.03-4 .2-1 .04-.5 -.11-.25 -.25-.16 -1.5-.48 -.18-.11 -.13-.25 .04-.75 .6-4 .09-1.25 -.08-.25 -.09-.06 -.5-.14 -1.5-.24 -.15-.06 -.14-.25 .18-4 .03-2 -.17-.2 -2.49-.05 -.07-.25 -.23-5.75 .18-.25 .11-.04 1.75-.26 .25-.07 .17-.13 .04-.5 -.07-.75zM399.85 212.6l0-.06 .89 .31 .32 .25 .04 .11 .05 .39 -.19 2 .14 .33 .5 .22 2.19 .45 .31 .25 .07 .5 -.11 1.75 .04 .32 .25 .15 .18 .03 3.27 .25 .13 .25 -.1 1.75 -.12 .5 -.11 .11 -.5 .12 -2.5 .1 -.5 .11 -.15 .31 -.09 1.75 -.13 .5 -.13 .13 -.5 .17 -2 .29 -.42 .16 -.14 .25 -.06 2.25 -.13 .28 -.5 .29 0-3.39 .24-.18 .09-.25 .07-2 .08-.5 .27-.15 .25-.03 2.19-.07 .56-.09 .16-.16 .06-.25 .09-2.25 -.06-.13 -.32-.12 -2.78-.25 -.15-.05 -.16-.2 .12-2.5 -.08-.25 -.13-.11 -.5-.19zM507.96 215.6l.14-.12 0 3.12 -.18-2.5zM399.85 219.6l0-.22 .25 .07 .14 .15 .03 .25 -.15 2.5 -.27 .21zM426.36 222.6l7.74 .07 1.75 .07 .76 .11 .24 .1 .25 .24 .47 1.16 .28 .29 .5 .21 .5 .09 3 .31 .75 .16 .3 .19 .14 .25 .27 1.25 .12 .25 .27 .25 .7 .25 2.2 .47 .48 .28 .2 .5 .11 1.25 .21 .44 .47 .31 1.78 .63 .23 .12 .26 .25 .14 .5 -.04 1.5 .16 .42 .35 .33 1.41 .75 .3 .25 .13 .25 .03 .5 -.25 1.5 .05 .5 .12 .25 .23 .25 .98 .75 .23 .25 .12 .25 .03 .25 -.08 .5 -.49 1.5 -.07 .5 .14 .5 .81 1 .2 .5 0 .25 -.14 .5 -.89 1.75 -.22 .75 .08 .5 .45 1 .05 .25 -.09 .5 -.42 .75 -1.16 1.5 -.5 .75 -.18 .5 .05 1.25 -.08 .5 -.12 .25 -.36 .5 -.49 .5 -2.91 2.5 -.54 .75 -.58 1.25 -.42 .5 -.63 .5 -.82 .5 -2.07 1.01 -8.25 3.24 -1.25 .41 -1.25 .3 -1.25 .19 -1.5 .14 -2 .03 -2-.12 -1.75-.26 -1.5-.38 -1.25-.44 -7.5-2.93 -2-.94 -.9-.5 -.73-.5 -.71-.75 -.58-1.25 -.54-.75 -2.91-2.5 -.49-.5 -.36-.5 -.18-.5 .05-1.25 -.09-.5 -.25-.5 -1.52-2 -.43-.75 -.07-.5 .04-.25 .45-1 .08-.5 -.22-.75 -.78-1.5 -.25-.75 .06-.5 .96-1.25 .13-.5 -.07-.5 -.55-1.75 .01-.5 .12-.25 .23-.25 .98-.75 .23-.25 .13-.25 .04-.5 -.25-1.5 .03-.5 .14-.25 .28-.25 1.42-.75 .3-.25 .15-.25 .06-.25 0-1.75 .09-.25 .15-.16 .66-.34 1.47-.5 .41-.25 .19-.25 .08-.25 .11-1.25 .19-.5 .39-.24 .25-.08 2.05-.43 .7-.25 .25-.23 .14-.27 .27-1.25 .14-.25 .2-.14 .75-.2 3.25-.34 .75-.22 .38-.35 .54-1.25 .33-.22 .5-.11 1.25-.08zM425.1 224.85l-4 .17 -1 .1 -.75 .15 -.25 .12 -.24 .21 -.52 1 -.19 .25 -.3 .22 -.87 .28 -2.63 .43 -.75 .21 -.25 .14 -.21 .22 -.11 .25 -.22 1 -.28 .5 -.43 .26 -2 .63 -.71 .36 -.18 .25 -.07 .25 -.09 1.25 -.19 .5 -.51 .4 -1.5 .73 -.41 .37 -.12 .5 .11 1.5 -.13 .5 -.45 .47 -1.08 .78 -.2 .25 -.09 .25 0 .5 .38 1.5 .02 .5 -.21 .5 -.89 1 -.18 .5 .15 .75 .68 1.5 .14 .5 -.02 .5 -.57 1.25 -.04 .5 .32 .75 1.23 1.75 .29 .5 .15 .5 .01 .25 -.09 1.25 .05 .25 .27 .5 .67 .75 2.48 2.25 .38 .5 .54 1.25 .31 .5 .5 .5 .71 .5 1.36 .75 1.98 .9 6.25 2.53 1.5 .52 1.75 .38 1.75 .2 2 .05 1.75-.11 2.25-.37 1-.27 1.25-.46 5.75-2.32 1.75-.77 1.94-1.03 .99-.75 .4-.5 .53-1.25 .31-.5 .71-.75 1.98-1.75 .48-.5 .35-.5 .17-.5 -.1-1.25 .07-.5 .38-.75 1.23-1.75 .31-.75 -.03-.5 -.57-1.25 -.03-.5 .15-.5 .68-1.5 .15-.75 -.18-.5 -.89-1 -.21-.5 .02-.5 .38-1.5 0-.5 -.09-.25 -.38-.4 -1.16-.85 -.2-.25 -.09-.25 -.03-.5 .11-1.25 -.13-.5 -.22-.25 -.28-.18 -1.5-.72 -.41-.35 -.19-.5 -.09-1.25 -.08-.25 -.17-.25 -.56-.31 -2-.62 -.58-.32 -.28-.5 -.22-1 -.11-.25 -.24-.25 -.66-.25 -2.93-.5 -.83-.25 -.35-.25 -.2-.25 -.35-.75 -.25-.34 -.25-.17 -.5-.16 -1.5-.17 -3.25-.14 -3.25-.06zM424.83 227.1l2.77-.07 2.75 .04 3.25 .19 2 .24 .5 .13 .5 .27 .25 .29 .54 .91 .46 .37 .75 .28 2.25 .53 .93 .32 .31 .25 .15 .25 .33 1.25 .28 .41 .54 .34 1.79 .75 .36 .25 .19 .25 .11 .5 .02 1 .12 .5 .17 .25 .27 .25 1.18 .75 .3 .25 .17 .25 .11 .5 -.23 1.5 .05 .5 .3 .5 .96 1 .18 .5 -.07 .5 -.55 1.5 -.1 .5 .08 .5 .65 1.25 .03 .5 -.29 .75 -.96 1.5 -.26 .5 -.11 .5 .15 1.25 -.05 .5 -.26 .5 -.4 .5 -1.83 1.75 -.67 .75 -.28 .5 -.49 1.25 -.38 .5 -.58 .5 -.77 .5 -1.2 .65 -1.5 .69 -6 2.54 -1.25 .41 -1.25 .28 -1.75 .21 -2 .04 -2-.15 -1.75-.34 -1.75-.59 -5.5-2.33 -1.94-.91 -1.31-.75 -.69-.5 -.48-.5 -.28-.5 -.37-1 -.48-.75 -2.07-2 -.45-.5 -.33-.5 -.16-.5 0-.25 .15-1 -.04-.5 -.33-.75 -1.09-1.75 -.16-.5 .04-.5 .64-1.25 .08-.5 -.1-.5 -.55-1.5 -.06-.5 .04-.25 .33-.5 .76-.75 .3-.5 .05-.5 -.22-1.5 .09-.5 .18-.25 .3-.25 1.18-.75 .27-.25 .17-.25 .12-.5 .05-1.25 .08-.25 .19-.25 .36-.25 1.79-.75 .44-.26 .24-.24 .15-.25 .32-1.25 .29-.38 .25-.16 .58-.21 2.42-.57 .75-.26 .29-.17 .27-.25 .69-1.1 .5-.33 .75-.19 .91-.13zM424.85 229.35l-3 .28 -1 .16 -.75 .19 -.64 .37 -.69 1 -.54 .5 -.63 .29 -2.5 .81 -.66 .4 -.28 .5 -.22 1 -.27 .5 -.57 .44 -1.45 .81 -.3 .25 -.18 .25 -.11 .5 .03 1.25 -.13 .5 -.41 .5 -.86 .75 -.34 .5 -.05 .5 .38 1.5 .05 .5 -.14 .5 -.74 1.25 -.05 .5 .26 .75 .69 1.25 .21 .5 .08 .5 -.23 1.5 .14 .5 .51 .75 1.44 1.5 .62 .75 .26 .5 .43 1.25 .35 .5 .55 .5 1.16 .75 1.58 .82 5.25 2.36 1.5 .57 1.5 .35 1.75 .2 1.75 .02 1.75-.16 1.5-.31 1.25-.42 5.25-2.33 1.5-.73 1.11-.62 .73-.5 .55-.5 .35-.5 .43-1.25 .26-.5 .39-.5 1.67-1.75 .38-.5 .23-.5 .04-.5 -.21-1 0-.5 .27-.75 .8-1.5 .15-.5 -.05-.5 -.74-1.25 -.13-.5 .04-.5 .34-1.25 .04-.5 -.18-.5 -1.07-1 -.4-.5 -.15-.5 .04-1.25 -.14-.54 -.15-.21 -.29-.25 -1.56-.87 -.47-.38 -.27-.5 -.26-1.11 -.24-.39 -.34-.25 -.42-.19 -2.25-.71 -.78-.35 -.47-.41 -.75-1.08 -.37-.26 -.74-.25 -.89-.17 -3.25-.32 -3.25-.11zM424.83 231.6l3.02-.14 3.25 .15 1.75 .2 1.5 .26 .95 .28 .46 .25 .34 .33 .62 .92 .38 .35 .71 .4 2.04 .85 .5 .31 .25 .27 .16 .32 .24 1.25 .29 .5 1.58 1.25 .37 .5 .08 .5 -.15 1.25 .03 .5 .22 .5 .75 1 .19 .5 .01 .25 -.11 .5 -.54 1.25 -.19 .75 .05 .5 .28 1 .01 .25 -.1 .5 -.46 .75 -1.28 1.5 -.35 .5 -.22 .5 -.36 1.25 -.31 .5 -.52 .5 -.69 .5 -1.73 .98 -5 2.4 -1 .38 -.88 .24 -1.62 .26 -1.5 .07 -1.75-.11 -1.5-.27 -1.75-.61 -5.5-2.68 -1.49-.91 -.85-.75 -.31-.5 -.36-1.25 -.23-.5 -.34-.5 -1.46-1.75 -.36-.75 -.01-.5 .28-1 .05-.5 -.1-.5 -.63-1.5 -.11-.5 0-.25 .2-.5 .75-1 .21-.5 .04-.5 -.15-1.25 .08-.5 .37-.5 1.33-1 .34-.37 .19-.38 .19-1 .17-.5 .2-.25 .5-.35 2.15-.9 .6-.33 .47-.42 .69-1 .59-.43 .5-.19 1-.24zM425.1 233.83l-1.5 .2 -1.25 .25 -1 .28 -.5 .23 -.5 .38 -.64 .93 -.44 .5 -.75 .5 -1.41 .75 -.66 .5 -.29 .5 -.15 1.25 -.16 .5 -.35 .5 -.93 1 -.25 .5 -.02 .5 .38 1.5 .03 .5 -.12 .5 -.38 1 -.03 .5 .06 .25 .23 .5 1.35 2 .18 .5 .26 1.25 .27 .5 .77 .75 1.3 .86 4.5 2.4 .75 .34 1 .34 1.25 .26 1.5 .12 1.5-.05 1.5-.24 1-.3 1-.42 4-2.11 1.56-.95 .64-.5 .47-.5 .27-.5 .26-1.25 .18-.5 .29-.5 .91-1.25 .38-.75 .06-.5 -.03-.25 -.45-1.25 -.05-.5 .41-1.75 -.02-.5 -.25-.5 -.93-1 -.35-.5 -.16-.5 -.15-1.25 -.29-.5 -.66-.5 -1.41-.75 -.75-.5 -.43-.48 -.72-1.02 -.53-.37 -.75-.28 -1-.25 -2.75-.4 -2.5-.12zM425.13 236.1l2.22-.2 2.25 .07 2.25 .34 1 .24 .9 .3 .5 .25 .35 .25 .25 .27 .6 .98 .4 .49 1.94 1.51 .21 .25 .23 .5 .04 1.75 .15 .5 .66 1.25 .1 .5 -.18 .75 -.88 1.75 -.11 .5 -.09 1 -.27 .75 -.66 .75 -1.64 1.16 -3.25 1.92 -.75 .35 -.94 .32 -1.06 .22 -1.25 .1 -1.25-.05 -1.25-.22 -.75-.22 -1-.43 -3.5-2.05 -1.53-1.1 -.67-.75 -.22-.5 -.14-1.25 -.11-.5 -.98-2 -.08-.5 .02-.25 .19-.5 .64-1.25 .08-.5 -.02-1.25 .12-.5 .15-.25 .5-.5 1.65-1.25 .4-.5 .61-1 .59-.5 .5-.25 .8-.27zM425.6 238.31l-1 .21 -1.09 .33 -.91 .42 -.46 .33 -.41 .5 -.47 1 -.32 .5 -1.29 1.5 -.22 .5 -.03 .5 .41 1.75 -.05 1.5 .06 .5 .4 .75 1.05 1 2.58 1.84 1.25 .69 1.25 .38 1.25 .15 1.25-.06 1.23-.25 1.27-.54 1.75-1.16 1.73-1.3 .53-.5 .4-.5 .22-.5 .05-.25 -.04-1.75 .37-1.5 .01-.75 -.09-.25 -.31-.5 -.91-1 -.38-.5 -.78-1.5 -.55-.49 -.46-.26 -1.54-.54 -2-.37 -1.75-.08zM399.85 237.6l.38 1.75 -.01 .25 -.12 .33 -.25 .3zM427.1 240.35l1.25-.03 1.5 .22 1.5 .51 .92 .55 .33 .33 .27 .42 .4 1.5 .47 1.25 .12 .5 .02 .25 -.09 .5 -.25 .5 -.6 .75 -1.09 1.07 -.75 .64 -.75 .5 -.75 .33 -.96 .21 -1.04 .04 -1-.14 -.75-.25 -.75-.4 -1-.79 -1.25-1.22 -.59-.74 -.32-.75 0-.5 .12-.5 .47-1.25 .31-1.25 .23-.5 .19-.25 .62-.5 .97-.47 1-.31zM427.1 242.58l-.75 .22 -.5 .23 -.76 .57 -.24 .3 -.21 .45 -.04 .5 .08 .5 .29 .75 .27 .5 .36 .5 .5 .47 .5 .3 .5 .17 .75 .1 .53-.04 .72-.19 .5-.26 .36-.3 .39-.44 .35-.56 .34-.75 .17-.75 -.05-.5 -.24-.5 -.21-.25 -.61-.48 -.5-.26 -.5-.18 -.75-.15 -.75-.02zM508.05 242.35l.05-.19 0 3.03 -.19-.09 -.29-.25 -.09-.25 .01-.25zM427.36 244.85l.24-.17 .25-.05 .25 .02 .35 .2 .15 .25 .03 .25 -.1 .25 -.18 .17 -.25 .11 -.25 .03 -.25-.06 -.25-.16 -.18-.34 .02-.25zM399.85 249.85l0-.25 .06 .25 -.04 .5zM508.09 250.1l.01 3.89 -.25-.17 -.61-.47 -.12-.25 -.01-.25 .2-.75zM399.85 252.85l0-.09 1.69 2.09 .46 .75 .11 .5 -.01 1.25 .06 .25 .28 .5 1 1 3.05 2.5 .57 .75 .61 1.25 .74 .75 .75 .5 .91 .5 2.28 1.04 9.25 3.45 -6.55 .01 -2.7-.97 -2.25-.92 -1.77-.86 -1.22-.75 -.76-.75 -.64-1.25 -.59-.75 -.88-.75 -2.6-2 -.8-.75 -.38-.5 -.19-.5 -.05-1.5 -.37-.71zM508.1 256.1l0 5.68 -.27 .57 -.15 .5 .01 .25 .11 .25 .3 .35 0 2.48 -.9 1.42 -1.54 2.25 -3.08 0 2.56-3.75 .77-1.25 .38-.75 .13-.5 -.04-.25 -.13-.25 -.71-.75 -.15-.25 -.01-.5 .41-1zM399.85 262.6l3.02 2.25 .9 .75 .6 .75 .67 1.25 .47 .5 1.1 .75 2.01 1 -4.65 0 -.38-.5 -.7-1.25 -.44-.5 -.93-.75 -1.67-1.18zM399.85 268.85l0-.24 .99 .74 .54 .5 -1.53 0z"/>
<path fill="#00c3ff" d="M424.94 237.1l1.22 0 -.31 .06 -.3 .19 -.95 .2 -.75 .11 -.3-.06 .35-.25zM429.64 237.1l1.23 0 1.03 .25 .35 .25 -.4 .06 -.54-.06 -1.06-.25 -.15-.13zM419.31 241.1l.29-.07 .06 .07 -.05 .25 -.26 .22 -.25-.22zM426.4 241.1l1.2-.12 1 .03 .8 .09 .95 .25 .57 .25 .67 .5 .29 .5 .05 .25 -.08 .32 -.25 .04 -.25-.09 -1.25-.66 -.75-.29 -1-.22 -.75-.01 -.5 .06 -1 .29 -1.75 .87 -.25 .07 -.18-.13 -.05-.25 .16-.5 .32-.38 .53-.37 .47-.21zM436.11 241.1l.24-.07 .25 .19 .07 .13 -.06 .25 -.26-.11zM427.75 244.85l.35 0 .26 .25 .02 .25 -.23 .25 -.3 .08 -.25-.1 -.18-.23 .01-.25 .17-.19zM432.34 244.85l.26 .12 .25 .37 .11 .51 -.01 .25 -.1 .32 -.25 .43 -.5 .49 -.42 .26 -.33 .13 -.25-.06 0-.32 .75-1.9 .25-.44zM423.09 245.1l.26-.23 .25 .03 .25 .35 .77 1.85 .09 .5 -.11 .14 -.25-.04 -.5-.26 -.5-.43 -.31-.41 -.19-.49 -.02-.26 .03-.25zM418.1 245.6l.25-.11 .03 .36 -.03 .05 -.08-.05zM437.41 245.6l.19-.16 .06 .16 -.05 .25 -.01 .02 -.09-.02z"/>
<path fill="#2fffd0" d="M427.61 245.1l.24-.17 .25 .08 .1 .09 0 .25 -.1 .1 -.25 .08 -.24-.18z"/>
<path fill="#9aff65" d="M427.75 245.1l.1-.07 .16 .07 -.02 .25 -.14 .06 -.09-.06z"/>
<rect x="397.85" y="209.60" width="112.20" height="13.03" fill="#031eea"/>
</g>
<path fill="#fff" fill-rule="evenodd" d="M0 0H550V299H0zM33.95 18.55h104.20v54.20h-104.20zM217.85 18.55h104.20v54.20h-104.20zM401.85 18.55h104.20v54.20h-104.20zM33.95 116.00h104.20v54.20h-104.20zM217.85 116.00h104.20v54.20h-104.20zM401.85 116.00h104.20v54.20h-104.20zM33.95 213.60h104.20v54.20h-104.20zM217.85 213.60h104.20v54.20h-104.20zM401.85 213.60h104.20v54.20h-104.20z"/>
<path fill="none" stroke="#000" stroke-opacity="0.22" stroke-width="0.7" d="M137.80 18.55v54.20M33.95 72.40h104.20M321.70 18.55v54.20M217.85 72.40h104.20M505.70 18.55v54.20M401.85 72.40h104.20M137.80 116.00v54.20M33.95 169.85h104.20M321.70 116.00v54.20M217.85 169.85h104.20M505.70 116.00v54.20M401.85 169.85h104.20M137.80 213.60v54.20M33.95 267.45h104.20M321.70 213.60v54.20M217.85 267.45h104.20M505.70 213.60v54.20M401.85 267.45h104.20"/>
<text x="86.05" y="12.25" font-size="11.9" text-anchor="middle" textLength="69.6" lengthAdjust="spacingAndGlyphs">(a) PML 20Hz</text>
<text x="33.95" y="85.25" font-size="9.5" text-anchor="middle" class="t">0</text>
<text x="86.05" y="85.25" font-size="9.5" text-anchor="middle" class="t">500</text>
<text x="138.15" y="85.25" font-size="9.5" text-anchor="middle" class="t">1000</text>
<text x="86.05" y="97.75" font-size="10.4" text-anchor="middle" textLength="20.0" lengthAdjust="spacingAndGlyphs">x(m)</text>
<text x="30.55" y="22.35" font-size="9.5" text-anchor="end" class="t">0</text>
<text x="30.55" y="76.55" font-size="9.5" text-anchor="end" class="t">500</text>
<text transform="translate(11.95 45.45) rotate(-90)" font-size="10.4" text-anchor="middle" textLength="20.5" lengthAdjust="spacingAndGlyphs">z(m)</text>
<rect x="152.70" y="18.65" width="8.80" height="54.30" fill="url(#jet)"/>
<text x="164.90" y="67.61" font-size="9.0" class="t">0</text>
<text x="164.90" y="54.88" font-size="9.0" class="t">0.05</text>
<text x="164.90" y="42.16" font-size="9.0" class="t">0.1</text>
<text x="164.90" y="29.44" font-size="9.0" class="t">0.15</text>
<text x="153.00" y="13.65" font-size="8.2" textLength="7.8" lengthAdjust="spacingAndGlyphs" font-weight="bold">Pa</text>
<text x="269.95" y="12.25" font-size="11.9" text-anchor="middle" textLength="70.6" lengthAdjust="spacingAndGlyphs">(b) PML 40Hz</text>
<text x="217.85" y="85.25" font-size="9.5" text-anchor="middle" class="t">0</text>
<text x="269.95" y="85.25" font-size="9.5" text-anchor="middle" class="t">500</text>
<text x="322.05" y="85.25" font-size="9.5" text-anchor="middle" class="t">1000</text>
<text x="269.95" y="97.75" font-size="10.4" text-anchor="middle" textLength="20.0" lengthAdjust="spacingAndGlyphs">x(m)</text>
<text x="214.45" y="22.35" font-size="9.5" text-anchor="end" class="t">0</text>
<text x="214.45" y="76.55" font-size="9.5" text-anchor="end" class="t">500</text>
<text transform="translate(195.85 45.45) rotate(-90)" font-size="10.4" text-anchor="middle" textLength="20.5" lengthAdjust="spacingAndGlyphs">z(m)</text>
<rect x="336.80" y="18.65" width="8.80" height="54.30" fill="url(#jet)"/>
<text x="349.00" y="66.65" font-size="9.0" class="t">0</text>
<text x="349.00" y="52.42" font-size="9.0" class="t">0.05</text>
<text x="349.00" y="38.19" font-size="9.0" class="t">0.1</text>
<text x="349.00" y="23.97" font-size="9.0" class="t">0.15</text>
<text x="337.10" y="13.65" font-size="8.2" textLength="7.8" lengthAdjust="spacingAndGlyphs" font-weight="bold">Pa</text>
<text x="453.95" y="12.25" font-size="11.9" text-anchor="middle" textLength="68.6" lengthAdjust="spacingAndGlyphs">(c) PML 60Hz</text>
<text x="401.85" y="85.25" font-size="9.5" text-anchor="middle" class="t">0</text>
<text x="453.95" y="85.25" font-size="9.5" text-anchor="middle" class="t">500</text>
<text x="506.05" y="85.25" font-size="9.5" text-anchor="middle" class="t">1000</text>
<text x="453.95" y="97.75" font-size="10.4" text-anchor="middle" textLength="20.0" lengthAdjust="spacingAndGlyphs">x(m)</text>
<text x="398.45" y="22.35" font-size="9.5" text-anchor="end" class="t">0</text>
<text x="398.45" y="76.55" font-size="9.5" text-anchor="end" class="t">500</text>
<text transform="translate(379.85 45.45) rotate(-90)" font-size="10.4" text-anchor="middle" textLength="20.5" lengthAdjust="spacingAndGlyphs">z(m)</text>
<rect x="520.90" y="18.65" width="8.80" height="54.30" fill="url(#jet)"/>
<text x="533.10" y="65.66" font-size="9.0" class="t">0</text>
<text x="533.10" y="50.13" font-size="9.0" class="t">0.05</text>
<text x="533.10" y="34.60" font-size="9.0" class="t">0.1</text>
<text x="521.20" y="13.65" font-size="8.2" textLength="7.8" lengthAdjust="spacingAndGlyphs" font-weight="bold">Pa</text>
<text x="86.05" y="109.70" font-size="11.9" text-anchor="middle" textLength="92.0" lengthAdjust="spacingAndGlyphs">(d) Neumann 20Hz</text>
<text x="33.95" y="182.70" font-size="9.5" text-anchor="middle" class="t">0</text>
<text x="86.05" y="182.70" font-size="9.5" text-anchor="middle" class="t">500</text>
<text x="138.15" y="182.70" font-size="9.5" text-anchor="middle" class="t">1000</text>
<text x="86.05" y="195.20" font-size="10.4" text-anchor="middle" textLength="20.0" lengthAdjust="spacingAndGlyphs">x(m)</text>
<text x="30.55" y="119.80" font-size="9.5" text-anchor="end" class="t">0</text>
<text x="30.55" y="174.00" font-size="9.5" text-anchor="end" class="t">500</text>
<text transform="translate(11.95 142.90) rotate(-90)" font-size="10.4" text-anchor="middle" textLength="20.5" lengthAdjust="spacingAndGlyphs">z(m)</text>
<rect x="152.70" y="116.10" width="8.80" height="54.30" fill="url(#jet)"/>
<text x="164.90" y="162.31" font-size="9.0" class="t">0</text>
<text x="164.90" y="148.69" font-size="9.0" class="t">0.05</text>
<text x="164.90" y="135.07" font-size="9.0" class="t">0.1</text>
<text x="164.90" y="121.45" font-size="9.0" class="t">0.15</text>
<text x="153.00" y="111.10" font-size="8.2" textLength="7.8" lengthAdjust="spacingAndGlyphs" font-weight="bold">Pa</text>
<text x="269.95" y="109.70" font-size="11.9" text-anchor="middle" textLength="89.6" lengthAdjust="spacingAndGlyphs">(e) Neumann 40Hz</text>
<text x="217.85" y="182.70" font-size="9.5" text-anchor="middle" class="t">0</text>
<text x="269.95" y="182.70" font-size="9.5" text-anchor="middle" class="t">500</text>
<text x="322.05" y="182.70" font-size="9.5" text-anchor="middle" class="t">1000</text>
<text x="269.95" y="195.20" font-size="10.4" text-anchor="middle" textLength="20.0" lengthAdjust="spacingAndGlyphs">x(m)</text>
<text x="214.45" y="119.80" font-size="9.5" text-anchor="end" class="t">0</text>
<text x="214.45" y="174.00" font-size="9.5" text-anchor="end" class="t">500</text>
<text transform="translate(195.85 142.90) rotate(-90)" font-size="10.4" text-anchor="middle" textLength="20.5" lengthAdjust="spacingAndGlyphs">z(m)</text>
<rect x="336.80" y="116.10" width="8.80" height="54.30" fill="url(#jet)"/>
<text x="349.00" y="162.31" font-size="9.0" class="t">0</text>
<text x="349.00" y="148.69" font-size="9.0" class="t">0.05</text>
<text x="349.00" y="135.07" font-size="9.0" class="t">0.1</text>
<text x="349.00" y="121.45" font-size="9.0" class="t">0.15</text>
<text x="337.10" y="111.10" font-size="8.2" textLength="7.8" lengthAdjust="spacingAndGlyphs" font-weight="bold">Pa</text>
<text x="453.95" y="109.70" font-size="11.9" text-anchor="middle" textLength="90.0" lengthAdjust="spacingAndGlyphs">(f) Neumann 60Hz</text>
<text x="401.85" y="182.70" font-size="9.5" text-anchor="middle" class="t">0</text>
<text x="453.95" y="182.70" font-size="9.5" text-anchor="middle" class="t">500</text>
<text x="506.05" y="182.70" font-size="9.5" text-anchor="middle" class="t">1000</text>
<text x="453.95" y="195.20" font-size="10.4" text-anchor="middle" textLength="20.0" lengthAdjust="spacingAndGlyphs">x(m)</text>
<text x="398.45" y="119.80" font-size="9.5" text-anchor="end" class="t">0</text>
<text x="398.45" y="174.00" font-size="9.5" text-anchor="end" class="t">500</text>
<text transform="translate(379.85 142.90) rotate(-90)" font-size="10.4" text-anchor="middle" textLength="20.5" lengthAdjust="spacingAndGlyphs">z(m)</text>
<rect x="520.90" y="116.10" width="8.80" height="54.30" fill="url(#jet)"/>
<text x="533.10" y="162.12" font-size="9.0" class="t">0</text>
<text x="533.10" y="147.15" font-size="9.0" class="t">0.05</text>
<text x="533.10" y="132.18" font-size="9.0" class="t">0.1</text>
<text x="521.20" y="111.10" font-size="8.2" textLength="7.8" lengthAdjust="spacingAndGlyphs" font-weight="bold">Pa</text>
<text x="86.05" y="207.30" font-size="11.9" text-anchor="middle" textLength="87.0" lengthAdjust="spacingAndGlyphs">(g) Air-layer 20Hz</text>
<text x="33.95" y="280.30" font-size="9.5" text-anchor="middle" class="t">0</text>
<text x="86.05" y="280.30" font-size="9.5" text-anchor="middle" class="t">500</text>
<text x="138.15" y="280.30" font-size="9.5" text-anchor="middle" class="t">1000</text>
<text x="86.05" y="292.80" font-size="10.4" text-anchor="middle" textLength="20.0" lengthAdjust="spacingAndGlyphs">x(m)</text>
<text x="30.55" y="226.43" font-size="9.5" text-anchor="end" class="t">0</text>
<text x="30.55" y="244.50" font-size="9.5" text-anchor="end" class="t">200</text>
<text x="30.55" y="262.57" font-size="9.5" text-anchor="end" class="t">400</text>
<text transform="translate(11.95 240.50) rotate(-90)" font-size="10.4" text-anchor="middle" textLength="20.5" lengthAdjust="spacingAndGlyphs">z(m)</text>
<rect x="152.70" y="213.70" width="8.80" height="54.30" fill="url(#jet)"/>
<text x="164.90" y="261.36" font-size="9.0" class="t">0</text>
<text x="164.90" y="239.42" font-size="9.0" class="t">0.1</text>
<text x="164.90" y="217.48" font-size="9.0" class="t">0.2</text>
<text x="153.00" y="208.70" font-size="8.2" textLength="7.8" lengthAdjust="spacingAndGlyphs" font-weight="bold">Pa</text>
<text x="269.95" y="207.30" font-size="11.9" text-anchor="middle" textLength="89.0" lengthAdjust="spacingAndGlyphs">(h) Air-layer 40Hz</text>
<text x="217.85" y="280.30" font-size="9.5" text-anchor="middle" class="t">0</text>
<text x="269.95" y="280.30" font-size="9.5" text-anchor="middle" class="t">500</text>
<text x="322.05" y="280.30" font-size="9.5" text-anchor="middle" class="t">1000</text>
<text x="269.95" y="292.80" font-size="10.4" text-anchor="middle" textLength="20.0" lengthAdjust="spacingAndGlyphs">x(m)</text>
<text x="214.45" y="226.43" font-size="9.5" text-anchor="end" class="t">0</text>
<text x="214.45" y="244.50" font-size="9.5" text-anchor="end" class="t">200</text>
<text x="214.45" y="262.57" font-size="9.5" text-anchor="end" class="t">400</text>
<text transform="translate(195.85 240.50) rotate(-90)" font-size="10.4" text-anchor="middle" textLength="20.5" lengthAdjust="spacingAndGlyphs">z(m)</text>
<rect x="336.80" y="213.70" width="8.80" height="54.30" fill="url(#jet)"/>
<text x="349.00" y="260.52" font-size="9.0" class="t">0</text>
<text x="349.00" y="246.62" font-size="9.0" class="t">0.05</text>
<text x="349.00" y="232.72" font-size="9.0" class="t">0.1</text>
<text x="349.00" y="218.82" font-size="9.0" class="t">0.15</text>
<text x="337.10" y="208.70" font-size="8.2" textLength="7.8" lengthAdjust="spacingAndGlyphs" font-weight="bold">Pa</text>
<text x="453.95" y="207.30" font-size="11.9" text-anchor="middle" textLength="85.0" lengthAdjust="spacingAndGlyphs">(i) Air-layer 60Hz</text>
<text x="401.85" y="280.30" font-size="9.5" text-anchor="middle" class="t">0</text>
<text x="453.95" y="280.30" font-size="9.5" text-anchor="middle" class="t">500</text>
<text x="506.05" y="280.30" font-size="9.5" text-anchor="middle" class="t">1000</text>
<text x="453.95" y="292.80" font-size="10.4" text-anchor="middle" textLength="20.0" lengthAdjust="spacingAndGlyphs">x(m)</text>
<text x="398.45" y="226.43" font-size="9.5" text-anchor="end" class="t">0</text>
<text x="398.45" y="244.50" font-size="9.5" text-anchor="end" class="t">200</text>
<text x="398.45" y="262.57" font-size="9.5" text-anchor="end" class="t">400</text>
<text transform="translate(379.85 240.50) rotate(-90)" font-size="10.4" text-anchor="middle" textLength="20.5" lengthAdjust="spacingAndGlyphs">z(m)</text>
<rect x="520.90" y="213.70" width="8.80" height="54.30" fill="url(#jet)"/>
<text x="533.10" y="259.96" font-size="9.0" class="t">0</text>
<text x="533.10" y="244.90" font-size="9.0" class="t">0.05</text>
<text x="533.10" y="229.85" font-size="9.0" class="t">0.1</text>
<text x="521.20" y="208.70" font-size="8.2" textLength="7.8" lengthAdjust="spacingAndGlyphs" font-weight="bold">Pa</text>
</svg></body></html>
